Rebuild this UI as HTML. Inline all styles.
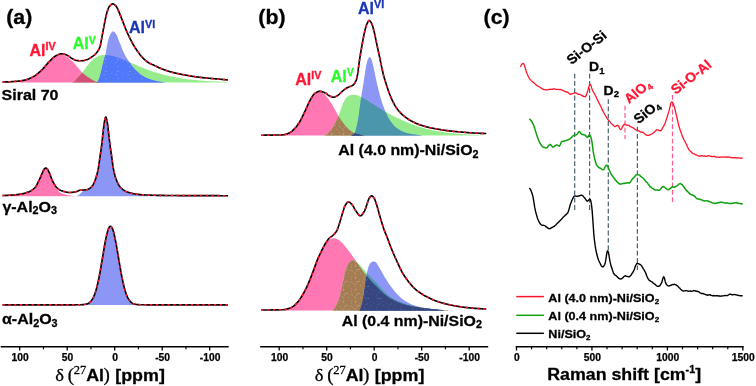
<!DOCTYPE html>
<html><head><meta charset="utf-8"><title>Figure</title>
<style>html,body{margin:0;padding:0;background:#fff}svg{display:block}</style></head>
<body>
<svg width="756" height="386" viewBox="0 0 756 386" font-family="Liberation Sans, Arial, sans-serif" font-weight="bold" stroke-linejoin="round">
<defs><pattern id="dW" width="12" height="12" patternUnits="userSpaceOnUse"><circle cx="3.1" cy="6.5" r="0.42" fill="#d9c3a5"/><circle cx="4.6" cy="7.1" r="0.42" fill="#d9c3a5"/><circle cx="7.4" cy="1.2" r="0.42" fill="#d9c3a5"/><circle cx="0.6" cy="9.7" r="0.42" fill="#d9c3a5"/><circle cx="3.4" cy="3.1" r="0.42" fill="#d9c3a5"/><circle cx="11.5" cy="5.7" r="0.42" fill="#d9c3a5"/><circle cx="9.7" cy="5.7" r="0.42" fill="#d9c3a5"/><circle cx="7.5" cy="2.2" r="0.42" fill="#d9c3a5"/><circle cx="7.5" cy="10.0" r="0.42" fill="#d9c3a5"/><circle cx="6.3" cy="8.7" r="0.42" fill="#d9c3a5"/><circle cx="7.9" cy="1.2" r="0.42" fill="#d9c3a5"/><circle cx="8.8" cy="7.0" r="0.42" fill="#d9c3a5"/><circle cx="3.8" cy="0.8" r="0.42" fill="#d9c3a5"/><circle cx="10.0" cy="5.7" r="0.42" fill="#d9c3a5"/></pattern><pattern id="dB" width="12" height="12" patternUnits="userSpaceOnUse"><circle cx="8.4" cy="10.2" r="0.42" fill="#5f86e6"/><circle cx="8.4" cy="10.6" r="0.42" fill="#5f86e6"/><circle cx="4.8" cy="9.3" r="0.42" fill="#5f86e6"/><circle cx="5.4" cy="10.8" r="0.42" fill="#5f86e6"/><circle cx="10.2" cy="1.6" r="0.42" fill="#5f86e6"/><circle cx="2.0" cy="2.9" r="0.42" fill="#5f86e6"/><circle cx="11.1" cy="5.3" r="0.42" fill="#5f86e6"/><circle cx="7.4" cy="3.8" r="0.42" fill="#5f86e6"/><circle cx="6.1" cy="4.7" r="0.42" fill="#5f86e6"/><circle cx="4.4" cy="6.9" r="0.42" fill="#5f86e6"/><circle cx="6.9" cy="10.4" r="0.42" fill="#5f86e6"/><circle cx="8.0" cy="10.7" r="0.42" fill="#5f86e6"/></pattern><pattern id="dP" width="12" height="12" patternUnits="userSpaceOnUse"><circle cx="9.9" cy="11.4" r="0.42" fill="#b79cf7"/><circle cx="7.9" cy="2.3" r="0.42" fill="#b79cf7"/><circle cx="10.0" cy="11.1" r="0.42" fill="#b79cf7"/><circle cx="10.5" cy="6.8" r="0.42" fill="#b79cf7"/><circle cx="8.4" cy="2.8" r="0.42" fill="#b79cf7"/><circle cx="9.6" cy="6.8" r="0.42" fill="#b79cf7"/><circle cx="3.6" cy="1.2" r="0.42" fill="#b79cf7"/><circle cx="9.9" cy="11.4" r="0.42" fill="#b79cf7"/></pattern><pattern id="dO" width="12" height="12" patternUnits="userSpaceOnUse"><circle cx="1.5" cy="9.3" r="0.42" fill="#ff9a8c"/><circle cx="5.0" cy="2.2" r="0.42" fill="#ff9a8c"/><circle cx="3.7" cy="9.0" r="0.42" fill="#ff9a8c"/><circle cx="10.1" cy="1.0" r="0.42" fill="#ff9a8c"/><circle cx="7.3" cy="1.0" r="0.42" fill="#ff9a8c"/><circle cx="8.4" cy="4.1" r="0.42" fill="#ff9a8c"/></pattern></defs>
<path d="M18.00,82.50 L18.00,82.50 L18.50,82.38 L19.00,82.26 L19.50,82.13 L20.00,82.00 L20.50,81.86 L21.00,81.73 L21.50,81.58 L22.00,81.44 L22.50,81.29 L23.00,81.14 L23.50,80.98 L24.00,80.83 L24.50,80.66 L25.00,80.50 L25.50,80.33 L26.00,80.17 L26.50,80.00 L27.00,79.83 L27.50,79.66 L28.00,79.48 L28.50,79.30 L29.00,79.11 L29.50,78.92 L30.00,78.72 L30.50,78.52 L31.00,78.30 L31.50,78.08 L32.00,77.85 L32.50,77.61 L33.00,77.36 L33.50,77.09 L34.00,76.81 L34.50,76.50 L35.00,76.17 L35.50,75.82 L36.00,75.46 L36.50,75.07 L37.00,74.68 L37.50,74.27 L38.00,73.85 L38.50,73.41 L39.00,72.97 L39.50,72.52 L40.00,72.07 L40.50,71.61 L41.00,71.15 L41.50,70.69 L42.00,70.22 L42.50,69.72 L43.00,69.19 L43.50,68.65 L44.00,68.08 L44.50,67.50 L45.00,66.91 L45.50,66.31 L46.00,65.71 L46.50,65.11 L47.00,64.52 L47.50,63.93 L48.00,63.36 L48.50,62.81 L49.00,62.28 L49.50,61.78 L50.00,61.30 L50.50,60.83 L51.00,60.35 L51.50,59.87 L52.00,59.39 L52.50,58.91 L53.00,58.44 L53.50,58.00 L54.00,57.58 L54.50,57.19 L55.00,56.84 L55.50,56.53 L56.00,56.27 L56.50,56.06 L57.00,55.91 L57.50,55.77 L58.00,55.63 L58.50,55.50 L59.00,55.38 L59.50,55.27 L60.00,55.18 L60.50,55.10 L61.00,55.05 L61.50,55.01 L62.00,55.00 L62.50,55.02 L63.00,55.09 L63.50,55.20 L64.00,55.35 L64.50,55.52 L65.00,55.72 L65.50,55.93 L66.00,56.16 L66.50,56.40 L67.00,56.67 L67.50,57.04 L68.00,57.49 L68.50,57.99 L69.00,58.51 L69.50,59.03 L70.00,59.50 L70.50,59.93 L71.00,60.36 L71.50,60.77 L72.00,61.18 L72.50,61.61 L73.00,62.05 L73.50,62.51 L74.00,63.00 L74.50,63.53 L75.00,64.09 L75.50,64.67 L76.00,65.28 L76.50,65.89 L77.00,66.51 L77.50,67.13 L78.00,67.75 L78.50,68.35 L79.00,68.93 L79.50,69.53 L80.00,70.14 L80.50,70.75 L81.00,71.33 L81.50,71.89 L82.00,72.41 L82.50,72.88 L83.00,73.33 L83.50,73.76 L84.00,74.17 L84.50,74.57 L85.00,74.96 L85.50,75.33 L86.00,75.70 L86.50,76.06 L87.00,76.41 L87.50,76.75 L88.00,77.09 L88.50,77.43 L89.00,77.77 L89.50,78.11 L90.00,78.44 L90.50,78.77 L91.00,79.09 L91.50,79.40 L92.00,79.70 L92.50,79.98 L93.00,80.25 L93.50,80.50 L94.00,80.74 L94.50,80.98 L95.00,81.21 L95.50,81.43 L96.00,81.63 L96.50,81.82 L97.00,81.97 L97.50,82.10 L98.00,82.21 L98.50,82.30 L99.00,82.39 L99.50,82.45 L99.50,82.50 Z" fill="#ff78b4"/>
<path d="M71.50,82.50 L71.50,82.47 L72.00,82.40 L72.50,82.30 L73.00,82.17 L73.50,81.94 L74.00,81.57 L74.50,81.10 L75.00,80.55 L75.50,79.97 L76.00,79.38 L76.50,78.82 L77.00,78.30 L77.50,77.79 L78.00,77.27 L78.50,76.75 L79.00,76.22 L79.50,75.68 L80.00,75.14 L80.50,74.58 L81.00,74.01 L81.50,73.43 L82.00,72.84 L82.50,72.23 L83.00,71.59 L83.50,70.92 L84.00,70.23 L84.50,69.54 L85.00,68.84 L85.50,68.15 L86.00,67.48 L86.50,66.83 L87.00,66.20 L87.50,65.56 L88.00,64.93 L88.50,64.30 L89.00,63.68 L89.50,63.08 L90.00,62.49 L90.50,61.93 L91.00,61.40 L91.50,60.90 L92.00,60.42 L92.50,59.95 L93.00,59.49 L93.50,59.04 L94.00,58.61 L94.50,58.20 L95.00,57.82 L95.50,57.47 L96.00,57.16 L96.50,56.90 L97.00,56.66 L97.50,56.43 L98.00,56.20 L98.50,55.99 L99.00,55.79 L99.50,55.62 L100.00,55.46 L100.50,55.34 L101.00,55.25 L101.50,55.19 L102.00,55.15 L102.50,55.11 L103.00,55.07 L103.50,55.04 L104.00,55.02 L104.50,55.00 L105.00,55.00 L105.50,55.01 L106.00,55.03 L106.50,55.06 L107.00,55.10 L107.50,55.15 L108.00,55.21 L108.50,55.28 L109.00,55.35 L109.50,55.43 L110.00,55.51 L110.50,55.60 L111.00,55.68 L111.50,55.77 L112.00,55.85 L112.50,55.95 L113.00,56.06 L113.50,56.18 L114.00,56.31 L114.50,56.45 L115.00,56.60 L115.50,56.75 L116.00,56.91 L116.50,57.08 L117.00,57.25 L117.50,57.42 L118.00,57.60 L118.50,57.77 L119.00,57.95 L119.50,58.13 L120.00,58.30 L120.50,58.48 L121.00,58.66 L121.50,58.85 L122.00,59.04 L122.50,59.24 L123.00,59.45 L123.50,59.65 L124.00,59.86 L124.50,60.07 L125.00,60.29 L125.50,60.50 L126.00,60.72 L126.50,60.93 L127.00,61.15 L127.50,61.36 L128.00,61.57 L128.50,61.78 L129.00,61.99 L129.50,62.21 L130.00,62.42 L130.50,62.64 L131.00,62.85 L131.50,63.07 L132.00,63.28 L132.50,63.50 L133.00,63.72 L133.50,63.93 L134.00,64.15 L134.50,64.36 L135.00,64.58 L135.50,64.79 L136.00,65.01 L136.50,65.22 L137.00,65.43 L137.50,65.64 L138.00,65.85 L138.50,66.06 L139.00,66.27 L139.50,66.47 L140.00,66.68 L140.50,66.89 L141.00,67.10 L141.50,67.30 L142.00,67.51 L142.50,67.71 L143.00,67.91 L143.50,68.11 L144.00,68.31 L144.50,68.51 L145.00,68.70 L145.50,68.89 L146.00,69.08 L146.50,69.27 L147.00,69.46 L147.50,69.65 L148.00,69.84 L148.50,70.02 L149.00,70.20 L149.50,70.39 L150.00,70.57 L150.50,70.75 L151.00,70.92 L151.50,71.09 L152.00,71.27 L152.50,71.44 L153.00,71.60 L153.50,71.77 L154.00,71.93 L154.50,72.09 L155.00,72.25 L155.50,72.40 L156.00,72.56 L156.50,72.71 L157.00,72.86 L157.50,73.01 L158.00,73.16 L158.50,73.31 L159.00,73.45 L159.50,73.60 L160.00,73.74 L160.50,73.87 L161.00,74.01 L161.50,74.15 L162.00,74.28 L162.50,74.41 L163.00,74.54 L163.50,74.67 L164.00,74.80 L164.50,74.92 L165.00,75.05 L165.50,75.17 L166.00,75.29 L166.50,75.41 L167.00,75.53 L167.50,75.64 L168.00,75.76 L168.50,75.87 L169.00,75.98 L169.50,76.09 L170.00,76.20 L170.50,76.31 L171.00,76.41 L171.50,76.51 L172.00,76.62 L172.50,76.72 L173.00,76.81 L173.50,76.91 L174.00,77.01 L174.50,77.10 L175.00,77.20 L175.50,77.29 L176.00,77.38 L176.50,77.47 L177.00,77.57 L177.50,77.66 L178.00,77.75 L178.50,77.84 L179.00,77.93 L179.50,78.02 L180.00,78.11 L180.50,78.20 L181.00,78.29 L181.50,78.38 L182.00,78.47 L182.50,78.56 L183.00,78.65 L183.50,78.73 L184.00,78.81 L184.50,78.89 L185.00,78.97 L185.50,79.04 L186.00,79.11 L186.50,79.18 L187.00,79.24 L187.50,79.29 L188.00,79.35 L188.50,79.40 L189.00,79.45 L189.50,79.50 L190.00,79.55 L190.50,79.59 L191.00,79.64 L191.50,79.68 L192.00,79.73 L192.50,79.77 L193.00,79.82 L193.50,79.86 L194.00,79.91 L194.50,79.95 L195.00,80.00 L195.50,80.05 L196.00,80.10 L196.50,80.15 L197.00,80.20 L197.50,80.25 L198.00,80.30 L198.50,80.36 L199.00,80.41 L199.50,80.46 L200.00,80.51 L200.50,80.56 L201.00,80.61 L201.50,80.65 L202.00,80.70 L202.50,80.74 L203.00,80.78 L203.50,80.81 L204.00,80.85 L204.50,80.89 L205.00,80.92 L205.50,80.95 L206.00,80.98 L206.50,81.01 L207.00,81.05 L207.50,81.07 L208.00,81.10 L208.50,81.13 L209.00,81.16 L209.50,81.19 L210.00,81.21 L210.50,81.24 L211.00,81.26 L211.50,81.29 L212.00,81.31 L212.50,81.34 L213.00,81.36 L213.50,81.39 L214.00,81.41 L214.50,81.43 L215.00,81.45 L215.50,81.47 L216.00,81.49 L216.50,81.51 L217.00,81.53 L217.50,81.56 L218.00,81.58 L218.50,81.60 L219.00,81.62 L219.50,81.64 L220.00,81.66 L220.50,81.68 L221.00,81.70 L221.50,81.72 L222.00,81.74 L222.50,81.76 L223.00,81.79 L223.50,81.81 L224.00,81.83 L224.50,81.85 L225.00,81.87 L225.50,81.89 L226.00,81.91 L226.50,81.94 L227.00,81.96 L227.50,81.98 L228.00,82.00 L228.00,82.50 Z" fill="#96eb8c"/>
<path d="M96.50,82.50 L96.50,82.50 L97.00,82.35 L97.50,82.00 L98.00,81.29 L98.50,80.10 L99.00,78.66 L99.50,77.22 L100.00,75.67 L100.50,73.96 L101.00,72.13 L101.50,70.21 L102.00,68.06 L102.50,65.76 L103.00,63.49 L103.50,61.41 L104.00,59.61 L104.50,57.91 L105.00,56.11 L105.50,53.99 L106.00,51.35 L106.50,48.47 L107.00,45.67 L107.50,43.30 L108.00,41.27 L108.50,39.34 L109.00,37.60 L109.50,36.12 L110.00,35.00 L110.50,34.09 L111.00,33.23 L111.50,32.47 L112.00,31.85 L112.50,31.45 L113.00,31.30 L113.50,31.40 L114.00,31.66 L114.50,32.08 L115.00,32.62 L115.50,33.25 L116.00,33.95 L116.50,34.70 L117.00,35.56 L117.50,36.83 L118.00,38.32 L118.50,39.74 L119.00,40.97 L119.50,42.14 L120.00,43.30 L120.50,44.50 L121.00,45.78 L121.50,47.13 L122.00,48.49 L122.50,49.81 L123.00,51.03 L123.50,52.12 L124.00,53.14 L124.50,54.11 L125.00,55.04 L125.50,55.93 L126.00,56.80 L126.50,57.63 L127.00,58.45 L127.50,59.24 L128.00,60.03 L128.50,60.81 L129.00,61.58 L129.50,62.34 L130.00,63.09 L130.50,63.82 L131.00,64.53 L131.50,65.22 L132.00,65.89 L132.50,66.53 L133.00,67.14 L133.50,67.73 L134.00,68.30 L134.50,68.85 L135.00,69.39 L135.50,69.91 L136.00,70.41 L136.50,70.89 L137.00,71.36 L137.50,71.81 L138.00,72.25 L138.50,72.67 L139.00,73.08 L139.50,73.48 L140.00,73.88 L140.50,74.27 L141.00,74.65 L141.50,75.03 L142.00,75.38 L142.50,75.73 L143.00,76.06 L143.50,76.37 L144.00,76.67 L144.50,76.94 L145.00,77.20 L145.50,77.44 L146.00,77.68 L146.50,77.90 L147.00,78.13 L147.50,78.34 L148.00,78.54 L148.50,78.74 L149.00,78.93 L149.50,79.12 L150.00,79.29 L150.50,79.47 L151.00,79.63 L151.50,79.79 L152.00,79.94 L152.50,80.08 L153.00,80.22 L153.50,80.35 L154.00,80.48 L154.50,80.60 L155.00,80.73 L155.50,80.84 L156.00,80.96 L156.50,81.07 L157.00,81.17 L157.50,81.28 L158.00,81.37 L158.50,81.47 L159.00,81.56 L159.50,81.65 L160.00,81.74 L160.50,81.82 L161.00,81.90 L161.50,81.97 L162.00,82.04 L162.50,82.11 L163.00,82.18 L163.50,82.24 L164.00,82.30 L164.50,82.35 L165.00,82.41 L165.50,82.45 L165.50,82.50 Z" fill="#8c96f5"/>
<path d="M18.00,82.50 L18.00,82.50 L18.50,82.38 L19.00,82.26 L19.50,82.13 L20.00,82.00 L20.50,81.86 L21.00,81.73 L21.50,81.58 L22.00,81.44 L22.50,81.29 L23.00,81.14 L23.50,80.98 L24.00,80.83 L24.50,80.66 L25.00,80.50 L25.50,80.33 L26.00,80.17 L26.50,80.00 L27.00,79.83 L27.50,79.66 L28.00,79.48 L28.50,79.30 L29.00,79.11 L29.50,78.92 L30.00,78.72 L30.50,78.52 L31.00,78.30 L31.50,78.08 L32.00,77.85 L32.50,77.61 L33.00,77.36 L33.50,77.09 L34.00,76.81 L34.50,76.50 L35.00,76.17 L35.50,75.82 L36.00,75.46 L36.50,75.07 L37.00,74.68 L37.50,74.27 L38.00,73.85 L38.50,73.41 L39.00,72.97 L39.50,72.52 L40.00,72.07 L40.50,71.61 L41.00,71.15 L41.50,70.69 L42.00,70.22 L42.50,69.72 L43.00,69.19 L43.50,68.65 L44.00,68.08 L44.50,67.50 L45.00,66.91 L45.50,66.31 L46.00,65.71 L46.50,65.11 L47.00,64.52 L47.50,63.93 L48.00,63.36 L48.50,62.81 L49.00,62.28 L49.50,61.78 L50.00,61.30 L50.50,60.83 L51.00,60.35 L51.50,59.87 L52.00,59.39 L52.50,58.91 L53.00,58.44 L53.50,58.00 L54.00,57.58 L54.50,57.19 L55.00,56.84 L55.50,56.53 L56.00,56.27 L56.50,56.06 L57.00,55.91 L57.50,55.77 L58.00,55.63 L58.50,55.50 L59.00,55.38 L59.50,55.27 L60.00,55.18 L60.50,55.10 L61.00,55.05 L61.50,55.01 L62.00,55.00 L62.50,55.02 L63.00,55.09 L63.50,55.20 L64.00,55.35 L64.50,55.52 L65.00,55.72 L65.50,55.93 L66.00,56.16 L66.50,56.40 L67.00,56.67 L67.50,57.04 L68.00,57.49 L68.50,57.99 L69.00,58.51 L69.50,59.03 L70.00,59.50 L70.50,59.93 L71.00,60.36 L71.50,60.77 L72.00,61.18 L72.50,61.61 L73.00,62.05 L73.50,62.51 L74.00,63.00 L74.50,63.53 L75.00,64.09 L75.50,64.67 L76.00,65.28 L76.50,65.89 L77.00,66.51 L77.50,67.13 L78.00,67.75 L78.50,68.35 L79.00,68.93 L79.50,69.53 L80.00,70.14 L80.50,70.75 L81.00,71.33 L81.50,71.89 L82.00,72.41 L82.50,72.88 L83.00,73.33 L83.50,73.76 L84.00,74.17 L84.50,74.57 L85.00,74.96 L85.50,75.33 L86.00,75.70 L86.50,76.06 L87.00,76.41 L87.50,76.75 L88.00,77.09 L88.50,77.43 L89.00,77.77 L89.50,78.11 L90.00,78.44 L90.50,78.77 L91.00,79.09 L91.50,79.40 L92.00,79.70 L92.50,79.98 L93.00,80.25 L93.50,80.50 L94.00,80.74 L94.50,80.98 L95.00,81.21 L95.50,81.43 L96.00,81.63 L96.50,81.82 L97.00,81.97 L97.50,82.10 L98.00,82.21 L98.50,82.30 L99.00,82.39 L99.50,82.45 L99.50,82.50 Z" fill="url(#dO)"/>
<path d="M71.50,82.50 L71.50,82.47 L72.00,82.40 L72.50,82.30 L73.00,82.17 L73.50,81.94 L74.00,81.57 L74.50,81.10 L75.00,80.55 L75.50,79.97 L76.00,79.38 L76.50,78.82 L77.00,78.30 L77.50,77.79 L78.00,77.27 L78.50,76.75 L79.00,76.22 L79.50,75.68 L80.00,75.14 L80.50,74.58 L81.00,74.01 L81.50,73.43 L82.00,72.84 L82.50,72.88 L83.00,73.33 L83.50,73.76 L84.00,74.17 L84.50,74.57 L85.00,74.96 L85.50,75.33 L86.00,75.70 L86.50,76.06 L87.00,76.41 L87.50,76.75 L88.00,77.09 L88.50,77.43 L89.00,77.77 L89.50,78.11 L90.00,78.44 L90.50,78.77 L91.00,79.09 L91.50,79.40 L92.00,79.70 L92.50,79.98 L93.00,80.25 L93.50,80.50 L94.00,80.74 L94.50,80.98 L95.00,81.21 L95.50,81.43 L96.00,81.63 L96.50,81.82 L97.00,81.97 L97.50,82.10 L98.00,82.21 L98.50,82.30 L99.00,82.39 L99.50,82.45 L99.50,82.50 Z" fill="#d25078"/>
<path d="M96.50,82.50 L96.50,82.50 L97.00,82.35 L97.50,82.00 L98.00,81.29 L98.50,80.10 L99.00,78.66 L99.50,77.22 L100.00,75.67 L100.50,73.96 L101.00,72.13 L101.50,70.21 L102.00,68.06 L102.50,65.76 L103.00,63.49 L103.50,61.41 L104.00,59.61 L104.50,57.91 L105.00,56.11 L105.50,55.01 L106.00,55.03 L106.50,55.06 L107.00,55.10 L107.50,55.15 L108.00,55.21 L108.50,55.28 L109.00,55.35 L109.50,55.43 L110.00,55.51 L110.50,55.60 L111.00,55.68 L111.50,55.77 L112.00,55.85 L112.50,55.95 L113.00,56.06 L113.50,56.18 L114.00,56.31 L114.50,56.45 L115.00,56.60 L115.50,56.75 L116.00,56.91 L116.50,57.08 L117.00,57.25 L117.50,57.42 L118.00,57.60 L118.50,57.77 L119.00,57.95 L119.50,58.13 L120.00,58.30 L120.50,58.48 L121.00,58.66 L121.50,58.85 L122.00,59.04 L122.50,59.24 L123.00,59.45 L123.50,59.65 L124.00,59.86 L124.50,60.07 L125.00,60.29 L125.50,60.50 L126.00,60.72 L126.50,60.93 L127.00,61.15 L127.50,61.36 L128.00,61.57 L128.50,61.78 L129.00,61.99 L129.50,62.34 L130.00,63.09 L130.50,63.82 L131.00,64.53 L131.50,65.22 L132.00,65.89 L132.50,66.53 L133.00,67.14 L133.50,67.73 L134.00,68.30 L134.50,68.85 L135.00,69.39 L135.50,69.91 L136.00,70.41 L136.50,70.89 L137.00,71.36 L137.50,71.81 L138.00,72.25 L138.50,72.67 L139.00,73.08 L139.50,73.48 L140.00,73.88 L140.50,74.27 L141.00,74.65 L141.50,75.03 L142.00,75.38 L142.50,75.73 L143.00,76.06 L143.50,76.37 L144.00,76.67 L144.50,76.94 L145.00,77.20 L145.50,77.44 L146.00,77.68 L146.50,77.90 L147.00,78.13 L147.50,78.34 L148.00,78.54 L148.50,78.74 L149.00,78.93 L149.50,79.12 L150.00,79.29 L150.50,79.47 L151.00,79.63 L151.50,79.79 L152.00,79.94 L152.50,80.08 L153.00,80.22 L153.50,80.35 L154.00,80.48 L154.50,80.60 L155.00,80.73 L155.50,80.84 L156.00,80.96 L156.50,81.07 L157.00,81.17 L157.50,81.28 L158.00,81.37 L158.50,81.47 L159.00,81.56 L159.50,81.65 L160.00,81.74 L160.50,81.82 L161.00,81.90 L161.50,81.97 L162.00,82.04 L162.50,82.11 L163.00,82.18 L163.50,82.24 L164.00,82.30 L164.50,82.35 L165.00,82.41 L165.50,82.45 L165.50,82.50 Z" fill="#5078fa"/>
<path d="M96.50,82.50 L96.50,82.50 L97.00,82.35 L97.50,82.00 L98.00,81.29 L98.50,80.10 L99.00,78.66 L99.50,77.22 L100.00,75.67 L100.50,73.96 L101.00,72.13 L101.50,70.21 L102.00,68.06 L102.50,65.76 L103.00,63.49 L103.50,61.41 L104.00,59.61 L104.50,57.91 L105.00,56.11 L105.50,55.01 L106.00,55.03 L106.50,55.06 L107.00,55.10 L107.50,55.15 L108.00,55.21 L108.50,55.28 L109.00,55.35 L109.50,55.43 L110.00,55.51 L110.50,55.60 L111.00,55.68 L111.50,55.77 L112.00,55.85 L112.50,55.95 L113.00,56.06 L113.50,56.18 L114.00,56.31 L114.50,56.45 L115.00,56.60 L115.50,56.75 L116.00,56.91 L116.50,57.08 L117.00,57.25 L117.50,57.42 L118.00,57.60 L118.50,57.77 L119.00,57.95 L119.50,58.13 L120.00,58.30 L120.50,58.48 L121.00,58.66 L121.50,58.85 L122.00,59.04 L122.50,59.24 L123.00,59.45 L123.50,59.65 L124.00,59.86 L124.50,60.07 L125.00,60.29 L125.50,60.50 L126.00,60.72 L126.50,60.93 L127.00,61.15 L127.50,61.36 L128.00,61.57 L128.50,61.78 L129.00,61.99 L129.50,62.34 L130.00,63.09 L130.50,63.82 L131.00,64.53 L131.50,65.22 L132.00,65.89 L132.50,66.53 L133.00,67.14 L133.50,67.73 L134.00,68.30 L134.50,68.85 L135.00,69.39 L135.50,69.91 L136.00,70.41 L136.50,70.89 L137.00,71.36 L137.50,71.81 L138.00,72.25 L138.50,72.67 L139.00,73.08 L139.50,73.48 L140.00,73.88 L140.50,74.27 L141.00,74.65 L141.50,75.03 L142.00,75.38 L142.50,75.73 L143.00,76.06 L143.50,76.37 L144.00,76.67 L144.50,76.94 L145.00,77.20 L145.50,77.44 L146.00,77.68 L146.50,77.90 L147.00,78.13 L147.50,78.34 L148.00,78.54 L148.50,78.74 L149.00,78.93 L149.50,79.12 L150.00,79.29 L150.50,79.47 L151.00,79.63 L151.50,79.79 L152.00,79.94 L152.50,80.08 L153.00,80.22 L153.50,80.35 L154.00,80.48 L154.50,80.60 L155.00,80.73 L155.50,80.84 L156.00,80.96 L156.50,81.07 L157.00,81.17 L157.50,81.28 L158.00,81.37 L158.50,81.47 L159.00,81.56 L159.50,81.65 L160.00,81.74 L160.50,81.82 L161.00,81.90 L161.50,81.97 L162.00,82.04 L162.50,82.11 L163.00,82.18 L163.50,82.24 L164.00,82.30 L164.50,82.35 L165.00,82.41 L165.50,82.45 L165.50,82.50 Z" fill="url(#dP)"/>
<path d="M96.50,82.50 L96.50,82.50 L97.00,82.35 L97.50,82.10 L98.00,82.21 L98.50,82.30 L99.00,82.39 L99.50,82.45 L99.50,82.50 Z" fill="#7a3c78"/>
<path d="M2.50,82.00 L3.00,82.00 L3.50,82.00 L4.00,81.99 L4.50,81.98 L5.00,81.97 L5.50,81.96 L6.00,81.94 L6.50,81.93 L7.00,81.91 L7.50,81.89 L8.00,81.87 L8.50,81.85 L9.00,81.82 L9.50,81.79 L10.00,81.77 L10.50,81.74 L11.00,81.71 L11.50,81.68 L12.00,81.64 L12.50,81.61 L13.00,81.58 L13.50,81.54 L14.00,81.51 L14.50,81.47 L15.00,81.43 L15.50,81.39 L16.00,81.35 L16.50,81.32 L17.00,81.28 L17.50,81.23 L18.00,81.18 L18.50,81.13 L19.00,81.06 L19.50,81.00 L20.00,80.93 L20.50,80.86 L21.00,80.78 L21.50,80.69 L22.00,80.61 L22.50,80.52 L23.00,80.42 L23.50,80.32 L24.00,80.22 L24.50,80.11 L25.00,80.00 L25.50,79.88 L26.00,79.75 L26.50,79.61 L27.00,79.45 L27.50,79.29 L28.00,79.11 L28.50,78.92 L29.00,78.73 L29.50,78.52 L30.00,78.31 L30.50,78.08 L31.00,77.85 L31.50,77.62 L32.00,77.37 L32.50,77.12 L33.00,76.86 L33.50,76.59 L34.00,76.31 L34.50,76.00 L35.00,75.67 L35.50,75.32 L36.00,74.96 L36.50,74.57 L37.00,74.18 L37.50,73.77 L38.00,73.35 L38.50,72.91 L39.00,72.47 L39.50,72.02 L40.00,71.57 L40.50,71.11 L41.00,70.65 L41.50,70.19 L42.00,69.72 L42.50,69.22 L43.00,68.70 L43.50,68.15 L44.00,67.59 L44.50,67.01 L45.00,66.42 L45.50,65.83 L46.00,65.23 L46.50,64.63 L47.00,64.04 L47.50,63.46 L48.00,62.89 L48.50,62.33 L49.00,61.80 L49.50,61.28 L50.00,60.80 L50.50,60.33 L51.00,59.84 L51.50,59.36 L52.00,58.88 L52.50,58.40 L53.00,57.94 L53.50,57.49 L54.00,57.06 L54.50,56.66 L55.00,56.29 L55.50,55.95 L56.00,55.65 L56.50,55.39 L57.00,55.17 L57.50,54.95 L58.00,54.74 L58.50,54.54 L59.00,54.35 L59.50,54.18 L60.00,54.04 L60.50,53.92 L61.00,53.84 L61.50,53.80 L62.00,53.81 L62.50,53.84 L63.00,53.91 L63.50,54.01 L64.00,54.13 L64.50,54.26 L65.00,54.42 L65.50,54.58 L66.00,54.75 L66.50,54.93 L67.00,55.12 L67.50,55.37 L68.00,55.67 L68.50,56.02 L69.00,56.39 L69.50,56.77 L70.00,57.16 L70.50,57.53 L71.00,57.88 L71.50,58.19 L72.00,58.46 L72.50,58.74 L73.00,59.02 L73.50,59.30 L74.00,59.56 L74.50,59.81 L75.00,60.03 L75.50,60.22 L76.00,60.37 L76.50,60.47 L77.00,60.53 L77.50,60.58 L78.00,60.63 L78.50,60.67 L79.00,60.70 L79.50,60.73 L80.00,60.76 L80.50,60.78 L81.00,60.79 L81.50,60.80 L82.00,60.79 L82.50,60.76 L83.00,60.69 L83.50,60.60 L84.00,60.49 L84.50,60.37 L85.00,60.23 L85.50,60.08 L86.00,59.92 L86.50,59.76 L87.00,59.60 L87.50,59.41 L88.00,59.19 L88.50,58.95 L89.00,58.69 L89.50,58.40 L90.00,58.10 L90.50,57.79 L91.00,57.47 L91.50,57.13 L92.00,56.80 L92.50,56.44 L93.00,56.07 L93.50,55.68 L94.00,55.26 L94.50,54.82 L95.00,54.35 L95.50,53.85 L96.00,53.31 L96.50,52.74 L97.00,52.13 L97.50,51.49 L98.00,50.78 L98.50,49.97 L99.00,49.04 L99.50,47.96 L100.00,46.70 L100.50,44.80 L101.00,42.17 L101.50,39.36 L102.00,36.74 L102.50,34.06 L103.00,31.34 L103.50,28.63 L104.00,26.01 L104.50,23.49 L105.00,20.92 L105.50,18.40 L106.00,16.06 L106.50,14.01 L107.00,12.29 L107.50,10.68 L108.00,9.20 L108.50,7.95 L109.00,6.98 L109.50,6.32 L110.00,5.73 L110.50,5.18 L111.00,4.70 L111.50,4.32 L112.00,4.05 L112.50,3.91 L113.00,3.93 L113.50,4.07 L114.00,4.33 L114.50,4.67 L115.00,5.08 L115.50,5.52 L116.00,6.01 L116.50,6.69 L117.00,7.57 L117.50,8.60 L118.00,9.73 L118.50,10.90 L119.00,12.05 L119.50,13.18 L120.00,14.37 L120.50,15.62 L121.00,16.91 L121.50,18.21 L122.00,19.52 L122.50,20.80 L123.00,22.08 L123.50,23.38 L124.00,24.68 L124.50,25.97 L125.00,27.24 L125.50,28.48 L126.00,29.67 L126.50,30.83 L127.00,31.96 L127.50,33.06 L128.00,34.15 L128.50,35.22 L129.00,36.28 L129.50,37.33 L130.00,38.38 L130.50,39.41 L131.00,40.43 L131.50,41.43 L132.00,42.38 L132.50,43.30 L133.00,44.18 L133.50,45.03 L134.00,45.86 L134.50,46.66 L135.00,47.45 L135.50,48.21 L136.00,48.97 L136.50,49.71 L137.00,50.44 L137.50,51.17 L138.00,51.89 L138.50,52.61 L139.00,53.32 L139.50,54.00 L140.00,54.67 L140.50,55.30 L141.00,55.91 L141.50,56.48 L142.00,57.02 L142.50,57.54 L143.00,58.06 L143.50,58.55 L144.00,59.04 L144.50,59.51 L145.00,59.96 L145.50,60.40 L146.00,60.82 L146.50,61.22 L147.00,61.61 L147.50,61.97 L148.00,62.31 L148.50,62.62 L149.00,62.92 L149.50,63.19 L150.00,63.45 L150.50,63.70 L151.00,63.94 L151.50,64.17 L152.00,64.40 L152.50,64.63 L153.00,64.86 L153.50,65.10 L154.00,65.33 L154.50,65.57 L155.00,65.81 L155.50,66.05 L156.00,66.29 L156.50,66.52 L157.00,66.76 L157.50,66.99 L158.00,67.22 L158.50,67.44 L159.00,67.67 L159.50,67.89 L160.00,68.10 L160.50,68.31 L161.00,68.52 L161.50,68.72 L162.00,68.92 L162.50,69.11 L163.00,69.31 L163.50,69.50 L164.00,69.69 L164.50,69.87 L165.00,70.06 L165.50,70.24 L166.00,70.42 L166.50,70.59 L167.00,70.76 L167.50,70.93 L168.00,71.09 L168.50,71.25 L169.00,71.40 L169.50,71.55 L170.00,71.70 L170.50,71.84 L171.00,71.98 L171.50,72.11 L172.00,72.24 L172.50,72.37 L173.00,72.50 L173.50,72.62 L174.00,72.74 L174.50,72.86 L175.00,72.97 L175.50,73.09 L176.00,73.20 L176.50,73.31 L177.00,73.42 L177.50,73.53 L178.00,73.64 L178.50,73.74 L179.00,73.85 L179.50,73.95 L180.00,74.05 L180.50,74.15 L181.00,74.25 L181.50,74.35 L182.00,74.44 L182.50,74.54 L183.00,74.63 L183.50,74.72 L184.00,74.81 L184.50,74.90 L185.00,74.99 L185.50,75.08 L186.00,75.17 L186.50,75.26 L187.00,75.35 L187.50,75.44 L188.00,75.53 L188.50,75.62 L189.00,75.71 L189.50,75.80 L190.00,75.89 L190.50,75.98 L191.00,76.07 L191.50,76.15 L192.00,76.24 L192.50,76.32 L193.00,76.40 L193.50,76.48 L194.00,76.55 L194.50,76.63 L195.00,76.70 L195.50,76.77 L196.00,76.84 L196.50,76.90 L197.00,76.97 L197.50,77.03 L198.00,77.10 L198.50,77.16 L199.00,77.22 L199.50,77.28 L200.00,77.34 L200.50,77.39 L201.00,77.45 L201.50,77.50 L202.00,77.56 L202.50,77.61 L203.00,77.67 L203.50,77.72 L204.00,77.77 L204.50,77.82 L205.00,77.88 L205.50,77.92 L206.00,77.97 L206.50,78.02 L207.00,78.07 L207.50,78.12 L208.00,78.16 L208.50,78.21 L209.00,78.26 L209.50,78.30 L210.00,78.35 L210.50,78.39 L211.00,78.44 L211.50,78.48 L212.00,78.53 L212.50,78.57 L213.00,78.62 L213.50,78.66 L214.00,78.70 L214.50,78.74 L215.00,78.78 L215.50,78.83 L216.00,78.87 L216.50,78.91 L217.00,78.95 L217.50,78.99 L218.00,79.04 L218.50,79.08 L219.00,79.12 L219.50,79.16 L220.00,79.21 L220.50,79.25 L221.00,79.30 L221.50,79.35 L222.00,79.39 L222.50,79.44 L223.00,79.49 L223.50,79.54 L224.00,79.59 L224.50,79.64 L225.00,79.69 L225.50,79.74 L226.00,79.79 L226.50,79.84 L227.00,79.89 L227.50,79.95 L228.00,80.00" fill="none" stroke="#000" stroke-width="1.65" stroke-linejoin="round"/>
<path d="M2.50,82.00 L3.00,82.00 L3.50,82.00 L4.00,81.99 L4.50,81.98 L5.00,81.97 L5.50,81.96 L6.00,81.94 L6.50,81.93 L7.00,81.91 L7.50,81.89 L8.00,81.87 L8.50,81.85 L9.00,81.82 L9.50,81.79 L10.00,81.77 L10.50,81.74 L11.00,81.71 L11.50,81.68 L12.00,81.64 L12.50,81.61 L13.00,81.58 L13.50,81.54 L14.00,81.51 L14.50,81.47 L15.00,81.43 L15.50,81.39 L16.00,81.35 L16.50,81.32 L17.00,81.28 L17.50,81.23 L18.00,81.18 L18.50,81.13 L19.00,81.06 L19.50,81.00 L20.00,80.93 L20.50,80.86 L21.00,80.78 L21.50,80.69 L22.00,80.61 L22.50,80.52 L23.00,80.42 L23.50,80.32 L24.00,80.22 L24.50,80.11 L25.00,80.00 L25.50,79.88 L26.00,79.75 L26.50,79.61 L27.00,79.45 L27.50,79.29 L28.00,79.11 L28.50,78.92 L29.00,78.73 L29.50,78.52 L30.00,78.31 L30.50,78.08 L31.00,77.85 L31.50,77.62 L32.00,77.37 L32.50,77.12 L33.00,76.86 L33.50,76.59 L34.00,76.31 L34.50,76.00 L35.00,75.67 L35.50,75.32 L36.00,74.96 L36.50,74.57 L37.00,74.18 L37.50,73.77 L38.00,73.35 L38.50,72.91 L39.00,72.47 L39.50,72.02 L40.00,71.57 L40.50,71.11 L41.00,70.65 L41.50,70.19 L42.00,69.72 L42.50,69.22 L43.00,68.70 L43.50,68.15 L44.00,67.59 L44.50,67.01 L45.00,66.42 L45.50,65.83 L46.00,65.23 L46.50,64.63 L47.00,64.04 L47.50,63.46 L48.00,62.89 L48.50,62.33 L49.00,61.80 L49.50,61.28 L50.00,60.80 L50.50,60.33 L51.00,59.84 L51.50,59.36 L52.00,58.88 L52.50,58.40 L53.00,57.94 L53.50,57.49 L54.00,57.06 L54.50,56.66 L55.00,56.29 L55.50,55.95 L56.00,55.65 L56.50,55.39 L57.00,55.17 L57.50,54.95 L58.00,54.74 L58.50,54.54 L59.00,54.35 L59.50,54.18 L60.00,54.04 L60.50,53.92 L61.00,53.84 L61.50,53.80 L62.00,53.81 L62.50,53.84 L63.00,53.91 L63.50,54.01 L64.00,54.13 L64.50,54.26 L65.00,54.42 L65.50,54.58 L66.00,54.75 L66.50,54.93 L67.00,55.12 L67.50,55.37 L68.00,55.67 L68.50,56.02 L69.00,56.39 L69.50,56.77 L70.00,57.16 L70.50,57.53 L71.00,57.88 L71.50,58.19 L72.00,58.46 L72.50,58.74 L73.00,59.02 L73.50,59.30 L74.00,59.56 L74.50,59.81 L75.00,60.03 L75.50,60.22 L76.00,60.37 L76.50,60.47 L77.00,60.53 L77.50,60.58 L78.00,60.63 L78.50,60.67 L79.00,60.70 L79.50,60.73 L80.00,60.76 L80.50,60.78 L81.00,60.79 L81.50,60.80 L82.00,60.79 L82.50,60.76 L83.00,60.69 L83.50,60.60 L84.00,60.49 L84.50,60.37 L85.00,60.23 L85.50,60.08 L86.00,59.92 L86.50,59.76 L87.00,59.60 L87.50,59.41 L88.00,59.19 L88.50,58.95 L89.00,58.69 L89.50,58.40 L90.00,58.10 L90.50,57.79 L91.00,57.47 L91.50,57.13 L92.00,56.80 L92.50,56.44 L93.00,56.07 L93.50,55.68 L94.00,55.26 L94.50,54.82 L95.00,54.35 L95.50,53.85 L96.00,53.31 L96.50,52.74 L97.00,52.13 L97.50,51.49 L98.00,50.78 L98.50,49.97 L99.00,49.04 L99.50,47.96 L100.00,46.70 L100.50,44.80 L101.00,42.17 L101.50,39.36 L102.00,36.74 L102.50,34.06 L103.00,31.34 L103.50,28.63 L104.00,26.01 L104.50,23.49 L105.00,20.92 L105.50,18.40 L106.00,16.06 L106.50,14.01 L107.00,12.29 L107.50,10.68 L108.00,9.20 L108.50,7.95 L109.00,6.98 L109.50,6.32 L110.00,5.73 L110.50,5.18 L111.00,4.70 L111.50,4.32 L112.00,4.05 L112.50,3.91 L113.00,3.93 L113.50,4.07 L114.00,4.33 L114.50,4.67 L115.00,5.08 L115.50,5.52 L116.00,6.01 L116.50,6.69 L117.00,7.57 L117.50,8.60 L118.00,9.73 L118.50,10.90 L119.00,12.05 L119.50,13.18 L120.00,14.37 L120.50,15.62 L121.00,16.91 L121.50,18.21 L122.00,19.52 L122.50,20.80 L123.00,22.08 L123.50,23.38 L124.00,24.68 L124.50,25.97 L125.00,27.24 L125.50,28.48 L126.00,29.67 L126.50,30.83 L127.00,31.96 L127.50,33.06 L128.00,34.15 L128.50,35.22 L129.00,36.28 L129.50,37.33 L130.00,38.38 L130.50,39.41 L131.00,40.43 L131.50,41.43 L132.00,42.38 L132.50,43.30 L133.00,44.18 L133.50,45.03 L134.00,45.86 L134.50,46.66 L135.00,47.45 L135.50,48.21 L136.00,48.97 L136.50,49.71 L137.00,50.44 L137.50,51.17 L138.00,51.89 L138.50,52.61 L139.00,53.32 L139.50,54.00 L140.00,54.67 L140.50,55.30 L141.00,55.91 L141.50,56.48 L142.00,57.02 L142.50,57.54 L143.00,58.06 L143.50,58.55 L144.00,59.04 L144.50,59.51 L145.00,59.96 L145.50,60.40 L146.00,60.82 L146.50,61.22 L147.00,61.61 L147.50,61.97 L148.00,62.31 L148.50,62.62 L149.00,62.92 L149.50,63.19 L150.00,63.45 L150.50,63.70 L151.00,63.94 L151.50,64.17 L152.00,64.40 L152.50,64.63 L153.00,64.86 L153.50,65.10 L154.00,65.33 L154.50,65.57 L155.00,65.81 L155.50,66.05 L156.00,66.29 L156.50,66.52 L157.00,66.76 L157.50,66.99 L158.00,67.22 L158.50,67.44 L159.00,67.67 L159.50,67.89 L160.00,68.10 L160.50,68.31 L161.00,68.52 L161.50,68.72 L162.00,68.92 L162.50,69.11 L163.00,69.31 L163.50,69.50 L164.00,69.69 L164.50,69.87 L165.00,70.06 L165.50,70.24 L166.00,70.42 L166.50,70.59 L167.00,70.76 L167.50,70.93 L168.00,71.09 L168.50,71.25 L169.00,71.40 L169.50,71.55 L170.00,71.70 L170.50,71.84 L171.00,71.98 L171.50,72.11 L172.00,72.24 L172.50,72.37 L173.00,72.50 L173.50,72.62 L174.00,72.74 L174.50,72.86 L175.00,72.97 L175.50,73.09 L176.00,73.20 L176.50,73.31 L177.00,73.42 L177.50,73.53 L178.00,73.64 L178.50,73.74 L179.00,73.85 L179.50,73.95 L180.00,74.05 L180.50,74.15 L181.00,74.25 L181.50,74.35 L182.00,74.44 L182.50,74.54 L183.00,74.63 L183.50,74.72 L184.00,74.81 L184.50,74.90 L185.00,74.99 L185.50,75.08 L186.00,75.17 L186.50,75.26 L187.00,75.35 L187.50,75.44 L188.00,75.53 L188.50,75.62 L189.00,75.71 L189.50,75.80 L190.00,75.89 L190.50,75.98 L191.00,76.07 L191.50,76.15 L192.00,76.24 L192.50,76.32 L193.00,76.40 L193.50,76.48 L194.00,76.55 L194.50,76.63 L195.00,76.70 L195.50,76.77 L196.00,76.84 L196.50,76.90 L197.00,76.97 L197.50,77.03 L198.00,77.10 L198.50,77.16 L199.00,77.22 L199.50,77.28 L200.00,77.34 L200.50,77.39 L201.00,77.45 L201.50,77.50 L202.00,77.56 L202.50,77.61 L203.00,77.67 L203.50,77.72 L204.00,77.77 L204.50,77.82 L205.00,77.88 L205.50,77.92 L206.00,77.97 L206.50,78.02 L207.00,78.07 L207.50,78.12 L208.00,78.16 L208.50,78.21 L209.00,78.26 L209.50,78.30 L210.00,78.35 L210.50,78.39 L211.00,78.44 L211.50,78.48 L212.00,78.53 L212.50,78.57 L213.00,78.62 L213.50,78.66 L214.00,78.70 L214.50,78.74 L215.00,78.78 L215.50,78.83 L216.00,78.87 L216.50,78.91 L217.00,78.95 L217.50,78.99 L218.00,79.04 L218.50,79.08 L219.00,79.12 L219.50,79.16 L220.00,79.21 L220.50,79.25 L221.00,79.30 L221.50,79.35 L222.00,79.39 L222.50,79.44 L223.00,79.49 L223.50,79.54 L224.00,79.59 L224.50,79.64 L225.00,79.69 L225.50,79.74 L226.00,79.79 L226.50,79.84 L227.00,79.89 L227.50,79.95 L228.00,80.00" fill="none" stroke="#ff1428" stroke-width="1.65" stroke-dasharray="2.3 3.5" stroke-linejoin="round"/>
<path d="M2.50,196.20 L2.50,196.00 L3.00,195.98 L3.50,195.96 L4.00,195.94 L4.50,195.92 L5.00,195.90 L5.50,195.87 L6.00,195.85 L6.50,195.82 L7.00,195.79 L7.50,195.76 L8.00,195.73 L8.50,195.70 L9.00,195.67 L9.50,195.63 L10.00,195.60 L10.50,195.57 L11.00,195.53 L11.50,195.49 L12.00,195.46 L12.50,195.42 L13.00,195.38 L13.50,195.33 L14.00,195.29 L14.50,195.25 L15.00,195.20 L15.50,195.15 L16.00,195.10 L16.50,195.04 L17.00,194.99 L17.50,194.93 L18.00,194.87 L18.50,194.81 L19.00,194.74 L19.50,194.67 L20.00,194.60 L20.50,194.52 L21.00,194.44 L21.50,194.35 L22.00,194.25 L22.50,194.14 L23.00,194.03 L23.50,193.91 L24.00,193.79 L24.50,193.65 L25.00,193.51 L25.50,193.36 L26.00,193.21 L26.50,193.05 L27.00,192.88 L27.50,192.70 L28.00,192.51 L28.50,192.32 L29.00,192.11 L29.50,191.88 L30.00,191.64 L30.50,191.37 L31.00,191.08 L31.50,190.77 L32.00,190.44 L32.50,190.08 L33.00,189.70 L33.50,189.29 L34.00,188.85 L34.50,188.39 L35.00,187.90 L35.50,187.32 L36.00,186.60 L36.50,185.78 L37.00,184.87 L37.50,183.89 L38.00,182.87 L38.50,181.83 L39.00,180.80 L39.50,179.78 L40.00,178.67 L40.50,177.51 L41.00,176.32 L41.50,175.13 L42.00,173.98 L42.50,172.90 L43.00,171.80 L43.50,170.69 L44.00,169.78 L44.50,169.20 L45.00,168.76 L45.50,168.46 L46.00,168.43 L46.50,168.68 L47.00,169.11 L47.50,169.62 L48.00,170.40 L48.50,171.39 L49.00,172.47 L49.50,173.57 L50.00,174.83 L50.50,176.20 L51.00,177.62 L51.50,179.02 L52.00,180.34 L52.50,181.50 L53.00,182.56 L53.50,183.60 L54.00,184.61 L54.50,185.57 L55.00,186.48 L55.50,187.32 L56.00,188.08 L56.50,188.76 L57.00,189.35 L57.50,189.91 L58.00,190.45 L58.50,190.96 L59.00,191.44 L59.50,191.88 L60.00,192.28 L60.50,192.64 L61.00,192.95 L61.50,193.21 L62.00,193.42 L62.50,193.62 L63.00,193.81 L63.50,193.99 L64.00,194.15 L64.50,194.31 L65.00,194.46 L65.50,194.60 L66.00,194.72 L66.50,194.85 L67.00,194.96 L67.50,195.06 L68.00,195.16 L68.50,195.26 L69.00,195.34 L69.50,195.42 L70.00,195.50 L70.50,195.57 L71.00,195.64 L71.50,195.71 L72.00,195.78 L72.50,195.85 L73.00,195.91 L73.50,195.96 L74.00,196.01 L74.50,196.06 L75.00,196.10 L75.50,196.14 L76.00,196.17 L76.00,196.20 Z" fill="#ff78b4"/>
<path d="M77.00,196.20 L77.00,196.20 L77.50,195.86 L78.00,195.51 L78.50,195.15 L79.00,194.77 L79.50,194.39 L80.00,194.00 L80.50,193.56 L81.00,193.05 L81.50,192.51 L82.00,191.97 L82.50,191.47 L83.00,191.03 L83.50,190.70 L84.00,190.50 L84.50,190.40 L85.00,190.33 L85.50,190.28 L86.00,190.22 L86.50,190.14 L87.00,190.03 L87.50,189.87 L88.00,189.67 L88.50,189.44 L89.00,189.17 L89.50,188.86 L90.00,188.52 L90.50,188.14 L91.00,187.73 L91.50,187.29 L92.00,186.78 L92.50,186.11 L93.00,185.29 L93.50,184.33 L94.00,183.25 L94.50,182.07 L95.00,180.82 L95.50,179.51 L96.00,178.12 L96.50,176.50 L97.00,174.63 L97.50,172.53 L98.00,170.20 L98.50,167.60 L99.00,164.34 L99.50,160.70 L100.00,157.10 L100.50,153.78 L101.00,150.48 L101.50,146.94 L102.00,142.83 L102.50,138.05 L103.00,133.40 L103.50,128.91 L104.00,124.76 L104.50,121.87 L105.00,119.41 L105.50,117.73 L106.00,117.55 L106.50,118.99 L107.00,121.35 L107.50,124.08 L108.00,128.07 L108.50,132.55 L109.00,136.85 L109.50,141.27 L110.00,145.40 L110.50,149.02 L111.00,152.37 L111.50,155.71 L112.00,159.33 L112.50,163.26 L113.00,166.91 L113.50,169.73 L114.00,172.14 L114.50,174.29 L115.00,176.19 L115.50,177.83 L116.00,179.24 L116.50,180.55 L117.00,181.77 L117.50,182.91 L118.00,183.95 L118.50,184.90 L119.00,185.74 L119.50,186.48 L120.00,187.10 L120.50,187.65 L121.00,188.17 L121.50,188.66 L122.00,189.12 L122.50,189.55 L123.00,189.95 L123.50,190.33 L124.00,190.68 L124.50,191.00 L125.00,191.29 L125.50,191.56 L126.00,191.80 L126.50,192.02 L127.00,192.21 L127.50,192.40 L128.00,192.58 L128.50,192.75 L129.00,192.91 L129.50,193.07 L130.00,193.22 L130.50,193.36 L131.00,193.50 L131.50,193.63 L132.00,193.75 L132.50,193.86 L133.00,193.97 L133.50,194.08 L134.00,194.17 L134.50,194.27 L135.00,194.35 L135.50,194.43 L136.00,194.51 L136.50,194.57 L137.00,194.64 L137.50,194.70 L138.00,194.76 L138.50,194.82 L139.00,194.87 L139.50,194.93 L140.00,194.98 L140.50,195.03 L141.00,195.07 L141.50,195.12 L142.00,195.16 L142.50,195.20 L143.00,195.24 L143.50,195.27 L144.00,195.30 L144.50,195.33 L145.00,195.36 L145.50,195.38 L146.00,195.40 L146.50,195.42 L147.00,195.44 L147.50,195.45 L148.00,195.47 L148.50,195.49 L149.00,195.50 L149.50,195.52 L150.00,195.54 L150.50,195.55 L151.00,195.57 L151.50,195.58 L152.00,195.60 L152.50,195.61 L153.00,195.62 L153.50,195.64 L154.00,195.65 L154.50,195.66 L155.00,195.67 L155.50,195.69 L156.00,195.70 L156.50,195.71 L157.00,195.72 L157.50,195.73 L158.00,195.74 L158.50,195.75 L159.00,195.76 L159.50,195.77 L160.00,195.78 L160.50,195.79 L161.00,195.80 L161.50,195.80 L162.00,195.81 L162.50,195.82 L163.00,195.83 L163.50,195.83 L164.00,195.84 L164.50,195.85 L165.00,195.85 L165.50,195.86 L166.00,195.87 L166.50,195.87 L167.00,195.88 L167.50,195.88 L168.00,195.88 L168.50,195.89 L169.00,195.89 L169.50,195.90 L170.00,195.90 L170.50,195.90 L171.00,195.91 L171.50,195.91 L172.00,195.91 L172.50,195.92 L173.00,195.92 L173.50,195.92 L174.00,195.93 L174.50,195.93 L175.00,195.93 L175.50,195.93 L176.00,195.94 L176.50,195.94 L177.00,195.94 L177.50,195.95 L178.00,195.95 L178.50,195.95 L179.00,195.96 L179.50,195.96 L180.00,195.96 L180.50,195.96 L181.00,195.97 L181.50,195.97 L182.00,195.97 L182.50,195.97 L183.00,195.98 L183.50,195.98 L184.00,195.98 L184.50,195.98 L185.00,195.99 L185.50,195.99 L186.00,195.99 L186.50,195.99 L187.00,196.00 L187.50,196.00 L188.00,196.00 L188.50,196.00 L189.00,196.01 L189.50,196.01 L190.00,196.01 L190.50,196.01 L191.00,196.02 L191.50,196.02 L192.00,196.02 L192.50,196.02 L193.00,196.02 L193.50,196.03 L194.00,196.03 L194.50,196.03 L195.00,196.03 L195.50,196.03 L196.00,196.04 L196.50,196.04 L197.00,196.04 L197.50,196.04 L198.00,196.04 L198.50,196.05 L199.00,196.05 L199.50,196.05 L200.00,196.05 L200.50,196.05 L201.00,196.05 L201.50,196.06 L202.00,196.06 L202.50,196.06 L203.00,196.06 L203.50,196.06 L204.00,196.06 L204.50,196.07 L205.00,196.07 L205.50,196.07 L206.00,196.07 L206.50,196.07 L207.00,196.07 L207.50,196.07 L208.00,196.07 L208.50,196.08 L209.00,196.08 L209.50,196.08 L210.00,196.08 L210.50,196.08 L211.00,196.08 L211.50,196.08 L212.00,196.08 L212.50,196.08 L213.00,196.09 L213.50,196.09 L214.00,196.09 L214.50,196.09 L215.00,196.09 L215.50,196.09 L216.00,196.09 L216.50,196.09 L217.00,196.09 L217.50,196.09 L218.00,196.09 L218.50,196.09 L219.00,196.09 L219.50,196.10 L220.00,196.10 L220.50,196.10 L221.00,196.10 L221.50,196.10 L222.00,196.10 L222.50,196.10 L223.00,196.10 L223.50,196.10 L224.00,196.10 L224.50,196.10 L225.00,196.10 L225.50,196.10 L226.00,196.10 L226.50,196.10 L227.00,196.10 L227.50,196.10 L228.00,196.10 L228.00,196.20 Z" fill="#8c96f5"/>
<path d="M2.50,195.50 L3.00,195.49 L3.50,195.48 L4.00,195.47 L4.50,195.45 L5.00,195.44 L5.50,195.42 L6.00,195.40 L6.50,195.38 L7.00,195.36 L7.50,195.33 L8.00,195.31 L8.50,195.28 L9.00,195.25 L9.50,195.23 L10.00,195.20 L10.50,195.17 L11.00,195.14 L11.50,195.11 L12.00,195.07 L12.50,195.03 L13.00,194.99 L13.50,194.95 L14.00,194.91 L14.50,194.86 L15.00,194.81 L15.50,194.76 L16.00,194.71 L16.50,194.65 L17.00,194.60 L17.50,194.54 L18.00,194.47 L18.50,194.41 L19.00,194.34 L19.50,194.27 L20.00,194.20 L20.50,194.12 L21.00,194.04 L21.50,193.95 L22.00,193.85 L22.50,193.74 L23.00,193.63 L23.50,193.51 L24.00,193.39 L24.50,193.25 L25.00,193.11 L25.50,192.96 L26.00,192.81 L26.50,192.65 L27.00,192.48 L27.50,192.30 L28.00,192.11 L28.50,191.92 L29.00,191.71 L29.50,191.48 L30.00,191.24 L30.50,190.97 L31.00,190.68 L31.50,190.37 L32.00,190.04 L32.50,189.68 L33.00,189.30 L33.50,188.89 L34.00,188.45 L34.50,187.99 L35.00,187.50 L35.50,186.92 L36.00,186.20 L36.50,185.38 L37.00,184.47 L37.50,183.49 L38.00,182.47 L38.50,181.43 L39.00,180.40 L39.50,179.38 L40.00,178.27 L40.50,177.11 L41.00,175.92 L41.50,174.73 L42.00,173.58 L42.50,172.50 L43.00,171.40 L43.50,170.29 L44.00,169.38 L44.50,168.80 L45.00,168.36 L45.50,168.06 L46.00,168.03 L46.50,168.28 L47.00,168.71 L47.50,169.22 L48.00,170.00 L48.50,171.00 L49.00,172.07 L49.50,173.16 L50.00,174.40 L50.50,175.74 L51.00,177.12 L51.50,178.46 L52.00,179.71 L52.50,180.80 L53.00,181.78 L53.50,182.73 L54.00,183.65 L54.50,184.52 L55.00,185.33 L55.50,186.08 L56.00,186.74 L56.50,187.30 L57.00,187.78 L57.50,188.22 L58.00,188.64 L58.50,189.04 L59.00,189.40 L59.50,189.73 L60.00,190.03 L60.50,190.30 L61.00,190.53 L61.50,190.73 L62.00,190.90 L62.50,191.06 L63.00,191.21 L63.50,191.37 L64.00,191.51 L64.50,191.65 L65.00,191.78 L65.50,191.91 L66.00,192.02 L66.50,192.13 L67.00,192.22 L67.50,192.30 L68.00,192.37 L68.50,192.43 L69.00,192.47 L69.50,192.49 L70.00,192.50 L70.50,192.49 L71.00,192.47 L71.50,192.43 L72.00,192.38 L72.50,192.32 L73.00,192.24 L73.50,192.16 L74.00,192.07 L74.50,191.97 L75.00,191.87 L75.50,191.76 L76.00,191.66 L76.50,191.54 L77.00,191.42 L77.50,191.24 L78.00,191.02 L78.50,190.79 L79.00,190.57 L79.50,190.40 L80.00,190.30 L80.50,190.25 L81.00,190.22 L81.50,190.19 L82.00,190.16 L82.50,190.14 L83.00,190.10 L83.50,190.06 L84.00,190.02 L84.50,189.98 L85.00,189.93 L85.50,189.87 L86.00,189.81 L86.50,189.73 L87.00,189.64 L87.50,189.50 L88.00,189.31 L88.50,189.07 L89.00,188.80 L89.50,188.49 L90.00,188.14 L90.50,187.75 L91.00,187.33 L91.50,186.89 L92.00,186.38 L92.50,185.73 L93.00,184.91 L93.50,183.96 L94.00,182.89 L94.50,181.72 L95.00,180.46 L95.50,179.13 L96.00,177.72 L96.50,176.10 L97.00,174.23 L97.50,172.13 L98.00,169.80 L98.50,167.20 L99.00,163.94 L99.50,160.30 L100.00,156.70 L100.50,153.38 L101.00,150.08 L101.50,146.54 L102.00,142.43 L102.50,137.65 L103.00,133.00 L103.50,128.51 L104.00,124.36 L104.50,121.47 L105.00,119.01 L105.50,117.33 L106.00,117.15 L106.50,118.59 L107.00,120.95 L107.50,123.68 L108.00,127.67 L108.50,132.15 L109.00,136.45 L109.50,140.87 L110.00,145.00 L110.50,148.62 L111.00,151.97 L111.50,155.31 L112.00,158.93 L112.50,162.86 L113.00,166.51 L113.50,169.33 L114.00,171.74 L114.50,173.89 L115.00,175.79 L115.50,177.43 L116.00,178.84 L116.50,180.15 L117.00,181.37 L117.50,182.51 L118.00,183.55 L118.50,184.50 L119.00,185.34 L119.50,186.08 L120.00,186.70 L120.50,187.25 L121.00,187.77 L121.50,188.26 L122.00,188.72 L122.50,189.15 L123.00,189.55 L123.50,189.93 L124.00,190.28 L124.50,190.60 L125.00,190.89 L125.50,191.16 L126.00,191.40 L126.50,191.62 L127.00,191.81 L127.50,192.00 L128.00,192.18 L128.50,192.35 L129.00,192.51 L129.50,192.67 L130.00,192.82 L130.50,192.96 L131.00,193.10 L131.50,193.23 L132.00,193.35 L132.50,193.46 L133.00,193.57 L133.50,193.68 L134.00,193.77 L134.50,193.87 L135.00,193.95 L135.50,194.03 L136.00,194.11 L136.50,194.17 L137.00,194.24 L137.50,194.30 L138.00,194.36 L138.50,194.42 L139.00,194.47 L139.50,194.53 L140.00,194.58 L140.50,194.63 L141.00,194.67 L141.50,194.72 L142.00,194.76 L142.50,194.80 L143.00,194.84 L143.50,194.87 L144.00,194.90 L144.50,194.93 L145.00,194.96 L145.50,194.98 L146.00,195.00 L146.50,195.02 L147.00,195.04 L147.50,195.05 L148.00,195.07 L148.50,195.09 L149.00,195.10 L149.50,195.12 L150.00,195.14 L150.50,195.15 L151.00,195.17 L151.50,195.18 L152.00,195.20 L152.50,195.21 L153.00,195.22 L153.50,195.24 L154.00,195.25 L154.50,195.26 L155.00,195.27 L155.50,195.29 L156.00,195.30 L156.50,195.31 L157.00,195.32 L157.50,195.33 L158.00,195.34 L158.50,195.35 L159.00,195.36 L159.50,195.37 L160.00,195.38 L160.50,195.39 L161.00,195.40 L161.50,195.40 L162.00,195.41 L162.50,195.42 L163.00,195.43 L163.50,195.43 L164.00,195.44 L164.50,195.45 L165.00,195.45 L165.50,195.46 L166.00,195.47 L166.50,195.47 L167.00,195.48 L167.50,195.48 L168.00,195.48 L168.50,195.49 L169.00,195.49 L169.50,195.50 L170.00,195.50 L170.50,195.50 L171.00,195.51 L171.50,195.51 L172.00,195.51 L172.50,195.52 L173.00,195.52 L173.50,195.52 L174.00,195.53 L174.50,195.53 L175.00,195.53 L175.50,195.53 L176.00,195.54 L176.50,195.54 L177.00,195.54 L177.50,195.55 L178.00,195.55 L178.50,195.55 L179.00,195.56 L179.50,195.56 L180.00,195.56 L180.50,195.56 L181.00,195.57 L181.50,195.57 L182.00,195.57 L182.50,195.57 L183.00,195.58 L183.50,195.58 L184.00,195.58 L184.50,195.58 L185.00,195.59 L185.50,195.59 L186.00,195.59 L186.50,195.59 L187.00,195.60 L187.50,195.60 L188.00,195.60 L188.50,195.60 L189.00,195.61 L189.50,195.61 L190.00,195.61 L190.50,195.61 L191.00,195.62 L191.50,195.62 L192.00,195.62 L192.50,195.62 L193.00,195.62 L193.50,195.63 L194.00,195.63 L194.50,195.63 L195.00,195.63 L195.50,195.63 L196.00,195.64 L196.50,195.64 L197.00,195.64 L197.50,195.64 L198.00,195.64 L198.50,195.65 L199.00,195.65 L199.50,195.65 L200.00,195.65 L200.50,195.65 L201.00,195.65 L201.50,195.66 L202.00,195.66 L202.50,195.66 L203.00,195.66 L203.50,195.66 L204.00,195.66 L204.50,195.67 L205.00,195.67 L205.50,195.67 L206.00,195.67 L206.50,195.67 L207.00,195.67 L207.50,195.67 L208.00,195.67 L208.50,195.68 L209.00,195.68 L209.50,195.68 L210.00,195.68 L210.50,195.68 L211.00,195.68 L211.50,195.68 L212.00,195.68 L212.50,195.68 L213.00,195.69 L213.50,195.69 L214.00,195.69 L214.50,195.69 L215.00,195.69 L215.50,195.69 L216.00,195.69 L216.50,195.69 L217.00,195.69 L217.50,195.69 L218.00,195.69 L218.50,195.69 L219.00,195.69 L219.50,195.70 L220.00,195.70 L220.50,195.70 L221.00,195.70 L221.50,195.70 L222.00,195.70 L222.50,195.70 L223.00,195.70 L223.50,195.70 L224.00,195.70 L224.50,195.70 L225.00,195.70 L225.50,195.70 L226.00,195.70 L226.50,195.70 L227.00,195.70 L227.50,195.70 L228.00,195.70" fill="none" stroke="#000" stroke-width="1.65" stroke-linejoin="round"/>
<path d="M2.50,195.50 L3.00,195.49 L3.50,195.48 L4.00,195.47 L4.50,195.45 L5.00,195.44 L5.50,195.42 L6.00,195.40 L6.50,195.38 L7.00,195.36 L7.50,195.33 L8.00,195.31 L8.50,195.28 L9.00,195.25 L9.50,195.23 L10.00,195.20 L10.50,195.17 L11.00,195.14 L11.50,195.11 L12.00,195.07 L12.50,195.03 L13.00,194.99 L13.50,194.95 L14.00,194.91 L14.50,194.86 L15.00,194.81 L15.50,194.76 L16.00,194.71 L16.50,194.65 L17.00,194.60 L17.50,194.54 L18.00,194.47 L18.50,194.41 L19.00,194.34 L19.50,194.27 L20.00,194.20 L20.50,194.12 L21.00,194.04 L21.50,193.95 L22.00,193.85 L22.50,193.74 L23.00,193.63 L23.50,193.51 L24.00,193.39 L24.50,193.25 L25.00,193.11 L25.50,192.96 L26.00,192.81 L26.50,192.65 L27.00,192.48 L27.50,192.30 L28.00,192.11 L28.50,191.92 L29.00,191.71 L29.50,191.48 L30.00,191.24 L30.50,190.97 L31.00,190.68 L31.50,190.37 L32.00,190.04 L32.50,189.68 L33.00,189.30 L33.50,188.89 L34.00,188.45 L34.50,187.99 L35.00,187.50 L35.50,186.92 L36.00,186.20 L36.50,185.38 L37.00,184.47 L37.50,183.49 L38.00,182.47 L38.50,181.43 L39.00,180.40 L39.50,179.38 L40.00,178.27 L40.50,177.11 L41.00,175.92 L41.50,174.73 L42.00,173.58 L42.50,172.50 L43.00,171.40 L43.50,170.29 L44.00,169.38 L44.50,168.80 L45.00,168.36 L45.50,168.06 L46.00,168.03 L46.50,168.28 L47.00,168.71 L47.50,169.22 L48.00,170.00 L48.50,171.00 L49.00,172.07 L49.50,173.16 L50.00,174.40 L50.50,175.74 L51.00,177.12 L51.50,178.46 L52.00,179.71 L52.50,180.80 L53.00,181.78 L53.50,182.73 L54.00,183.65 L54.50,184.52 L55.00,185.33 L55.50,186.08 L56.00,186.74 L56.50,187.30 L57.00,187.78 L57.50,188.22 L58.00,188.64 L58.50,189.04 L59.00,189.40 L59.50,189.73 L60.00,190.03 L60.50,190.30 L61.00,190.53 L61.50,190.73 L62.00,190.90 L62.50,191.06 L63.00,191.21 L63.50,191.37 L64.00,191.51 L64.50,191.65 L65.00,191.78 L65.50,191.91 L66.00,192.02 L66.50,192.13 L67.00,192.22 L67.50,192.30 L68.00,192.37 L68.50,192.43 L69.00,192.47 L69.50,192.49 L70.00,192.50 L70.50,192.49 L71.00,192.47 L71.50,192.43 L72.00,192.38 L72.50,192.32 L73.00,192.24 L73.50,192.16 L74.00,192.07 L74.50,191.97 L75.00,191.87 L75.50,191.76 L76.00,191.66 L76.50,191.54 L77.00,191.42 L77.50,191.24 L78.00,191.02 L78.50,190.79 L79.00,190.57 L79.50,190.40 L80.00,190.30 L80.50,190.25 L81.00,190.22 L81.50,190.19 L82.00,190.16 L82.50,190.14 L83.00,190.10 L83.50,190.06 L84.00,190.02 L84.50,189.98 L85.00,189.93 L85.50,189.87 L86.00,189.81 L86.50,189.73 L87.00,189.64 L87.50,189.50 L88.00,189.31 L88.50,189.07 L89.00,188.80 L89.50,188.49 L90.00,188.14 L90.50,187.75 L91.00,187.33 L91.50,186.89 L92.00,186.38 L92.50,185.73 L93.00,184.91 L93.50,183.96 L94.00,182.89 L94.50,181.72 L95.00,180.46 L95.50,179.13 L96.00,177.72 L96.50,176.10 L97.00,174.23 L97.50,172.13 L98.00,169.80 L98.50,167.20 L99.00,163.94 L99.50,160.30 L100.00,156.70 L100.50,153.38 L101.00,150.08 L101.50,146.54 L102.00,142.43 L102.50,137.65 L103.00,133.00 L103.50,128.51 L104.00,124.36 L104.50,121.47 L105.00,119.01 L105.50,117.33 L106.00,117.15 L106.50,118.59 L107.00,120.95 L107.50,123.68 L108.00,127.67 L108.50,132.15 L109.00,136.45 L109.50,140.87 L110.00,145.00 L110.50,148.62 L111.00,151.97 L111.50,155.31 L112.00,158.93 L112.50,162.86 L113.00,166.51 L113.50,169.33 L114.00,171.74 L114.50,173.89 L115.00,175.79 L115.50,177.43 L116.00,178.84 L116.50,180.15 L117.00,181.37 L117.50,182.51 L118.00,183.55 L118.50,184.50 L119.00,185.34 L119.50,186.08 L120.00,186.70 L120.50,187.25 L121.00,187.77 L121.50,188.26 L122.00,188.72 L122.50,189.15 L123.00,189.55 L123.50,189.93 L124.00,190.28 L124.50,190.60 L125.00,190.89 L125.50,191.16 L126.00,191.40 L126.50,191.62 L127.00,191.81 L127.50,192.00 L128.00,192.18 L128.50,192.35 L129.00,192.51 L129.50,192.67 L130.00,192.82 L130.50,192.96 L131.00,193.10 L131.50,193.23 L132.00,193.35 L132.50,193.46 L133.00,193.57 L133.50,193.68 L134.00,193.77 L134.50,193.87 L135.00,193.95 L135.50,194.03 L136.00,194.11 L136.50,194.17 L137.00,194.24 L137.50,194.30 L138.00,194.36 L138.50,194.42 L139.00,194.47 L139.50,194.53 L140.00,194.58 L140.50,194.63 L141.00,194.67 L141.50,194.72 L142.00,194.76 L142.50,194.80 L143.00,194.84 L143.50,194.87 L144.00,194.90 L144.50,194.93 L145.00,194.96 L145.50,194.98 L146.00,195.00 L146.50,195.02 L147.00,195.04 L147.50,195.05 L148.00,195.07 L148.50,195.09 L149.00,195.10 L149.50,195.12 L150.00,195.14 L150.50,195.15 L151.00,195.17 L151.50,195.18 L152.00,195.20 L152.50,195.21 L153.00,195.22 L153.50,195.24 L154.00,195.25 L154.50,195.26 L155.00,195.27 L155.50,195.29 L156.00,195.30 L156.50,195.31 L157.00,195.32 L157.50,195.33 L158.00,195.34 L158.50,195.35 L159.00,195.36 L159.50,195.37 L160.00,195.38 L160.50,195.39 L161.00,195.40 L161.50,195.40 L162.00,195.41 L162.50,195.42 L163.00,195.43 L163.50,195.43 L164.00,195.44 L164.50,195.45 L165.00,195.45 L165.50,195.46 L166.00,195.47 L166.50,195.47 L167.00,195.48 L167.50,195.48 L168.00,195.48 L168.50,195.49 L169.00,195.49 L169.50,195.50 L170.00,195.50 L170.50,195.50 L171.00,195.51 L171.50,195.51 L172.00,195.51 L172.50,195.52 L173.00,195.52 L173.50,195.52 L174.00,195.53 L174.50,195.53 L175.00,195.53 L175.50,195.53 L176.00,195.54 L176.50,195.54 L177.00,195.54 L177.50,195.55 L178.00,195.55 L178.50,195.55 L179.00,195.56 L179.50,195.56 L180.00,195.56 L180.50,195.56 L181.00,195.57 L181.50,195.57 L182.00,195.57 L182.50,195.57 L183.00,195.58 L183.50,195.58 L184.00,195.58 L184.50,195.58 L185.00,195.59 L185.50,195.59 L186.00,195.59 L186.50,195.59 L187.00,195.60 L187.50,195.60 L188.00,195.60 L188.50,195.60 L189.00,195.61 L189.50,195.61 L190.00,195.61 L190.50,195.61 L191.00,195.62 L191.50,195.62 L192.00,195.62 L192.50,195.62 L193.00,195.62 L193.50,195.63 L194.00,195.63 L194.50,195.63 L195.00,195.63 L195.50,195.63 L196.00,195.64 L196.50,195.64 L197.00,195.64 L197.50,195.64 L198.00,195.64 L198.50,195.65 L199.00,195.65 L199.50,195.65 L200.00,195.65 L200.50,195.65 L201.00,195.65 L201.50,195.66 L202.00,195.66 L202.50,195.66 L203.00,195.66 L203.50,195.66 L204.00,195.66 L204.50,195.67 L205.00,195.67 L205.50,195.67 L206.00,195.67 L206.50,195.67 L207.00,195.67 L207.50,195.67 L208.00,195.67 L208.50,195.68 L209.00,195.68 L209.50,195.68 L210.00,195.68 L210.50,195.68 L211.00,195.68 L211.50,195.68 L212.00,195.68 L212.50,195.68 L213.00,195.69 L213.50,195.69 L214.00,195.69 L214.50,195.69 L215.00,195.69 L215.50,195.69 L216.00,195.69 L216.50,195.69 L217.00,195.69 L217.50,195.69 L218.00,195.69 L218.50,195.69 L219.00,195.69 L219.50,195.70 L220.00,195.70 L220.50,195.70 L221.00,195.70 L221.50,195.70 L222.00,195.70 L222.50,195.70 L223.00,195.70 L223.50,195.70 L224.00,195.70 L224.50,195.70 L225.00,195.70 L225.50,195.70 L226.00,195.70 L226.50,195.70 L227.00,195.70 L227.50,195.70 L228.00,195.70" fill="none" stroke="#ff1428" stroke-width="1.65" stroke-dasharray="2.3 3.5" stroke-linejoin="round"/>
<path d="M80.00,305.00 L80.00,304.96 L80.50,304.94 L81.00,304.93 L81.50,304.91 L82.00,304.88 L82.50,304.86 L83.00,304.82 L83.50,304.78 L84.00,304.72 L84.50,304.66 L85.00,304.58 L85.50,304.48 L86.00,304.37 L86.50,304.23 L87.00,304.07 L87.50,303.88 L88.00,303.66 L88.50,303.40 L89.00,303.09 L89.50,302.74 L90.00,302.33 L90.50,301.86 L91.00,301.32 L91.50,300.71 L92.00,300.02 L92.50,299.23 L93.00,298.35 L93.50,297.37 L94.00,296.27 L94.50,295.06 L95.00,293.72 L95.50,292.25 L96.00,290.65 L96.50,288.92 L97.00,287.04 L97.50,285.03 L98.00,282.89 L98.50,280.61 L99.00,278.20 L99.50,275.67 L100.00,273.03 L100.50,270.30 L101.00,267.48 L101.50,264.59 L102.00,261.66 L102.50,258.70 L103.00,255.73 L103.50,252.78 L104.00,249.88 L104.50,247.05 L105.00,244.32 L105.50,241.71 L106.00,239.26 L106.50,236.98 L107.00,234.91 L107.50,233.06 L108.00,231.45 L108.50,230.12 L109.00,229.06 L109.50,228.29 L110.00,227.83 L110.50,227.68 L111.00,227.83 L111.50,228.29 L112.00,229.06 L112.50,230.12 L113.00,231.45 L113.50,233.06 L114.00,234.91 L114.50,236.98 L115.00,239.26 L115.50,241.71 L116.00,244.32 L116.50,247.05 L117.00,249.88 L117.50,252.78 L118.00,255.73 L118.50,258.70 L119.00,261.66 L119.50,264.59 L120.00,267.48 L120.50,270.30 L121.00,273.03 L121.50,275.67 L122.00,278.20 L122.50,280.61 L123.00,282.89 L123.50,285.03 L124.00,287.04 L124.50,288.92 L125.00,290.65 L125.50,292.25 L126.00,293.72 L126.50,295.06 L127.00,296.27 L127.50,297.37 L128.00,298.35 L128.50,299.23 L129.00,300.02 L129.50,300.71 L130.00,301.32 L130.50,301.86 L131.00,302.33 L131.50,302.74 L132.00,303.09 L132.50,303.40 L133.00,303.66 L133.50,303.88 L134.00,304.07 L134.50,304.23 L135.00,304.37 L135.50,304.48 L136.00,304.58 L136.50,304.66 L137.00,304.72 L137.50,304.78 L138.00,304.82 L138.50,304.86 L139.00,304.88 L139.50,304.91 L140.00,304.93 L140.50,304.94 L141.00,304.96 L141.00,305.00 Z" fill="#8c96f5"/>
<path d="M2.50,304.80 L3.00,304.80 L3.50,304.80 L4.00,304.80 L4.50,304.80 L5.00,304.80 L5.50,304.80 L6.00,304.80 L6.50,304.80 L7.00,304.80 L7.50,304.80 L8.00,304.80 L8.50,304.80 L9.00,304.80 L9.50,304.80 L10.00,304.80 L10.50,304.80 L11.00,304.80 L11.50,304.80 L12.00,304.80 L12.50,304.80 L13.00,304.80 L13.50,304.80 L14.00,304.80 L14.50,304.80 L15.00,304.80 L15.50,304.80 L16.00,304.80 L16.50,304.80 L17.00,304.80 L17.50,304.80 L18.00,304.80 L18.50,304.80 L19.00,304.80 L19.50,304.80 L20.00,304.80 L20.50,304.80 L21.00,304.80 L21.50,304.80 L22.00,304.80 L22.50,304.80 L23.00,304.80 L23.50,304.80 L24.00,304.80 L24.50,304.80 L25.00,304.80 L25.50,304.80 L26.00,304.80 L26.50,304.80 L27.00,304.80 L27.50,304.80 L28.00,304.80 L28.50,304.80 L29.00,304.80 L29.50,304.80 L30.00,304.80 L30.50,304.80 L31.00,304.80 L31.50,304.80 L32.00,304.80 L32.50,304.80 L33.00,304.80 L33.50,304.80 L34.00,304.80 L34.50,304.80 L35.00,304.80 L35.50,304.80 L36.00,304.80 L36.50,304.80 L37.00,304.80 L37.50,304.80 L38.00,304.80 L38.50,304.80 L39.00,304.80 L39.50,304.80 L40.00,304.80 L40.50,304.80 L41.00,304.80 L41.50,304.80 L42.00,304.80 L42.50,304.80 L43.00,304.80 L43.50,304.80 L44.00,304.80 L44.50,304.80 L45.00,304.80 L45.50,304.80 L46.00,304.80 L46.50,304.80 L47.00,304.80 L47.50,304.80 L48.00,304.80 L48.50,304.80 L49.00,304.80 L49.50,304.80 L50.00,304.80 L50.50,304.80 L51.00,304.80 L51.50,304.80 L52.00,304.80 L52.50,304.80 L53.00,304.80 L53.50,304.80 L54.00,304.80 L54.50,304.80 L55.00,304.80 L55.50,304.80 L56.00,304.80 L56.50,304.80 L57.00,304.80 L57.50,304.80 L58.00,304.80 L58.50,304.80 L59.00,304.80 L59.50,304.80 L60.00,304.80 L60.50,304.80 L61.00,304.80 L61.50,304.80 L62.00,304.80 L62.50,304.80 L63.00,304.80 L63.50,304.80 L64.00,304.80 L64.50,304.80 L65.00,304.80 L65.50,304.80 L66.00,304.80 L66.50,304.80 L67.00,304.80 L67.50,304.80 L68.00,304.80 L68.50,304.80 L69.00,304.80 L69.50,304.80 L70.00,304.80 L70.50,304.80 L71.00,304.80 L71.50,304.80 L72.00,304.80 L72.50,304.80 L73.00,304.80 L73.50,304.80 L74.00,304.80 L74.50,304.80 L75.00,304.80 L75.50,304.80 L76.00,304.79 L76.50,304.79 L77.00,304.79 L77.50,304.79 L78.00,304.78 L78.50,304.78 L79.00,304.77 L79.50,304.76 L80.00,304.75 L80.50,304.74 L81.00,304.73 L81.50,304.71 L82.00,304.68 L82.50,304.65 L83.00,304.62 L83.50,304.57 L84.00,304.52 L84.50,304.45 L85.00,304.37 L85.50,304.27 L86.00,304.16 L86.50,304.02 L87.00,303.86 L87.50,303.67 L88.00,303.44 L88.50,303.17 L89.00,302.87 L89.50,302.51 L90.00,302.09 L90.50,301.61 L91.00,301.07 L91.50,300.45 L92.00,299.74 L92.50,298.94 L93.00,298.05 L93.50,297.05 L94.00,295.94 L94.50,294.70 L95.00,293.35 L95.50,291.86 L96.00,290.23 L96.50,288.47 L97.00,286.57 L97.50,284.53 L98.00,282.35 L98.50,280.03 L99.00,277.59 L99.50,275.02 L100.00,272.35 L100.50,269.57 L101.00,266.71 L101.50,263.78 L102.00,260.80 L102.50,257.79 L103.00,254.78 L103.50,251.79 L104.00,248.84 L104.50,245.97 L105.00,243.19 L105.50,240.55 L106.00,238.06 L106.50,235.74 L107.00,233.64 L107.50,231.76 L108.00,230.13 L108.50,228.78 L109.00,227.70 L109.50,226.93 L110.00,226.46 L110.50,226.30 L111.00,226.46 L111.50,226.93 L112.00,227.70 L112.50,228.78 L113.00,230.13 L113.50,231.76 L114.00,233.64 L114.50,235.74 L115.00,238.06 L115.50,240.55 L116.00,243.19 L116.50,245.97 L117.00,248.84 L117.50,251.79 L118.00,254.78 L118.50,257.79 L119.00,260.80 L119.50,263.78 L120.00,266.71 L120.50,269.57 L121.00,272.35 L121.50,275.02 L122.00,277.59 L122.50,280.03 L123.00,282.35 L123.50,284.53 L124.00,286.57 L124.50,288.47 L125.00,290.23 L125.50,291.86 L126.00,293.35 L126.50,294.70 L127.00,295.94 L127.50,297.05 L128.00,298.05 L128.50,298.94 L129.00,299.74 L129.50,300.45 L130.00,301.07 L130.50,301.61 L131.00,302.09 L131.50,302.51 L132.00,302.87 L132.50,303.17 L133.00,303.44 L133.50,303.67 L134.00,303.86 L134.50,304.02 L135.00,304.16 L135.50,304.27 L136.00,304.37 L136.50,304.45 L137.00,304.52 L137.50,304.57 L138.00,304.62 L138.50,304.65 L139.00,304.68 L139.50,304.71 L140.00,304.73 L140.50,304.74 L141.00,304.75 L141.50,304.76 L142.00,304.77 L142.50,304.78 L143.00,304.78 L143.50,304.79 L144.00,304.79 L144.50,304.79 L145.00,304.79 L145.50,304.80 L146.00,304.80 L146.50,304.80 L147.00,304.80 L147.50,304.80 L148.00,304.80 L148.50,304.80 L149.00,304.80 L149.50,304.80 L150.00,304.80 L150.50,304.80 L151.00,304.80 L151.50,304.80 L152.00,304.80 L152.50,304.80 L153.00,304.80 L153.50,304.80 L154.00,304.80 L154.50,304.80 L155.00,304.80 L155.50,304.80 L156.00,304.80 L156.50,304.80 L157.00,304.80 L157.50,304.80 L158.00,304.80 L158.50,304.80 L159.00,304.80 L159.50,304.80 L160.00,304.80 L160.50,304.80 L161.00,304.80 L161.50,304.80 L162.00,304.80 L162.50,304.80 L163.00,304.80 L163.50,304.80 L164.00,304.80 L164.50,304.80 L165.00,304.80 L165.50,304.80 L166.00,304.80 L166.50,304.80 L167.00,304.80 L167.50,304.80 L168.00,304.80 L168.50,304.80 L169.00,304.80 L169.50,304.80 L170.00,304.80 L170.50,304.80 L171.00,304.80 L171.50,304.80 L172.00,304.80 L172.50,304.80 L173.00,304.80 L173.50,304.80 L174.00,304.80 L174.50,304.80 L175.00,304.80 L175.50,304.80 L176.00,304.80 L176.50,304.80 L177.00,304.80 L177.50,304.80 L178.00,304.80 L178.50,304.80 L179.00,304.80 L179.50,304.80 L180.00,304.80 L180.50,304.80 L181.00,304.80 L181.50,304.80 L182.00,304.80 L182.50,304.80 L183.00,304.80 L183.50,304.80 L184.00,304.80 L184.50,304.80 L185.00,304.80 L185.50,304.80 L186.00,304.80 L186.50,304.80 L187.00,304.80 L187.50,304.80 L188.00,304.80 L188.50,304.80 L189.00,304.80 L189.50,304.80 L190.00,304.80 L190.50,304.80 L191.00,304.80 L191.50,304.80 L192.00,304.80 L192.50,304.80 L193.00,304.80 L193.50,304.80 L194.00,304.80 L194.50,304.80 L195.00,304.80 L195.50,304.80 L196.00,304.80 L196.50,304.80 L197.00,304.80 L197.50,304.80 L198.00,304.80 L198.50,304.80 L199.00,304.80 L199.50,304.80 L200.00,304.80 L200.50,304.80 L201.00,304.80 L201.50,304.80 L202.00,304.80 L202.50,304.80 L203.00,304.80 L203.50,304.80 L204.00,304.80 L204.50,304.80 L205.00,304.80 L205.50,304.80 L206.00,304.80 L206.50,304.80 L207.00,304.80 L207.50,304.80 L208.00,304.80 L208.50,304.80 L209.00,304.80 L209.50,304.80 L210.00,304.80 L210.50,304.80 L211.00,304.80 L211.50,304.80 L212.00,304.80 L212.50,304.80 L213.00,304.80 L213.50,304.80 L214.00,304.80 L214.50,304.80 L215.00,304.80 L215.50,304.80 L216.00,304.80 L216.50,304.80 L217.00,304.80 L217.50,304.80 L218.00,304.80 L218.50,304.80 L219.00,304.80 L219.50,304.80 L220.00,304.80 L220.50,304.80 L221.00,304.80 L221.50,304.80 L222.00,304.80 L222.50,304.80 L223.00,304.80 L223.50,304.80 L224.00,304.80 L224.50,304.80 L225.00,304.80 L225.50,304.80 L226.00,304.80 L226.50,304.80 L227.00,304.80 L227.50,304.80 L228.00,304.80" fill="none" stroke="#000" stroke-width="1.65" stroke-linejoin="round"/>
<path d="M2.50,304.80 L3.00,304.80 L3.50,304.80 L4.00,304.80 L4.50,304.80 L5.00,304.80 L5.50,304.80 L6.00,304.80 L6.50,304.80 L7.00,304.80 L7.50,304.80 L8.00,304.80 L8.50,304.80 L9.00,304.80 L9.50,304.80 L10.00,304.80 L10.50,304.80 L11.00,304.80 L11.50,304.80 L12.00,304.80 L12.50,304.80 L13.00,304.80 L13.50,304.80 L14.00,304.80 L14.50,304.80 L15.00,304.80 L15.50,304.80 L16.00,304.80 L16.50,304.80 L17.00,304.80 L17.50,304.80 L18.00,304.80 L18.50,304.80 L19.00,304.80 L19.50,304.80 L20.00,304.80 L20.50,304.80 L21.00,304.80 L21.50,304.80 L22.00,304.80 L22.50,304.80 L23.00,304.80 L23.50,304.80 L24.00,304.80 L24.50,304.80 L25.00,304.80 L25.50,304.80 L26.00,304.80 L26.50,304.80 L27.00,304.80 L27.50,304.80 L28.00,304.80 L28.50,304.80 L29.00,304.80 L29.50,304.80 L30.00,304.80 L30.50,304.80 L31.00,304.80 L31.50,304.80 L32.00,304.80 L32.50,304.80 L33.00,304.80 L33.50,304.80 L34.00,304.80 L34.50,304.80 L35.00,304.80 L35.50,304.80 L36.00,304.80 L36.50,304.80 L37.00,304.80 L37.50,304.80 L38.00,304.80 L38.50,304.80 L39.00,304.80 L39.50,304.80 L40.00,304.80 L40.50,304.80 L41.00,304.80 L41.50,304.80 L42.00,304.80 L42.50,304.80 L43.00,304.80 L43.50,304.80 L44.00,304.80 L44.50,304.80 L45.00,304.80 L45.50,304.80 L46.00,304.80 L46.50,304.80 L47.00,304.80 L47.50,304.80 L48.00,304.80 L48.50,304.80 L49.00,304.80 L49.50,304.80 L50.00,304.80 L50.50,304.80 L51.00,304.80 L51.50,304.80 L52.00,304.80 L52.50,304.80 L53.00,304.80 L53.50,304.80 L54.00,304.80 L54.50,304.80 L55.00,304.80 L55.50,304.80 L56.00,304.80 L56.50,304.80 L57.00,304.80 L57.50,304.80 L58.00,304.80 L58.50,304.80 L59.00,304.80 L59.50,304.80 L60.00,304.80 L60.50,304.80 L61.00,304.80 L61.50,304.80 L62.00,304.80 L62.50,304.80 L63.00,304.80 L63.50,304.80 L64.00,304.80 L64.50,304.80 L65.00,304.80 L65.50,304.80 L66.00,304.80 L66.50,304.80 L67.00,304.80 L67.50,304.80 L68.00,304.80 L68.50,304.80 L69.00,304.80 L69.50,304.80 L70.00,304.80 L70.50,304.80 L71.00,304.80 L71.50,304.80 L72.00,304.80 L72.50,304.80 L73.00,304.80 L73.50,304.80 L74.00,304.80 L74.50,304.80 L75.00,304.80 L75.50,304.80 L76.00,304.79 L76.50,304.79 L77.00,304.79 L77.50,304.79 L78.00,304.78 L78.50,304.78 L79.00,304.77 L79.50,304.76 L80.00,304.75 L80.50,304.74 L81.00,304.73 L81.50,304.71 L82.00,304.68 L82.50,304.65 L83.00,304.62 L83.50,304.57 L84.00,304.52 L84.50,304.45 L85.00,304.37 L85.50,304.27 L86.00,304.16 L86.50,304.02 L87.00,303.86 L87.50,303.67 L88.00,303.44 L88.50,303.17 L89.00,302.87 L89.50,302.51 L90.00,302.09 L90.50,301.61 L91.00,301.07 L91.50,300.45 L92.00,299.74 L92.50,298.94 L93.00,298.05 L93.50,297.05 L94.00,295.94 L94.50,294.70 L95.00,293.35 L95.50,291.86 L96.00,290.23 L96.50,288.47 L97.00,286.57 L97.50,284.53 L98.00,282.35 L98.50,280.03 L99.00,277.59 L99.50,275.02 L100.00,272.35 L100.50,269.57 L101.00,266.71 L101.50,263.78 L102.00,260.80 L102.50,257.79 L103.00,254.78 L103.50,251.79 L104.00,248.84 L104.50,245.97 L105.00,243.19 L105.50,240.55 L106.00,238.06 L106.50,235.74 L107.00,233.64 L107.50,231.76 L108.00,230.13 L108.50,228.78 L109.00,227.70 L109.50,226.93 L110.00,226.46 L110.50,226.30 L111.00,226.46 L111.50,226.93 L112.00,227.70 L112.50,228.78 L113.00,230.13 L113.50,231.76 L114.00,233.64 L114.50,235.74 L115.00,238.06 L115.50,240.55 L116.00,243.19 L116.50,245.97 L117.00,248.84 L117.50,251.79 L118.00,254.78 L118.50,257.79 L119.00,260.80 L119.50,263.78 L120.00,266.71 L120.50,269.57 L121.00,272.35 L121.50,275.02 L122.00,277.59 L122.50,280.03 L123.00,282.35 L123.50,284.53 L124.00,286.57 L124.50,288.47 L125.00,290.23 L125.50,291.86 L126.00,293.35 L126.50,294.70 L127.00,295.94 L127.50,297.05 L128.00,298.05 L128.50,298.94 L129.00,299.74 L129.50,300.45 L130.00,301.07 L130.50,301.61 L131.00,302.09 L131.50,302.51 L132.00,302.87 L132.50,303.17 L133.00,303.44 L133.50,303.67 L134.00,303.86 L134.50,304.02 L135.00,304.16 L135.50,304.27 L136.00,304.37 L136.50,304.45 L137.00,304.52 L137.50,304.57 L138.00,304.62 L138.50,304.65 L139.00,304.68 L139.50,304.71 L140.00,304.73 L140.50,304.74 L141.00,304.75 L141.50,304.76 L142.00,304.77 L142.50,304.78 L143.00,304.78 L143.50,304.79 L144.00,304.79 L144.50,304.79 L145.00,304.79 L145.50,304.80 L146.00,304.80 L146.50,304.80 L147.00,304.80 L147.50,304.80 L148.00,304.80 L148.50,304.80 L149.00,304.80 L149.50,304.80 L150.00,304.80 L150.50,304.80 L151.00,304.80 L151.50,304.80 L152.00,304.80 L152.50,304.80 L153.00,304.80 L153.50,304.80 L154.00,304.80 L154.50,304.80 L155.00,304.80 L155.50,304.80 L156.00,304.80 L156.50,304.80 L157.00,304.80 L157.50,304.80 L158.00,304.80 L158.50,304.80 L159.00,304.80 L159.50,304.80 L160.00,304.80 L160.50,304.80 L161.00,304.80 L161.50,304.80 L162.00,304.80 L162.50,304.80 L163.00,304.80 L163.50,304.80 L164.00,304.80 L164.50,304.80 L165.00,304.80 L165.50,304.80 L166.00,304.80 L166.50,304.80 L167.00,304.80 L167.50,304.80 L168.00,304.80 L168.50,304.80 L169.00,304.80 L169.50,304.80 L170.00,304.80 L170.50,304.80 L171.00,304.80 L171.50,304.80 L172.00,304.80 L172.50,304.80 L173.00,304.80 L173.50,304.80 L174.00,304.80 L174.50,304.80 L175.00,304.80 L175.50,304.80 L176.00,304.80 L176.50,304.80 L177.00,304.80 L177.50,304.80 L178.00,304.80 L178.50,304.80 L179.00,304.80 L179.50,304.80 L180.00,304.80 L180.50,304.80 L181.00,304.80 L181.50,304.80 L182.00,304.80 L182.50,304.80 L183.00,304.80 L183.50,304.80 L184.00,304.80 L184.50,304.80 L185.00,304.80 L185.50,304.80 L186.00,304.80 L186.50,304.80 L187.00,304.80 L187.50,304.80 L188.00,304.80 L188.50,304.80 L189.00,304.80 L189.50,304.80 L190.00,304.80 L190.50,304.80 L191.00,304.80 L191.50,304.80 L192.00,304.80 L192.50,304.80 L193.00,304.80 L193.50,304.80 L194.00,304.80 L194.50,304.80 L195.00,304.80 L195.50,304.80 L196.00,304.80 L196.50,304.80 L197.00,304.80 L197.50,304.80 L198.00,304.80 L198.50,304.80 L199.00,304.80 L199.50,304.80 L200.00,304.80 L200.50,304.80 L201.00,304.80 L201.50,304.80 L202.00,304.80 L202.50,304.80 L203.00,304.80 L203.50,304.80 L204.00,304.80 L204.50,304.80 L205.00,304.80 L205.50,304.80 L206.00,304.80 L206.50,304.80 L207.00,304.80 L207.50,304.80 L208.00,304.80 L208.50,304.80 L209.00,304.80 L209.50,304.80 L210.00,304.80 L210.50,304.80 L211.00,304.80 L211.50,304.80 L212.00,304.80 L212.50,304.80 L213.00,304.80 L213.50,304.80 L214.00,304.80 L214.50,304.80 L215.00,304.80 L215.50,304.80 L216.00,304.80 L216.50,304.80 L217.00,304.80 L217.50,304.80 L218.00,304.80 L218.50,304.80 L219.00,304.80 L219.50,304.80 L220.00,304.80 L220.50,304.80 L221.00,304.80 L221.50,304.80 L222.00,304.80 L222.50,304.80 L223.00,304.80 L223.50,304.80 L224.00,304.80 L224.50,304.80 L225.00,304.80 L225.50,304.80 L226.00,304.80 L226.50,304.80 L227.00,304.80 L227.50,304.80 L228.00,304.80" fill="none" stroke="#ff1428" stroke-width="1.65" stroke-dasharray="2.3 3.5" stroke-linejoin="round"/>
<path d="M281.80,135.40 L281.80,135.37 L282.30,135.33 L282.80,135.26 L283.30,135.18 L283.80,135.08 L284.30,134.96 L284.80,134.83 L285.30,134.69 L285.80,134.53 L286.30,134.36 L286.80,134.18 L287.30,133.99 L287.80,133.80 L288.30,133.60 L288.80,133.39 L289.30,133.17 L289.80,132.96 L290.30,132.70 L290.80,132.38 L291.30,132.02 L291.80,131.62 L292.30,131.18 L292.80,130.72 L293.30,130.23 L293.80,129.73 L294.30,129.21 L294.80,128.70 L295.30,128.16 L295.80,127.58 L296.30,126.98 L296.80,126.34 L297.30,125.67 L297.80,124.98 L298.30,124.25 L298.80,123.51 L299.30,122.73 L299.80,121.94 L300.30,121.09 L300.80,120.18 L301.30,119.21 L301.80,118.21 L302.30,117.17 L302.80,116.12 L303.30,115.05 L303.80,113.99 L304.30,112.93 L304.80,111.89 L305.30,110.83 L305.80,109.74 L306.30,108.62 L306.80,107.49 L307.30,106.37 L307.80,105.27 L308.30,104.20 L308.80,103.18 L309.30,102.22 L309.80,101.33 L310.30,100.44 L310.80,99.55 L311.30,98.65 L311.80,97.79 L312.30,96.96 L312.80,96.20 L313.30,95.52 L313.80,94.94 L314.30,94.47 L314.80,94.14 L315.30,93.87 L315.80,93.60 L316.30,93.35 L316.80,93.12 L317.30,92.91 L317.80,92.72 L318.30,92.55 L318.80,92.42 L319.30,92.31 L319.80,92.24 L320.30,92.20 L320.80,92.22 L321.30,92.32 L321.80,92.50 L322.30,92.74 L322.80,93.03 L323.30,93.34 L323.80,93.67 L324.30,94.02 L324.80,94.45 L325.30,94.98 L325.80,95.57 L326.30,96.21 L326.80,96.88 L327.30,97.56 L327.80,98.24 L328.30,98.90 L328.80,99.58 L329.30,100.28 L329.80,101.00 L330.30,101.74 L330.80,102.49 L331.30,103.27 L331.80,104.05 L332.30,104.86 L332.80,105.67 L333.30,106.51 L333.80,107.39 L334.30,108.31 L334.80,109.25 L335.30,110.21 L335.80,111.18 L336.30,112.14 L336.80,113.08 L337.30,113.99 L337.80,114.87 L338.30,115.69 L338.80,116.51 L339.30,117.31 L339.80,118.09 L340.30,118.86 L340.80,119.62 L341.30,120.35 L341.80,121.07 L342.30,121.76 L342.80,122.44 L343.30,123.09 L343.80,123.74 L344.30,124.37 L344.80,125.00 L345.30,125.61 L345.80,126.20 L346.30,126.76 L346.80,127.31 L347.30,127.83 L347.80,128.31 L348.30,128.77 L348.80,129.23 L349.30,129.67 L349.80,130.09 L350.30,130.51 L350.80,130.90 L351.30,131.26 L351.80,131.61 L352.30,131.92 L352.80,132.20 L353.30,132.45 L353.80,132.68 L354.30,132.91 L354.80,133.13 L355.30,133.33 L355.80,133.53 L356.30,133.71 L356.80,133.89 L357.30,134.05 L357.80,134.21 L358.30,134.35 L358.80,134.49 L359.30,134.61 L359.80,134.72 L360.30,134.83 L360.80,134.93 L361.30,135.02 L361.80,135.11 L362.30,135.19 L362.80,135.27 L363.30,135.33 L363.80,135.38 L363.80,135.40 Z" fill="#ff78b4"/>
<path d="M324.30,135.40 L324.30,135.40 L324.80,135.33 L325.30,135.18 L325.80,134.96 L326.30,134.68 L326.80,134.32 L327.30,133.90 L327.80,133.44 L328.30,132.92 L328.80,132.37 L329.30,131.79 L329.80,131.18 L330.30,130.56 L330.80,129.93 L331.30,129.30 L331.80,128.65 L332.30,127.95 L332.80,127.21 L333.30,126.43 L333.80,125.62 L334.30,124.76 L334.80,123.87 L335.30,122.94 L335.80,121.99 L336.30,121.00 L336.80,119.95 L337.30,118.81 L337.80,117.60 L338.30,116.35 L338.80,115.05 L339.30,113.75 L339.80,112.44 L340.30,111.04 L340.80,109.57 L341.30,108.06 L341.80,106.59 L342.30,105.20 L342.80,103.95 L343.30,102.85 L343.80,101.79 L344.30,100.76 L344.80,99.81 L345.30,98.96 L345.80,98.25 L346.30,97.70 L346.80,97.26 L347.30,96.85 L347.80,96.47 L348.30,96.12 L348.80,95.82 L349.30,95.57 L349.80,95.38 L350.30,95.24 L350.80,95.15 L351.30,95.08 L351.80,95.01 L352.30,94.95 L352.80,94.89 L353.30,94.85 L353.80,94.82 L354.30,94.80 L354.80,94.80 L355.30,94.83 L355.80,94.91 L356.30,95.02 L356.80,95.17 L357.30,95.34 L357.80,95.54 L358.30,95.76 L358.80,95.99 L359.30,96.24 L359.80,96.48 L360.30,96.73 L360.80,96.98 L361.30,97.21 L361.80,97.44 L362.30,97.67 L362.80,97.92 L363.30,98.17 L363.80,98.44 L364.30,98.71 L364.80,99.00 L365.30,99.29 L365.80,99.58 L366.30,99.88 L366.80,100.19 L367.30,100.50 L367.80,100.82 L368.30,101.13 L368.80,101.45 L369.30,101.77 L369.80,102.10 L370.30,102.42 L370.80,102.74 L371.30,103.06 L371.80,103.37 L372.30,103.69 L372.80,104.00 L373.30,104.30 L373.80,104.60 L374.30,104.91 L374.80,105.22 L375.30,105.53 L375.80,105.84 L376.30,106.16 L376.80,106.47 L377.30,106.79 L377.80,107.10 L378.30,107.42 L378.80,107.74 L379.30,108.05 L379.80,108.37 L380.30,108.68 L380.80,108.99 L381.30,109.30 L381.80,109.61 L382.30,109.91 L382.80,110.22 L383.30,110.51 L383.80,110.81 L384.30,111.10 L384.80,111.39 L385.30,111.67 L385.80,111.95 L386.30,112.23 L386.80,112.50 L387.30,112.78 L387.80,113.05 L388.30,113.32 L388.80,113.59 L389.30,113.86 L389.80,114.12 L390.30,114.38 L390.80,114.64 L391.30,114.90 L391.80,115.16 L392.30,115.42 L392.80,115.67 L393.30,115.92 L393.80,116.18 L394.30,116.43 L394.80,116.67 L395.30,116.92 L395.80,117.16 L396.30,117.41 L396.80,117.65 L397.30,117.89 L397.80,118.13 L398.30,118.37 L398.80,118.60 L399.30,118.84 L399.80,119.08 L400.30,119.31 L400.80,119.54 L401.30,119.77 L401.80,120.00 L402.30,120.23 L402.80,120.46 L403.30,120.68 L403.80,120.90 L404.30,121.12 L404.80,121.34 L405.30,121.56 L405.80,121.77 L406.30,121.98 L406.80,122.19 L407.30,122.40 L407.80,122.60 L408.30,122.80 L408.80,123.00 L409.30,123.20 L409.80,123.39 L410.30,123.59 L410.80,123.78 L411.30,123.98 L411.80,124.17 L412.30,124.36 L412.80,124.55 L413.30,124.73 L413.80,124.92 L414.30,125.10 L414.80,125.28 L415.30,125.46 L415.80,125.63 L416.30,125.80 L416.80,125.98 L417.30,126.14 L417.80,126.31 L418.30,126.47 L418.80,126.63 L419.30,126.79 L419.80,126.94 L420.30,127.09 L420.80,127.24 L421.30,127.39 L421.80,127.53 L422.30,127.67 L422.80,127.82 L423.30,127.96 L423.80,128.09 L424.30,128.23 L424.80,128.36 L425.30,128.50 L425.80,128.63 L426.30,128.76 L426.80,128.88 L427.30,129.01 L427.80,129.13 L428.30,129.25 L428.80,129.37 L429.30,129.49 L429.80,129.60 L430.30,129.72 L430.80,129.83 L431.30,129.94 L431.80,130.04 L432.30,130.15 L432.80,130.25 L433.30,130.35 L433.80,130.45 L434.30,130.55 L434.80,130.65 L435.30,130.75 L435.80,130.84 L436.30,130.94 L436.80,131.03 L437.30,131.12 L437.80,131.21 L438.30,131.30 L438.80,131.39 L439.30,131.47 L439.80,131.56 L440.30,131.64 L440.80,131.72 L441.30,131.80 L441.80,131.88 L442.30,131.95 L442.80,132.03 L443.30,132.10 L443.80,132.17 L444.30,132.24 L444.80,132.31 L445.30,132.38 L445.80,132.45 L446.30,132.51 L446.80,132.58 L447.30,132.64 L447.80,132.71 L448.30,132.77 L448.80,132.83 L449.30,132.89 L449.80,132.95 L450.30,133.01 L450.80,133.06 L451.30,133.12 L451.80,133.18 L452.30,133.23 L452.80,133.28 L453.30,133.33 L453.80,133.38 L454.30,133.43 L454.80,133.48 L455.30,133.53 L455.80,133.57 L456.30,133.62 L456.80,133.66 L457.30,133.71 L457.80,133.75 L458.30,133.79 L458.80,133.83 L459.30,133.87 L459.80,133.91 L460.30,133.95 L460.80,133.99 L461.30,134.03 L461.80,134.06 L462.30,134.10 L462.80,134.14 L463.30,134.17 L463.80,134.21 L464.30,134.24 L464.80,134.28 L465.30,134.31 L465.80,134.35 L466.30,134.38 L466.80,134.41 L467.30,134.45 L467.80,134.48 L468.30,134.51 L468.80,134.55 L469.30,134.58 L469.80,134.61 L470.30,134.64 L470.80,134.67 L471.30,134.70 L471.80,134.73 L472.30,134.76 L472.80,134.79 L473.30,134.82 L473.80,134.85 L474.30,134.88 L474.80,134.91 L475.30,134.94 L475.80,134.97 L476.30,135.00 L476.80,135.02 L477.30,135.05 L477.80,135.08 L478.30,135.11 L478.80,135.14 L479.30,135.16 L479.80,135.19 L480.30,135.22 L480.80,135.24 L481.30,135.27 L481.80,135.29 L482.30,135.32 L482.80,135.34 L483.30,135.37 L483.30,135.40 Z" fill="#96eb8c"/>
<path d="M351.30,135.40 L351.30,135.36 L351.80,135.23 L352.30,135.06 L352.80,134.85 L353.30,134.57 L353.80,134.20 L354.30,133.72 L354.80,133.00 L355.30,131.65 L355.80,129.89 L356.30,128.00 L356.80,126.00 L357.30,123.73 L357.80,121.20 L358.30,118.42 L358.80,115.13 L359.30,111.47 L359.80,107.76 L360.30,103.84 L360.80,99.94 L361.30,96.48 L361.80,93.33 L362.30,90.25 L362.80,87.09 L363.30,83.90 L363.80,80.71 L364.30,77.53 L364.80,74.36 L365.30,70.99 L365.80,67.71 L366.30,65.00 L366.80,62.80 L367.30,60.86 L367.80,59.40 L368.30,58.50 L368.80,57.75 L369.30,57.21 L369.80,57.00 L370.30,57.30 L370.80,58.07 L371.30,59.08 L371.80,60.27 L372.30,62.04 L372.80,64.15 L373.30,66.30 L373.80,68.46 L374.30,70.78 L374.80,73.20 L375.30,75.65 L375.80,78.09 L376.30,80.46 L376.80,82.70 L377.30,84.85 L377.80,86.98 L378.30,89.07 L378.80,91.10 L379.30,93.06 L379.80,94.93 L380.30,96.70 L380.80,98.39 L381.30,100.04 L381.80,101.65 L382.30,103.20 L382.80,104.71 L383.30,106.15 L383.80,107.54 L384.30,108.86 L384.80,110.12 L385.30,111.31 L385.80,112.47 L386.30,113.59 L386.80,114.68 L387.30,115.72 L387.80,116.72 L388.30,117.66 L388.80,118.55 L389.30,119.38 L389.80,120.15 L390.30,120.88 L390.80,121.60 L391.30,122.29 L391.80,122.97 L392.30,123.62 L392.80,124.25 L393.30,124.85 L393.80,125.42 L394.30,125.96 L394.80,126.47 L395.30,126.95 L395.80,127.39 L396.30,127.80 L396.80,128.17 L397.30,128.52 L397.80,128.86 L398.30,129.19 L398.80,129.51 L399.30,129.82 L399.80,130.11 L400.30,130.40 L400.80,130.67 L401.30,130.93 L401.80,131.18 L402.30,131.42 L402.80,131.65 L403.30,131.86 L403.80,132.06 L404.30,132.25 L404.80,132.43 L405.30,132.59 L405.80,132.74 L406.30,132.88 L406.80,133.02 L407.30,133.14 L407.80,133.26 L408.30,133.38 L408.80,133.49 L409.30,133.59 L409.80,133.69 L410.30,133.79 L410.80,133.88 L411.30,133.97 L411.80,134.06 L412.30,134.14 L412.80,134.22 L413.30,134.30 L413.80,134.38 L414.30,134.45 L414.80,134.53 L415.30,134.60 L415.80,134.67 L416.30,134.74 L416.80,134.81 L417.30,134.88 L417.80,134.94 L418.30,135.01 L418.80,135.07 L419.30,135.12 L419.80,135.18 L420.30,135.23 L420.80,135.29 L421.30,135.34 L421.80,135.38 L421.80,135.40 Z" fill="#8c96f5"/>
<path d="M324.30,135.40 L324.30,135.40 L324.80,135.33 L325.30,135.18 L325.80,134.96 L326.30,134.68 L326.80,134.32 L327.30,133.90 L327.80,133.44 L328.30,132.92 L328.80,132.37 L329.30,131.79 L329.80,131.18 L330.30,130.56 L330.80,129.93 L331.30,129.30 L331.80,128.65 L332.30,127.95 L332.80,127.21 L333.30,126.43 L333.80,125.62 L334.30,124.76 L334.80,123.87 L335.30,122.94 L335.80,121.99 L336.30,121.00 L336.80,119.95 L337.30,118.81 L337.80,117.60 L338.30,116.35 L338.80,116.51 L339.30,117.31 L339.80,118.09 L340.30,118.86 L340.80,119.62 L341.30,120.35 L341.80,121.07 L342.30,121.76 L342.80,122.44 L343.30,123.09 L343.80,123.74 L344.30,124.37 L344.80,125.00 L345.30,125.61 L345.80,126.20 L346.30,126.76 L346.80,127.31 L347.30,127.83 L347.80,128.31 L348.30,128.77 L348.80,129.23 L349.30,129.67 L349.80,130.09 L350.30,130.51 L350.80,130.90 L351.30,131.26 L351.80,131.61 L352.30,131.92 L352.80,132.20 L353.30,132.45 L353.80,132.68 L354.30,132.91 L354.80,133.13 L355.30,133.33 L355.80,133.53 L356.30,133.71 L356.80,133.89 L357.30,134.05 L357.80,134.21 L358.30,134.35 L358.80,134.49 L359.30,134.61 L359.80,134.72 L360.30,134.83 L360.80,134.93 L361.30,135.02 L361.80,135.11 L362.30,135.19 L362.80,135.27 L363.30,135.33 L363.80,135.38 L363.80,135.40 Z" fill="#a57d55"/>
<path d="M324.30,135.40 L324.30,135.40 L324.80,135.33 L325.30,135.18 L325.80,134.96 L326.30,134.68 L326.80,134.32 L327.30,133.90 L327.80,133.44 L328.30,132.92 L328.80,132.37 L329.30,131.79 L329.80,131.18 L330.30,130.56 L330.80,129.93 L331.30,129.30 L331.80,128.65 L332.30,127.95 L332.80,127.21 L333.30,126.43 L333.80,125.62 L334.30,124.76 L334.80,123.87 L335.30,122.94 L335.80,121.99 L336.30,121.00 L336.80,119.95 L337.30,118.81 L337.80,117.60 L338.30,116.35 L338.80,116.51 L339.30,117.31 L339.80,118.09 L340.30,118.86 L340.80,119.62 L341.30,120.35 L341.80,121.07 L342.30,121.76 L342.80,122.44 L343.30,123.09 L343.80,123.74 L344.30,124.37 L344.80,125.00 L345.30,125.61 L345.80,126.20 L346.30,126.76 L346.80,127.31 L347.30,127.83 L347.80,128.31 L348.30,128.77 L348.80,129.23 L349.30,129.67 L349.80,130.09 L350.30,130.51 L350.80,130.90 L351.30,131.26 L351.80,131.61 L352.30,131.92 L352.80,132.20 L353.30,132.45 L353.80,132.68 L354.30,132.91 L354.80,133.13 L355.30,133.33 L355.80,133.53 L356.30,133.71 L356.80,133.89 L357.30,134.05 L357.80,134.21 L358.30,134.35 L358.80,134.49 L359.30,134.61 L359.80,134.72 L360.30,134.83 L360.80,134.93 L361.30,135.02 L361.80,135.11 L362.30,135.19 L362.80,135.27 L363.30,135.33 L363.80,135.38 L363.80,135.40 Z" fill="url(#dW)"/>
<path d="M351.30,135.40 L351.30,135.36 L351.80,135.23 L352.30,135.06 L352.80,134.85 L353.30,134.57 L353.80,134.20 L354.30,133.72 L354.80,133.00 L355.30,131.65 L355.80,129.89 L356.30,128.00 L356.80,126.00 L357.30,123.73 L357.80,121.20 L358.30,118.42 L358.80,115.13 L359.30,111.47 L359.80,107.76 L360.30,103.84 L360.80,99.94 L361.30,97.21 L361.80,97.44 L362.30,97.67 L362.80,97.92 L363.30,98.17 L363.80,98.44 L364.30,98.71 L364.80,99.00 L365.30,99.29 L365.80,99.58 L366.30,99.88 L366.80,100.19 L367.30,100.50 L367.80,100.82 L368.30,101.13 L368.80,101.45 L369.30,101.77 L369.80,102.10 L370.30,102.42 L370.80,102.74 L371.30,103.06 L371.80,103.37 L372.30,103.69 L372.80,104.00 L373.30,104.30 L373.80,104.60 L374.30,104.91 L374.80,105.22 L375.30,105.53 L375.80,105.84 L376.30,106.16 L376.80,106.47 L377.30,106.79 L377.80,107.10 L378.30,107.42 L378.80,107.74 L379.30,108.05 L379.80,108.37 L380.30,108.68 L380.80,108.99 L381.30,109.30 L381.80,109.61 L382.30,109.91 L382.80,110.22 L383.30,110.51 L383.80,110.81 L384.30,111.10 L384.80,111.39 L385.30,111.67 L385.80,112.47 L386.30,113.59 L386.80,114.68 L387.30,115.72 L387.80,116.72 L388.30,117.66 L388.80,118.55 L389.30,119.38 L389.80,120.15 L390.30,120.88 L390.80,121.60 L391.30,122.29 L391.80,122.97 L392.30,123.62 L392.80,124.25 L393.30,124.85 L393.80,125.42 L394.30,125.96 L394.80,126.47 L395.30,126.95 L395.80,127.39 L396.30,127.80 L396.80,128.17 L397.30,128.52 L397.80,128.86 L398.30,129.19 L398.80,129.51 L399.30,129.82 L399.80,130.11 L400.30,130.40 L400.80,130.67 L401.30,130.93 L401.80,131.18 L402.30,131.42 L402.80,131.65 L403.30,131.86 L403.80,132.06 L404.30,132.25 L404.80,132.43 L405.30,132.59 L405.80,132.74 L406.30,132.88 L406.80,133.02 L407.30,133.14 L407.80,133.26 L408.30,133.38 L408.80,133.49 L409.30,133.59 L409.80,133.69 L410.30,133.79 L410.80,133.88 L411.30,133.97 L411.80,134.06 L412.30,134.14 L412.80,134.22 L413.30,134.30 L413.80,134.38 L414.30,134.45 L414.80,134.53 L415.30,134.60 L415.80,134.67 L416.30,134.74 L416.80,134.81 L417.30,134.88 L417.80,134.94 L418.30,135.01 L418.80,135.07 L419.30,135.12 L419.80,135.18 L420.30,135.23 L420.80,135.29 L421.30,135.34 L421.80,135.38 L421.80,135.40 Z" fill="#4b96aa"/>
<path d="M351.30,135.40 L351.30,135.36 L351.80,135.23 L352.30,135.06 L352.80,134.85 L353.30,134.57 L353.80,134.20 L354.30,133.72 L354.80,133.13 L355.30,133.33 L355.80,133.53 L356.30,133.71 L356.80,133.89 L357.30,134.05 L357.80,134.21 L358.30,134.35 L358.80,134.49 L359.30,134.61 L359.80,134.72 L360.30,134.83 L360.80,134.93 L361.30,135.02 L361.80,135.11 L362.30,135.19 L362.80,135.27 L363.30,135.33 L363.80,135.38 L363.80,135.40 Z" fill="#37467f"/>
<path d="M351.30,135.40 L351.30,135.36 L351.80,135.23 L352.30,135.06 L352.80,134.85 L353.30,134.57 L353.80,134.20 L354.30,133.72 L354.80,133.13 L355.30,133.33 L355.80,133.53 L356.30,133.71 L356.80,133.89 L357.30,134.05 L357.80,134.21 L358.30,134.35 L358.80,134.49 L359.30,134.61 L359.80,134.72 L360.30,134.83 L360.80,134.93 L361.30,135.02 L361.80,135.11 L362.30,135.19 L362.80,135.27 L363.30,135.33 L363.80,135.38 L363.80,135.40 Z" fill="#37467f"/>
<path d="M351.30,135.40 L351.30,135.36 L351.80,135.23 L352.30,135.06 L352.80,134.85 L353.30,134.57 L353.80,134.20 L354.30,133.72 L354.80,133.13 L355.30,133.33 L355.80,133.53 L356.30,133.71 L356.80,133.89 L357.30,134.05 L357.80,134.21 L358.30,134.35 L358.80,134.49 L359.30,134.61 L359.80,134.72 L360.30,134.83 L360.80,134.93 L361.30,135.02 L361.80,135.11 L362.30,135.19 L362.80,135.27 L363.30,135.33 L363.80,135.38 L363.80,135.40 Z" fill="url(#dB)"/>
<path d="M261.30,135.20 L261.80,135.20 L262.30,135.20 L262.80,135.20 L263.30,135.20 L263.80,135.20 L264.30,135.19 L264.80,135.19 L265.30,135.19 L265.80,135.19 L266.30,135.18 L266.80,135.18 L267.30,135.17 L267.80,135.17 L268.30,135.17 L268.80,135.16 L269.30,135.15 L269.80,135.15 L270.30,135.14 L270.80,135.13 L271.30,135.13 L271.80,135.12 L272.30,135.11 L272.80,135.10 L273.30,135.09 L273.80,135.08 L274.30,135.07 L274.80,135.06 L275.30,135.05 L275.80,135.04 L276.30,135.02 L276.80,135.01 L277.30,135.00 L277.80,134.98 L278.30,134.97 L278.80,134.95 L279.30,134.94 L279.80,134.92 L280.30,134.90 L280.80,134.88 L281.30,134.87 L281.80,134.85 L282.30,134.83 L282.80,134.81 L283.30,134.78 L283.80,134.73 L284.30,134.65 L284.80,134.55 L285.30,134.43 L285.80,134.29 L286.30,134.12 L286.80,133.95 L287.30,133.75 L287.80,133.55 L288.30,133.34 L288.80,133.11 L289.30,132.89 L289.80,132.65 L290.30,132.38 L290.80,132.06 L291.30,131.70 L291.80,131.30 L292.30,130.86 L292.80,130.40 L293.30,129.92 L293.80,129.42 L294.30,128.91 L294.80,128.40 L295.30,127.86 L295.80,127.28 L296.30,126.68 L296.80,126.04 L297.30,125.37 L297.80,124.68 L298.30,123.95 L298.80,123.21 L299.30,122.43 L299.80,121.64 L300.30,120.79 L300.80,119.88 L301.30,118.92 L301.80,117.92 L302.30,116.89 L302.80,115.83 L303.30,114.77 L303.80,113.70 L304.30,112.64 L304.80,111.59 L305.30,110.52 L305.80,109.41 L306.30,108.27 L306.80,107.12 L307.30,105.98 L307.80,104.86 L308.30,103.76 L308.80,102.72 L309.30,101.73 L309.80,100.82 L310.30,99.92 L310.80,99.01 L311.30,98.11 L311.80,97.24 L312.30,96.41 L312.80,95.63 L313.30,94.93 L313.80,94.32 L314.30,93.81 L314.80,93.43 L315.30,93.10 L315.80,92.77 L316.30,92.46 L316.80,92.18 L317.30,91.93 L317.80,91.71 L318.30,91.53 L318.80,91.40 L319.30,91.32 L319.80,91.30 L320.30,91.33 L320.80,91.40 L321.30,91.50 L321.80,91.63 L322.30,91.79 L322.80,91.96 L323.30,92.15 L323.80,92.34 L324.30,92.54 L324.80,92.74 L325.30,92.99 L325.80,93.30 L326.30,93.65 L326.80,94.03 L327.30,94.42 L327.80,94.82 L328.30,95.19 L328.80,95.53 L329.30,95.82 L329.80,96.04 L330.30,96.24 L330.80,96.45 L331.30,96.64 L331.80,96.82 L332.30,96.98 L332.80,97.09 L333.30,97.17 L333.80,97.20 L334.30,97.15 L334.80,97.03 L335.30,96.83 L335.80,96.58 L336.30,96.29 L336.80,95.97 L337.30,95.65 L337.80,95.33 L338.30,95.00 L338.80,94.63 L339.30,94.20 L339.80,93.74 L340.30,93.25 L340.80,92.75 L341.30,92.25 L341.80,91.76 L342.30,91.29 L342.80,90.86 L343.30,90.47 L343.80,90.09 L344.30,89.71 L344.80,89.34 L345.30,88.98 L345.80,88.63 L346.30,88.30 L346.80,87.98 L347.30,87.68 L347.80,87.41 L348.30,87.15 L348.80,86.94 L349.30,86.75 L349.80,86.58 L350.30,86.42 L350.80,86.26 L351.30,86.08 L351.80,85.87 L352.30,85.63 L352.80,85.33 L353.30,84.97 L353.80,84.48 L354.30,83.85 L354.80,83.09 L355.30,82.19 L355.80,81.16 L356.30,80.00 L356.80,78.35 L357.30,76.04 L357.80,73.14 L358.30,69.23 L358.80,65.02 L359.30,61.33 L359.80,58.09 L360.30,55.03 L360.80,52.11 L361.30,49.26 L361.80,46.43 L362.30,43.59 L362.80,40.78 L363.30,38.06 L363.80,35.54 L364.30,33.26 L364.80,31.10 L365.30,29.03 L365.80,27.14 L366.30,25.53 L366.80,24.28 L367.30,23.15 L367.80,22.09 L368.30,21.22 L368.80,20.65 L369.30,20.51 L369.80,20.76 L370.30,21.31 L370.80,22.07 L371.30,22.96 L371.80,23.89 L372.30,25.12 L372.80,26.69 L373.30,28.50 L373.80,30.43 L374.30,32.39 L374.80,34.53 L375.30,36.88 L375.80,39.33 L376.30,41.79 L376.80,44.17 L377.30,46.48 L377.80,48.80 L378.30,51.11 L378.80,53.43 L379.30,55.77 L379.80,58.15 L380.30,60.55 L380.80,62.95 L381.30,65.31 L381.80,67.62 L382.30,69.95 L382.80,72.25 L383.30,74.42 L383.80,76.37 L384.30,78.08 L384.80,79.67 L385.30,81.25 L385.80,82.85 L386.30,84.44 L386.80,86.03 L387.30,87.58 L387.80,89.10 L388.30,90.57 L388.80,91.97 L389.30,93.30 L389.80,94.54 L390.30,95.74 L390.80,96.93 L391.30,98.09 L391.80,99.22 L392.30,100.33 L392.80,101.40 L393.30,102.44 L393.80,103.44 L394.30,104.40 L394.80,105.31 L395.30,106.17 L395.80,106.98 L396.30,107.74 L396.80,108.43 L397.30,109.10 L397.80,109.73 L398.30,110.35 L398.80,110.94 L399.30,111.52 L399.80,112.07 L400.30,112.61 L400.80,113.12 L401.30,113.62 L401.80,114.10 L402.30,114.57 L402.80,115.02 L403.30,115.46 L403.80,115.88 L404.30,116.29 L404.80,116.69 L405.30,117.08 L405.80,117.45 L406.30,117.82 L406.80,118.18 L407.30,118.53 L407.80,118.87 L408.30,119.20 L408.80,119.52 L409.30,119.84 L409.80,120.15 L410.30,120.44 L410.80,120.74 L411.30,121.02 L411.80,121.29 L412.30,121.56 L412.80,121.82 L413.30,122.07 L413.80,122.31 L414.30,122.55 L414.80,122.78 L415.30,123.00 L415.80,123.22 L416.30,123.43 L416.80,123.63 L417.30,123.84 L417.80,124.04 L418.30,124.23 L418.80,124.42 L419.30,124.61 L419.80,124.79 L420.30,124.97 L420.80,125.15 L421.30,125.32 L421.80,125.49 L422.30,125.65 L422.80,125.81 L423.30,125.97 L423.80,126.12 L424.30,126.27 L424.80,126.41 L425.30,126.55 L425.80,126.69 L426.30,126.82 L426.80,126.95 L427.30,127.07 L427.80,127.20 L428.30,127.32 L428.80,127.43 L429.30,127.54 L429.80,127.66 L430.30,127.76 L430.80,127.87 L431.30,127.97 L431.80,128.07 L432.30,128.17 L432.80,128.27 L433.30,128.37 L433.80,128.46 L434.30,128.55 L434.80,128.64 L435.30,128.73 L435.80,128.82 L436.30,128.91 L436.80,128.99 L437.30,129.08 L437.80,129.17 L438.30,129.25 L438.80,129.33 L439.30,129.42 L439.80,129.50 L440.30,129.58 L440.80,129.66 L441.30,129.74 L441.80,129.82 L442.30,129.90 L442.80,129.98 L443.30,130.06 L443.80,130.13 L444.30,130.21 L444.80,130.28 L445.30,130.35 L445.80,130.42 L446.30,130.49 L446.80,130.56 L447.30,130.63 L447.80,130.69 L448.30,130.76 L448.80,130.82 L449.30,130.88 L449.80,130.94 L450.30,131.00 L450.80,131.06 L451.30,131.11 L451.80,131.17 L452.30,131.22 L452.80,131.27 L453.30,131.32 L453.80,131.37 L454.30,131.42 L454.80,131.47 L455.30,131.51 L455.80,131.56 L456.30,131.61 L456.80,131.65 L457.30,131.70 L457.80,131.74 L458.30,131.78 L458.80,131.83 L459.30,131.87 L459.80,131.91 L460.30,131.96 L460.80,132.00 L461.30,132.04 L461.80,132.08 L462.30,132.13 L462.80,132.17 L463.30,132.21 L463.80,132.26 L464.30,132.30 L464.80,132.34 L465.30,132.39 L465.80,132.43 L466.30,132.47 L466.80,132.51 L467.30,132.56 L467.80,132.60 L468.30,132.64 L468.80,132.68 L469.30,132.72 L469.80,132.76 L470.30,132.79 L470.80,132.83 L471.30,132.86 L471.80,132.89 L472.30,132.93 L472.80,132.96 L473.30,132.98 L473.80,133.01 L474.30,133.04 L474.80,133.06 L475.30,133.09 L475.80,133.11 L476.30,133.14 L476.80,133.16 L477.30,133.18 L477.80,133.21 L478.30,133.23 L478.80,133.25 L479.30,133.27 L479.80,133.29 L480.30,133.31 L480.80,133.33 L481.30,133.35 L481.80,133.37 L482.30,133.39 L482.80,133.41 L483.30,133.42 L483.80,133.44 L484.30,133.45 L484.80,133.46 L485.30,133.48 L485.80,133.49 L486.30,133.50" fill="none" stroke="#000" stroke-width="1.65" stroke-linejoin="round"/>
<path d="M261.30,135.20 L261.80,135.20 L262.30,135.20 L262.80,135.20 L263.30,135.20 L263.80,135.20 L264.30,135.19 L264.80,135.19 L265.30,135.19 L265.80,135.19 L266.30,135.18 L266.80,135.18 L267.30,135.17 L267.80,135.17 L268.30,135.17 L268.80,135.16 L269.30,135.15 L269.80,135.15 L270.30,135.14 L270.80,135.13 L271.30,135.13 L271.80,135.12 L272.30,135.11 L272.80,135.10 L273.30,135.09 L273.80,135.08 L274.30,135.07 L274.80,135.06 L275.30,135.05 L275.80,135.04 L276.30,135.02 L276.80,135.01 L277.30,135.00 L277.80,134.98 L278.30,134.97 L278.80,134.95 L279.30,134.94 L279.80,134.92 L280.30,134.90 L280.80,134.88 L281.30,134.87 L281.80,134.85 L282.30,134.83 L282.80,134.81 L283.30,134.78 L283.80,134.73 L284.30,134.65 L284.80,134.55 L285.30,134.43 L285.80,134.29 L286.30,134.12 L286.80,133.95 L287.30,133.75 L287.80,133.55 L288.30,133.34 L288.80,133.11 L289.30,132.89 L289.80,132.65 L290.30,132.38 L290.80,132.06 L291.30,131.70 L291.80,131.30 L292.30,130.86 L292.80,130.40 L293.30,129.92 L293.80,129.42 L294.30,128.91 L294.80,128.40 L295.30,127.86 L295.80,127.28 L296.30,126.68 L296.80,126.04 L297.30,125.37 L297.80,124.68 L298.30,123.95 L298.80,123.21 L299.30,122.43 L299.80,121.64 L300.30,120.79 L300.80,119.88 L301.30,118.92 L301.80,117.92 L302.30,116.89 L302.80,115.83 L303.30,114.77 L303.80,113.70 L304.30,112.64 L304.80,111.59 L305.30,110.52 L305.80,109.41 L306.30,108.27 L306.80,107.12 L307.30,105.98 L307.80,104.86 L308.30,103.76 L308.80,102.72 L309.30,101.73 L309.80,100.82 L310.30,99.92 L310.80,99.01 L311.30,98.11 L311.80,97.24 L312.30,96.41 L312.80,95.63 L313.30,94.93 L313.80,94.32 L314.30,93.81 L314.80,93.43 L315.30,93.10 L315.80,92.77 L316.30,92.46 L316.80,92.18 L317.30,91.93 L317.80,91.71 L318.30,91.53 L318.80,91.40 L319.30,91.32 L319.80,91.30 L320.30,91.33 L320.80,91.40 L321.30,91.50 L321.80,91.63 L322.30,91.79 L322.80,91.96 L323.30,92.15 L323.80,92.34 L324.30,92.54 L324.80,92.74 L325.30,92.99 L325.80,93.30 L326.30,93.65 L326.80,94.03 L327.30,94.42 L327.80,94.82 L328.30,95.19 L328.80,95.53 L329.30,95.82 L329.80,96.04 L330.30,96.24 L330.80,96.45 L331.30,96.64 L331.80,96.82 L332.30,96.98 L332.80,97.09 L333.30,97.17 L333.80,97.20 L334.30,97.15 L334.80,97.03 L335.30,96.83 L335.80,96.58 L336.30,96.29 L336.80,95.97 L337.30,95.65 L337.80,95.33 L338.30,95.00 L338.80,94.63 L339.30,94.20 L339.80,93.74 L340.30,93.25 L340.80,92.75 L341.30,92.25 L341.80,91.76 L342.30,91.29 L342.80,90.86 L343.30,90.47 L343.80,90.09 L344.30,89.71 L344.80,89.34 L345.30,88.98 L345.80,88.63 L346.30,88.30 L346.80,87.98 L347.30,87.68 L347.80,87.41 L348.30,87.15 L348.80,86.94 L349.30,86.75 L349.80,86.58 L350.30,86.42 L350.80,86.26 L351.30,86.08 L351.80,85.87 L352.30,85.63 L352.80,85.33 L353.30,84.97 L353.80,84.48 L354.30,83.85 L354.80,83.09 L355.30,82.19 L355.80,81.16 L356.30,80.00 L356.80,78.35 L357.30,76.04 L357.80,73.14 L358.30,69.23 L358.80,65.02 L359.30,61.33 L359.80,58.09 L360.30,55.03 L360.80,52.11 L361.30,49.26 L361.80,46.43 L362.30,43.59 L362.80,40.78 L363.30,38.06 L363.80,35.54 L364.30,33.26 L364.80,31.10 L365.30,29.03 L365.80,27.14 L366.30,25.53 L366.80,24.28 L367.30,23.15 L367.80,22.09 L368.30,21.22 L368.80,20.65 L369.30,20.51 L369.80,20.76 L370.30,21.31 L370.80,22.07 L371.30,22.96 L371.80,23.89 L372.30,25.12 L372.80,26.69 L373.30,28.50 L373.80,30.43 L374.30,32.39 L374.80,34.53 L375.30,36.88 L375.80,39.33 L376.30,41.79 L376.80,44.17 L377.30,46.48 L377.80,48.80 L378.30,51.11 L378.80,53.43 L379.30,55.77 L379.80,58.15 L380.30,60.55 L380.80,62.95 L381.30,65.31 L381.80,67.62 L382.30,69.95 L382.80,72.25 L383.30,74.42 L383.80,76.37 L384.30,78.08 L384.80,79.67 L385.30,81.25 L385.80,82.85 L386.30,84.44 L386.80,86.03 L387.30,87.58 L387.80,89.10 L388.30,90.57 L388.80,91.97 L389.30,93.30 L389.80,94.54 L390.30,95.74 L390.80,96.93 L391.30,98.09 L391.80,99.22 L392.30,100.33 L392.80,101.40 L393.30,102.44 L393.80,103.44 L394.30,104.40 L394.80,105.31 L395.30,106.17 L395.80,106.98 L396.30,107.74 L396.80,108.43 L397.30,109.10 L397.80,109.73 L398.30,110.35 L398.80,110.94 L399.30,111.52 L399.80,112.07 L400.30,112.61 L400.80,113.12 L401.30,113.62 L401.80,114.10 L402.30,114.57 L402.80,115.02 L403.30,115.46 L403.80,115.88 L404.30,116.29 L404.80,116.69 L405.30,117.08 L405.80,117.45 L406.30,117.82 L406.80,118.18 L407.30,118.53 L407.80,118.87 L408.30,119.20 L408.80,119.52 L409.30,119.84 L409.80,120.15 L410.30,120.44 L410.80,120.74 L411.30,121.02 L411.80,121.29 L412.30,121.56 L412.80,121.82 L413.30,122.07 L413.80,122.31 L414.30,122.55 L414.80,122.78 L415.30,123.00 L415.80,123.22 L416.30,123.43 L416.80,123.63 L417.30,123.84 L417.80,124.04 L418.30,124.23 L418.80,124.42 L419.30,124.61 L419.80,124.79 L420.30,124.97 L420.80,125.15 L421.30,125.32 L421.80,125.49 L422.30,125.65 L422.80,125.81 L423.30,125.97 L423.80,126.12 L424.30,126.27 L424.80,126.41 L425.30,126.55 L425.80,126.69 L426.30,126.82 L426.80,126.95 L427.30,127.07 L427.80,127.20 L428.30,127.32 L428.80,127.43 L429.30,127.54 L429.80,127.66 L430.30,127.76 L430.80,127.87 L431.30,127.97 L431.80,128.07 L432.30,128.17 L432.80,128.27 L433.30,128.37 L433.80,128.46 L434.30,128.55 L434.80,128.64 L435.30,128.73 L435.80,128.82 L436.30,128.91 L436.80,128.99 L437.30,129.08 L437.80,129.17 L438.30,129.25 L438.80,129.33 L439.30,129.42 L439.80,129.50 L440.30,129.58 L440.80,129.66 L441.30,129.74 L441.80,129.82 L442.30,129.90 L442.80,129.98 L443.30,130.06 L443.80,130.13 L444.30,130.21 L444.80,130.28 L445.30,130.35 L445.80,130.42 L446.30,130.49 L446.80,130.56 L447.30,130.63 L447.80,130.69 L448.30,130.76 L448.80,130.82 L449.30,130.88 L449.80,130.94 L450.30,131.00 L450.80,131.06 L451.30,131.11 L451.80,131.17 L452.30,131.22 L452.80,131.27 L453.30,131.32 L453.80,131.37 L454.30,131.42 L454.80,131.47 L455.30,131.51 L455.80,131.56 L456.30,131.61 L456.80,131.65 L457.30,131.70 L457.80,131.74 L458.30,131.78 L458.80,131.83 L459.30,131.87 L459.80,131.91 L460.30,131.96 L460.80,132.00 L461.30,132.04 L461.80,132.08 L462.30,132.13 L462.80,132.17 L463.30,132.21 L463.80,132.26 L464.30,132.30 L464.80,132.34 L465.30,132.39 L465.80,132.43 L466.30,132.47 L466.80,132.51 L467.30,132.56 L467.80,132.60 L468.30,132.64 L468.80,132.68 L469.30,132.72 L469.80,132.76 L470.30,132.79 L470.80,132.83 L471.30,132.86 L471.80,132.89 L472.30,132.93 L472.80,132.96 L473.30,132.98 L473.80,133.01 L474.30,133.04 L474.80,133.06 L475.30,133.09 L475.80,133.11 L476.30,133.14 L476.80,133.16 L477.30,133.18 L477.80,133.21 L478.30,133.23 L478.80,133.25 L479.30,133.27 L479.80,133.29 L480.30,133.31 L480.80,133.33 L481.30,133.35 L481.80,133.37 L482.30,133.39 L482.80,133.41 L483.30,133.42 L483.80,133.44 L484.30,133.45 L484.80,133.46 L485.30,133.48 L485.80,133.49 L486.30,133.50" fill="none" stroke="#ff1428" stroke-width="1.65" stroke-dasharray="2.3 3.5" stroke-linejoin="round"/>
<path d="M281.80,310.60 L281.80,310.58 L282.30,310.54 L282.80,310.48 L283.30,310.41 L283.80,310.33 L284.30,310.23 L284.80,310.12 L285.30,309.99 L285.80,309.86 L286.30,309.71 L286.80,309.55 L287.30,309.38 L287.80,309.21 L288.30,309.02 L288.80,308.83 L289.30,308.63 L289.80,308.43 L290.30,308.22 L290.80,308.01 L291.30,307.80 L291.80,307.56 L292.30,307.28 L292.80,306.96 L293.30,306.60 L293.80,306.21 L294.30,305.78 L294.80,305.33 L295.30,304.86 L295.80,304.36 L296.30,303.85 L296.80,303.32 L297.30,302.77 L297.80,302.22 L298.30,301.66 L298.80,301.04 L299.30,300.38 L299.80,299.67 L300.30,298.93 L300.80,298.16 L301.30,297.36 L301.80,296.53 L302.30,295.69 L302.80,294.84 L303.30,293.98 L303.80,293.09 L304.30,292.16 L304.80,291.20 L305.30,290.22 L305.80,289.21 L306.30,288.17 L306.80,287.12 L307.30,286.04 L307.80,284.94 L308.30,283.83 L308.80,282.67 L309.30,281.47 L309.80,280.24 L310.30,278.99 L310.80,277.71 L311.30,276.42 L311.80,275.12 L312.30,273.82 L312.80,272.52 L313.30,271.21 L313.80,269.86 L314.30,268.48 L314.80,267.07 L315.30,265.66 L315.80,264.26 L316.30,262.88 L316.80,261.55 L317.30,260.27 L317.80,259.06 L318.30,257.94 L318.80,256.89 L319.30,255.89 L319.80,254.92 L320.30,253.97 L320.80,253.00 L321.30,252.01 L321.80,250.99 L322.30,249.97 L322.80,248.96 L323.30,247.97 L323.80,247.03 L324.30,246.13 L324.80,245.31 L325.30,244.55 L325.80,243.78 L326.30,243.02 L326.80,242.29 L327.30,241.60 L327.80,240.99 L328.30,240.46 L328.80,240.04 L329.30,239.75 L329.80,239.51 L330.30,239.29 L330.80,239.07 L331.30,238.88 L331.80,238.71 L332.30,238.57 L332.80,238.45 L333.30,238.36 L333.80,238.31 L334.30,238.30 L334.80,238.34 L335.30,238.44 L335.80,238.58 L336.30,238.76 L336.80,238.96 L337.30,239.18 L337.80,239.41 L338.30,239.65 L338.80,239.96 L339.30,240.32 L339.80,240.73 L340.30,241.17 L340.80,241.64 L341.30,242.12 L341.80,242.60 L342.30,243.09 L342.80,243.62 L343.30,244.18 L343.80,244.76 L344.30,245.35 L344.80,245.96 L345.30,246.57 L345.80,247.19 L346.30,247.81 L346.80,248.42 L347.30,249.04 L347.80,249.66 L348.30,250.29 L348.80,250.92 L349.30,251.57 L349.80,252.23 L350.30,252.90 L350.80,253.59 L351.30,254.29 L351.80,255.00 L352.30,255.71 L352.80,256.44 L353.30,257.16 L353.80,257.89 L354.30,258.62 L354.80,259.35 L355.30,260.08 L355.80,260.82 L356.30,261.56 L356.80,262.31 L357.30,263.06 L357.80,263.81 L358.30,264.55 L358.80,265.29 L359.30,266.01 L359.80,266.72 L360.30,267.42 L360.80,268.11 L361.30,268.80 L361.80,269.49 L362.30,270.18 L362.80,270.87 L363.30,271.55 L363.80,272.22 L364.30,272.89 L364.80,273.56 L365.30,274.22 L365.80,274.87 L366.30,275.52 L366.80,276.15 L367.30,276.78 L367.80,277.40 L368.30,278.01 L368.80,278.61 L369.30,279.20 L369.80,279.77 L370.30,280.34 L370.80,280.88 L371.30,281.42 L371.80,281.94 L372.30,282.45 L372.80,282.95 L373.30,283.45 L373.80,283.94 L374.30,284.43 L374.80,284.92 L375.30,285.41 L375.80,285.90 L376.30,286.40 L376.80,286.90 L377.30,287.42 L377.80,287.94 L378.30,288.47 L378.80,289.00 L379.30,289.53 L379.80,290.05 L380.30,290.57 L380.80,291.07 L381.30,291.56 L381.80,292.04 L382.30,292.50 L382.80,292.93 L383.30,293.35 L383.80,293.75 L384.30,294.15 L384.80,294.54 L385.30,294.93 L385.80,295.30 L386.30,295.67 L386.80,296.03 L387.30,296.39 L387.80,296.73 L388.30,297.07 L388.80,297.40 L389.30,297.72 L389.80,298.04 L390.30,298.34 L390.80,298.64 L391.30,298.92 L391.80,299.20 L392.30,299.47 L392.80,299.74 L393.30,300.00 L393.80,300.26 L394.30,300.52 L394.80,300.77 L395.30,301.02 L395.80,301.26 L396.30,301.50 L396.80,301.73 L397.30,301.96 L397.80,302.18 L398.30,302.40 L398.80,302.61 L399.30,302.82 L399.80,303.02 L400.30,303.21 L400.80,303.39 L401.30,303.57 L401.80,303.74 L402.30,303.91 L402.80,304.06 L403.30,304.21 L403.80,304.36 L404.30,304.50 L404.80,304.64 L405.30,304.78 L405.80,304.91 L406.30,305.04 L406.80,305.17 L407.30,305.29 L407.80,305.41 L408.30,305.52 L408.80,305.64 L409.30,305.75 L409.80,305.86 L410.30,305.96 L410.80,306.07 L411.30,306.17 L411.80,306.27 L412.30,306.37 L412.80,306.47 L413.30,306.56 L413.80,306.66 L414.30,306.75 L414.80,306.84 L415.30,306.93 L415.80,307.02 L416.30,307.11 L416.80,307.19 L417.30,307.28 L417.80,307.36 L418.30,307.44 L418.80,307.52 L419.30,307.60 L419.80,307.67 L420.30,307.75 L420.80,307.82 L421.30,307.89 L421.80,307.96 L422.30,308.03 L422.80,308.10 L423.30,308.16 L423.80,308.23 L424.30,308.29 L424.80,308.35 L425.30,308.41 L425.80,308.47 L426.30,308.52 L426.80,308.58 L427.30,308.63 L427.80,308.69 L428.30,308.74 L428.80,308.79 L429.30,308.85 L429.80,308.90 L430.30,308.95 L430.80,309.00 L431.30,309.05 L431.80,309.09 L432.30,309.14 L432.80,309.19 L433.30,309.24 L433.80,309.28 L434.30,309.33 L434.80,309.37 L435.30,309.41 L435.80,309.46 L436.30,309.50 L436.80,309.54 L437.30,309.58 L437.80,309.62 L438.30,309.66 L438.80,309.71 L439.30,309.74 L439.80,309.78 L440.30,309.82 L440.80,309.86 L441.30,309.90 L441.80,309.94 L442.30,309.98 L442.80,310.01 L443.30,310.05 L443.80,310.08 L444.30,310.12 L444.80,310.15 L445.30,310.19 L445.80,310.22 L446.30,310.26 L446.80,310.29 L447.30,310.32 L447.80,310.35 L448.30,310.39 L448.80,310.42 L449.30,310.45 L449.80,310.48 L450.30,310.51 L450.80,310.53 L451.30,310.56 L451.30,310.60 Z" fill="#ff78b4"/>
<path d="M331.80,310.60 L331.80,310.60 L332.30,310.53 L332.80,310.31 L333.30,309.99 L333.80,309.49 L334.30,308.83 L334.80,308.06 L335.30,307.22 L335.80,306.35 L336.30,305.47 L336.80,304.49 L337.30,303.41 L337.80,302.21 L338.30,300.88 L338.80,299.36 L339.30,297.69 L339.80,295.89 L340.30,293.99 L340.80,292.02 L341.30,290.00 L341.80,287.83 L342.30,285.46 L342.80,283.00 L343.30,280.57 L343.80,278.30 L344.30,276.09 L344.80,273.85 L345.30,271.71 L345.80,269.82 L346.30,268.30 L346.80,267.04 L347.30,265.87 L347.80,264.79 L348.30,263.84 L348.80,263.03 L349.30,262.38 L349.80,261.92 L350.30,261.53 L350.80,261.17 L351.30,260.85 L351.80,260.59 L352.30,260.40 L352.80,260.31 L353.30,260.32 L353.80,260.42 L354.30,260.61 L354.80,260.87 L355.30,261.19 L355.80,261.54 L356.30,261.93 L356.80,262.34 L357.30,262.75 L357.80,263.15 L358.30,263.54 L358.80,263.97 L359.30,264.43 L359.80,264.94 L360.30,265.46 L360.80,266.01 L361.30,266.57 L361.80,267.14 L362.30,267.71 L362.80,268.28 L363.30,268.84 L363.80,269.42 L364.30,270.03 L364.80,270.64 L365.30,271.27 L365.80,271.89 L366.30,272.51 L366.80,273.12 L367.30,273.71 L367.80,274.28 L368.30,274.82 L368.80,275.34 L369.30,275.85 L369.80,276.35 L370.30,276.84 L370.80,277.32 L371.30,277.81 L371.80,278.30 L372.30,278.80 L372.80,279.29 L373.30,279.78 L373.80,280.27 L374.30,280.76 L374.80,281.26 L375.30,281.76 L375.80,282.27 L376.30,282.79 L376.80,283.32 L377.30,283.88 L377.80,284.46 L378.30,285.06 L378.80,285.66 L379.30,286.27 L379.80,286.88 L380.30,287.49 L380.80,288.09 L381.30,288.67 L381.80,289.24 L382.30,289.78 L382.80,290.30 L383.30,290.79 L383.80,291.28 L384.30,291.76 L384.80,292.24 L385.30,292.71 L385.80,293.18 L386.30,293.64 L386.80,294.09 L387.30,294.53 L387.80,294.96 L388.30,295.38 L388.80,295.78 L389.30,296.17 L389.80,296.55 L390.30,296.91 L390.80,297.26 L391.30,297.59 L391.80,297.90 L392.30,298.20 L392.80,298.49 L393.30,298.77 L393.80,299.04 L394.30,299.31 L394.80,299.57 L395.30,299.82 L395.80,300.06 L396.30,300.30 L396.80,300.54 L397.30,300.76 L397.80,300.99 L398.30,301.20 L398.80,301.42 L399.30,301.62 L399.80,301.83 L400.30,302.03 L400.80,302.22 L401.30,302.41 L401.80,302.60 L402.30,302.79 L402.80,302.97 L403.30,303.15 L403.80,303.33 L404.30,303.51 L404.80,303.69 L405.30,303.86 L405.80,304.03 L406.30,304.20 L406.80,304.36 L407.30,304.52 L407.80,304.68 L408.30,304.83 L408.80,304.99 L409.30,305.13 L409.80,305.28 L410.30,305.42 L410.80,305.55 L411.30,305.68 L411.80,305.81 L412.30,305.93 L412.80,306.05 L413.30,306.16 L413.80,306.26 L414.30,306.37 L414.80,306.47 L415.30,306.57 L415.80,306.66 L416.30,306.76 L416.80,306.85 L417.30,306.94 L417.80,307.02 L418.30,307.11 L418.80,307.19 L419.30,307.27 L419.80,307.35 L420.30,307.43 L420.80,307.50 L421.30,307.58 L421.80,307.65 L422.30,307.72 L422.80,307.79 L423.30,307.86 L423.80,307.92 L424.30,307.99 L424.80,308.05 L425.30,308.11 L425.80,308.17 L426.30,308.23 L426.80,308.29 L427.30,308.35 L427.80,308.41 L428.30,308.46 L428.80,308.52 L429.30,308.57 L429.80,308.63 L430.30,308.68 L430.80,308.73 L431.30,308.78 L431.80,308.83 L432.30,308.88 L432.80,308.93 L433.30,308.98 L433.80,309.03 L434.30,309.07 L434.80,309.12 L435.30,309.17 L435.80,309.22 L436.30,309.26 L436.80,309.31 L437.30,309.35 L437.80,309.40 L438.30,309.44 L438.80,309.49 L439.30,309.54 L439.80,309.58 L440.30,309.63 L440.80,309.67 L441.30,309.72 L441.80,309.76 L442.30,309.81 L442.80,309.85 L443.30,309.89 L443.80,309.94 L444.30,309.98 L444.80,310.02 L445.30,310.07 L445.80,310.11 L446.30,310.15 L446.80,310.19 L447.30,310.23 L447.80,310.27 L448.30,310.31 L448.80,310.35 L449.30,310.39 L449.80,310.43 L450.30,310.47 L450.80,310.51 L451.30,310.55 L451.80,310.58 L451.80,310.60 Z" fill="#96eb8c"/>
<path d="M358.80,310.60 L358.80,310.59 L359.30,310.43 L359.80,310.12 L360.30,309.34 L360.80,308.08 L361.30,306.60 L361.80,305.04 L362.30,303.15 L362.80,300.95 L363.30,298.41 L363.80,295.33 L364.30,292.00 L364.80,288.45 L365.30,284.74 L365.80,281.10 L366.30,277.28 L366.80,273.82 L367.30,271.28 L367.80,269.30 L368.30,267.56 L368.80,266.09 L369.30,264.92 L369.80,264.05 L370.30,263.35 L370.80,262.76 L371.30,262.31 L371.80,262.00 L372.30,261.78 L372.80,261.60 L373.30,261.46 L373.80,261.40 L374.30,261.46 L374.80,261.67 L375.30,261.98 L375.80,262.35 L376.30,262.77 L376.80,263.38 L377.30,264.14 L377.80,264.98 L378.30,265.84 L378.80,266.66 L379.30,267.48 L379.80,268.33 L380.30,269.20 L380.80,270.09 L381.30,271.00 L381.80,271.91 L382.30,272.82 L382.80,273.74 L383.30,274.64 L383.80,275.53 L384.30,276.40 L384.80,277.25 L385.30,278.06 L385.80,278.86 L386.30,279.65 L386.80,280.44 L387.30,281.22 L387.80,281.99 L388.30,282.75 L388.80,283.50 L389.30,284.23 L389.80,284.95 L390.30,285.66 L390.80,286.36 L391.30,287.04 L391.80,287.70 L392.30,288.35 L392.80,288.99 L393.30,289.63 L393.80,290.26 L394.30,290.87 L394.80,291.48 L395.30,292.07 L395.80,292.65 L396.30,293.21 L396.80,293.76 L397.30,294.29 L397.80,294.80 L398.30,295.30 L398.80,295.78 L399.30,296.26 L399.80,296.72 L400.30,297.18 L400.80,297.63 L401.30,298.06 L401.80,298.48 L402.30,298.89 L402.80,299.28 L403.30,299.66 L403.80,300.03 L404.30,300.37 L404.80,300.70 L405.30,301.02 L405.80,301.32 L406.30,301.63 L406.80,301.92 L407.30,302.21 L407.80,302.49 L408.30,302.77 L408.80,303.04 L409.30,303.29 L409.80,303.54 L410.30,303.78 L410.80,304.02 L411.30,304.24 L411.80,304.45 L412.30,304.66 L412.80,304.85 L413.30,305.03 L413.80,305.20 L414.30,305.37 L414.80,305.53 L415.30,305.69 L415.80,305.85 L416.30,306.00 L416.80,306.14 L417.30,306.29 L417.80,306.42 L418.30,306.56 L418.80,306.69 L419.30,306.81 L419.80,306.94 L420.30,307.06 L420.80,307.17 L421.30,307.28 L421.80,307.39 L422.30,307.50 L422.80,307.60 L423.30,307.70 L423.80,307.79 L424.30,307.88 L424.80,307.97 L425.30,308.06 L425.80,308.14 L426.30,308.22 L426.80,308.30 L427.30,308.37 L427.80,308.45 L428.30,308.52 L428.80,308.59 L429.30,308.65 L429.80,308.72 L430.30,308.78 L430.80,308.85 L431.30,308.91 L431.80,308.97 L432.30,309.03 L432.80,309.10 L433.30,309.16 L433.80,309.22 L434.30,309.28 L434.80,309.34 L435.30,309.40 L435.80,309.46 L436.30,309.52 L436.80,309.58 L437.30,309.64 L437.80,309.70 L438.30,309.76 L438.80,309.82 L439.30,309.88 L439.80,309.94 L440.30,309.99 L440.80,310.05 L441.30,310.10 L441.80,310.16 L442.30,310.21 L442.80,310.27 L443.30,310.32 L443.80,310.37 L444.30,310.43 L444.80,310.48 L445.30,310.53 L445.80,310.58 L445.80,310.60 Z" fill="#8c96f5"/>
<path d="M331.80,310.60 L331.80,310.60 L332.30,310.53 L332.80,310.31 L333.30,309.99 L333.80,309.49 L334.30,308.83 L334.80,308.06 L335.30,307.22 L335.80,306.35 L336.30,305.47 L336.80,304.49 L337.30,303.41 L337.80,302.21 L338.30,300.88 L338.80,299.36 L339.30,297.69 L339.80,295.89 L340.30,293.99 L340.80,292.02 L341.30,290.00 L341.80,287.83 L342.30,285.46 L342.80,283.00 L343.30,280.57 L343.80,278.30 L344.30,276.09 L344.80,273.85 L345.30,271.71 L345.80,269.82 L346.30,268.30 L346.80,267.04 L347.30,265.87 L347.80,264.79 L348.30,263.84 L348.80,263.03 L349.30,262.38 L349.80,261.92 L350.30,261.53 L350.80,261.17 L351.30,260.85 L351.80,260.59 L352.30,260.40 L352.80,260.31 L353.30,260.32 L353.80,260.42 L354.30,260.61 L354.80,260.87 L355.30,261.19 L355.80,261.54 L356.30,261.93 L356.80,262.34 L357.30,263.06 L357.80,263.81 L358.30,264.55 L358.80,265.29 L359.30,266.01 L359.80,266.72 L360.30,267.42 L360.80,268.11 L361.30,268.80 L361.80,269.49 L362.30,270.18 L362.80,270.87 L363.30,271.55 L363.80,272.22 L364.30,272.89 L364.80,273.56 L365.30,274.22 L365.80,274.87 L366.30,275.52 L366.80,276.15 L367.30,276.78 L367.80,277.40 L368.30,278.01 L368.80,278.61 L369.30,279.20 L369.80,279.77 L370.30,280.34 L370.80,280.88 L371.30,281.42 L371.80,281.94 L372.30,282.45 L372.80,282.95 L373.30,283.45 L373.80,283.94 L374.30,284.43 L374.80,284.92 L375.30,285.41 L375.80,285.90 L376.30,286.40 L376.80,286.90 L377.30,287.42 L377.80,287.94 L378.30,288.47 L378.80,289.00 L379.30,289.53 L379.80,290.05 L380.30,290.57 L380.80,291.07 L381.30,291.56 L381.80,292.04 L382.30,292.50 L382.80,292.93 L383.30,293.35 L383.80,293.75 L384.30,294.15 L384.80,294.54 L385.30,294.93 L385.80,295.30 L386.30,295.67 L386.80,296.03 L387.30,296.39 L387.80,296.73 L388.30,297.07 L388.80,297.40 L389.30,297.72 L389.80,298.04 L390.30,298.34 L390.80,298.64 L391.30,298.92 L391.80,299.20 L392.30,299.47 L392.80,299.74 L393.30,300.00 L393.80,300.26 L394.30,300.52 L394.80,300.77 L395.30,301.02 L395.80,301.26 L396.30,301.50 L396.80,301.73 L397.30,301.96 L397.80,302.18 L398.30,302.40 L398.80,302.61 L399.30,302.82 L399.80,303.02 L400.30,303.21 L400.80,303.39 L401.30,303.57 L401.80,303.74 L402.30,303.91 L402.80,304.06 L403.30,304.21 L403.80,304.36 L404.30,304.50 L404.80,304.64 L405.30,304.78 L405.80,304.91 L406.30,305.04 L406.80,305.17 L407.30,305.29 L407.80,305.41 L408.30,305.52 L408.80,305.64 L409.30,305.75 L409.80,305.86 L410.30,305.96 L410.80,306.07 L411.30,306.17 L411.80,306.27 L412.30,306.37 L412.80,306.47 L413.30,306.56 L413.80,306.66 L414.30,306.75 L414.80,306.84 L415.30,306.93 L415.80,307.02 L416.30,307.11 L416.80,307.19 L417.30,307.28 L417.80,307.36 L418.30,307.44 L418.80,307.52 L419.30,307.60 L419.80,307.67 L420.30,307.75 L420.80,307.82 L421.30,307.89 L421.80,307.96 L422.30,308.03 L422.80,308.10 L423.30,308.16 L423.80,308.23 L424.30,308.29 L424.80,308.35 L425.30,308.41 L425.80,308.47 L426.30,308.52 L426.80,308.58 L427.30,308.63 L427.80,308.69 L428.30,308.74 L428.80,308.79 L429.30,308.85 L429.80,308.90 L430.30,308.95 L430.80,309.00 L431.30,309.05 L431.80,309.09 L432.30,309.14 L432.80,309.19 L433.30,309.24 L433.80,309.28 L434.30,309.33 L434.80,309.37 L435.30,309.41 L435.80,309.46 L436.30,309.50 L436.80,309.54 L437.30,309.58 L437.80,309.62 L438.30,309.66 L438.80,309.71 L439.30,309.74 L439.80,309.78 L440.30,309.82 L440.80,309.86 L441.30,309.90 L441.80,309.94 L442.30,309.98 L442.80,310.01 L443.30,310.05 L443.80,310.08 L444.30,310.12 L444.80,310.15 L445.30,310.19 L445.80,310.22 L446.30,310.26 L446.80,310.29 L447.30,310.32 L447.80,310.35 L448.30,310.39 L448.80,310.42 L449.30,310.45 L449.80,310.48 L450.30,310.51 L450.80,310.53 L451.30,310.56 L451.30,310.60 Z" fill="#a57d55"/>
<path d="M331.80,310.60 L331.80,310.60 L332.30,310.53 L332.80,310.31 L333.30,309.99 L333.80,309.49 L334.30,308.83 L334.80,308.06 L335.30,307.22 L335.80,306.35 L336.30,305.47 L336.80,304.49 L337.30,303.41 L337.80,302.21 L338.30,300.88 L338.80,299.36 L339.30,297.69 L339.80,295.89 L340.30,293.99 L340.80,292.02 L341.30,290.00 L341.80,287.83 L342.30,285.46 L342.80,283.00 L343.30,280.57 L343.80,278.30 L344.30,276.09 L344.80,273.85 L345.30,271.71 L345.80,269.82 L346.30,268.30 L346.80,267.04 L347.30,265.87 L347.80,264.79 L348.30,263.84 L348.80,263.03 L349.30,262.38 L349.80,261.92 L350.30,261.53 L350.80,261.17 L351.30,260.85 L351.80,260.59 L352.30,260.40 L352.80,260.31 L353.30,260.32 L353.80,260.42 L354.30,260.61 L354.80,260.87 L355.30,261.19 L355.80,261.54 L356.30,261.93 L356.80,262.34 L357.30,263.06 L357.80,263.81 L358.30,264.55 L358.80,265.29 L359.30,266.01 L359.80,266.72 L360.30,267.42 L360.80,268.11 L361.30,268.80 L361.80,269.49 L362.30,270.18 L362.80,270.87 L363.30,271.55 L363.80,272.22 L364.30,272.89 L364.80,273.56 L365.30,274.22 L365.80,274.87 L366.30,275.52 L366.80,276.15 L367.30,276.78 L367.80,277.40 L368.30,278.01 L368.80,278.61 L369.30,279.20 L369.80,279.77 L370.30,280.34 L370.80,280.88 L371.30,281.42 L371.80,281.94 L372.30,282.45 L372.80,282.95 L373.30,283.45 L373.80,283.94 L374.30,284.43 L374.80,284.92 L375.30,285.41 L375.80,285.90 L376.30,286.40 L376.80,286.90 L377.30,287.42 L377.80,287.94 L378.30,288.47 L378.80,289.00 L379.30,289.53 L379.80,290.05 L380.30,290.57 L380.80,291.07 L381.30,291.56 L381.80,292.04 L382.30,292.50 L382.80,292.93 L383.30,293.35 L383.80,293.75 L384.30,294.15 L384.80,294.54 L385.30,294.93 L385.80,295.30 L386.30,295.67 L386.80,296.03 L387.30,296.39 L387.80,296.73 L388.30,297.07 L388.80,297.40 L389.30,297.72 L389.80,298.04 L390.30,298.34 L390.80,298.64 L391.30,298.92 L391.80,299.20 L392.30,299.47 L392.80,299.74 L393.30,300.00 L393.80,300.26 L394.30,300.52 L394.80,300.77 L395.30,301.02 L395.80,301.26 L396.30,301.50 L396.80,301.73 L397.30,301.96 L397.80,302.18 L398.30,302.40 L398.80,302.61 L399.30,302.82 L399.80,303.02 L400.30,303.21 L400.80,303.39 L401.30,303.57 L401.80,303.74 L402.30,303.91 L402.80,304.06 L403.30,304.21 L403.80,304.36 L404.30,304.50 L404.80,304.64 L405.30,304.78 L405.80,304.91 L406.30,305.04 L406.80,305.17 L407.30,305.29 L407.80,305.41 L408.30,305.52 L408.80,305.64 L409.30,305.75 L409.80,305.86 L410.30,305.96 L410.80,306.07 L411.30,306.17 L411.80,306.27 L412.30,306.37 L412.80,306.47 L413.30,306.56 L413.80,306.66 L414.30,306.75 L414.80,306.84 L415.30,306.93 L415.80,307.02 L416.30,307.11 L416.80,307.19 L417.30,307.28 L417.80,307.36 L418.30,307.44 L418.80,307.52 L419.30,307.60 L419.80,307.67 L420.30,307.75 L420.80,307.82 L421.30,307.89 L421.80,307.96 L422.30,308.03 L422.80,308.10 L423.30,308.16 L423.80,308.23 L424.30,308.29 L424.80,308.35 L425.30,308.41 L425.80,308.47 L426.30,308.52 L426.80,308.58 L427.30,308.63 L427.80,308.69 L428.30,308.74 L428.80,308.79 L429.30,308.85 L429.80,308.90 L430.30,308.95 L430.80,309.00 L431.30,309.05 L431.80,309.09 L432.30,309.14 L432.80,309.19 L433.30,309.24 L433.80,309.28 L434.30,309.33 L434.80,309.37 L435.30,309.41 L435.80,309.46 L436.30,309.50 L436.80,309.54 L437.30,309.58 L437.80,309.62 L438.30,309.66 L438.80,309.71 L439.30,309.74 L439.80,309.78 L440.30,309.82 L440.80,309.86 L441.30,309.90 L441.80,309.94 L442.30,309.98 L442.80,310.01 L443.30,310.05 L443.80,310.08 L444.30,310.12 L444.80,310.15 L445.30,310.19 L445.80,310.22 L446.30,310.26 L446.80,310.29 L447.30,310.32 L447.80,310.35 L448.30,310.39 L448.80,310.42 L449.30,310.45 L449.80,310.48 L450.30,310.51 L450.80,310.53 L451.30,310.56 L451.30,310.60 Z" fill="url(#dW)"/>
<path d="M358.80,310.60 L358.80,310.59 L359.30,310.43 L359.80,310.12 L360.30,309.34 L360.80,308.08 L361.30,306.60 L361.80,305.04 L362.30,303.15 L362.80,300.95 L363.30,298.41 L363.80,295.33 L364.30,292.00 L364.80,288.45 L365.30,284.74 L365.80,281.10 L366.30,277.28 L366.80,273.82 L367.30,273.71 L367.80,274.28 L368.30,274.82 L368.80,275.34 L369.30,275.85 L369.80,276.35 L370.30,276.84 L370.80,277.32 L371.30,277.81 L371.80,278.30 L372.30,278.80 L372.80,279.29 L373.30,279.78 L373.80,280.27 L374.30,280.76 L374.80,281.26 L375.30,281.76 L375.80,282.27 L376.30,282.79 L376.80,283.32 L377.30,283.88 L377.80,284.46 L378.30,285.06 L378.80,285.66 L379.30,286.27 L379.80,286.88 L380.30,287.49 L380.80,288.09 L381.30,288.67 L381.80,289.24 L382.30,289.78 L382.80,290.30 L383.30,290.79 L383.80,291.28 L384.30,291.76 L384.80,292.24 L385.30,292.71 L385.80,293.18 L386.30,293.64 L386.80,294.09 L387.30,294.53 L387.80,294.96 L388.30,295.38 L388.80,295.78 L389.30,296.17 L389.80,296.55 L390.30,296.91 L390.80,297.26 L391.30,297.59 L391.80,297.90 L392.30,298.20 L392.80,298.49 L393.30,298.77 L393.80,299.04 L394.30,299.31 L394.80,299.57 L395.30,299.82 L395.80,300.06 L396.30,300.30 L396.80,300.54 L397.30,300.76 L397.80,300.99 L398.30,301.20 L398.80,301.42 L399.30,301.62 L399.80,301.83 L400.30,302.03 L400.80,302.22 L401.30,302.41 L401.80,302.60 L402.30,302.79 L402.80,302.97 L403.30,303.15 L403.80,303.33 L404.30,303.51 L404.80,303.69 L405.30,303.86 L405.80,304.03 L406.30,304.20 L406.80,304.36 L407.30,304.52 L407.80,304.68 L408.30,304.83 L408.80,304.99 L409.30,305.13 L409.80,305.28 L410.30,305.42 L410.80,305.55 L411.30,305.68 L411.80,305.81 L412.30,305.93 L412.80,306.05 L413.30,306.16 L413.80,306.26 L414.30,306.37 L414.80,306.47 L415.30,306.57 L415.80,306.66 L416.30,306.76 L416.80,306.85 L417.30,306.94 L417.80,307.02 L418.30,307.11 L418.80,307.19 L419.30,307.27 L419.80,307.35 L420.30,307.43 L420.80,307.50 L421.30,307.58 L421.80,307.65 L422.30,307.72 L422.80,307.79 L423.30,307.86 L423.80,307.92 L424.30,307.99 L424.80,308.05 L425.30,308.11 L425.80,308.17 L426.30,308.23 L426.80,308.30 L427.30,308.37 L427.80,308.45 L428.30,308.52 L428.80,308.59 L429.30,308.65 L429.80,308.72 L430.30,308.78 L430.80,308.85 L431.30,308.91 L431.80,308.97 L432.30,309.03 L432.80,309.10 L433.30,309.16 L433.80,309.22 L434.30,309.28 L434.80,309.34 L435.30,309.40 L435.80,309.46 L436.30,309.52 L436.80,309.58 L437.30,309.64 L437.80,309.70 L438.30,309.76 L438.80,309.82 L439.30,309.88 L439.80,309.94 L440.30,309.99 L440.80,310.05 L441.30,310.10 L441.80,310.16 L442.30,310.21 L442.80,310.27 L443.30,310.32 L443.80,310.37 L444.30,310.43 L444.80,310.48 L445.30,310.53 L445.80,310.58 L445.80,310.60 Z" fill="#4b96aa"/>
<path d="M358.80,310.60 L358.80,310.59 L359.30,310.43 L359.80,310.12 L360.30,309.34 L360.80,308.08 L361.30,306.60 L361.80,305.04 L362.30,303.15 L362.80,300.95 L363.30,298.41 L363.80,295.33 L364.30,292.00 L364.80,288.45 L365.30,284.74 L365.80,281.10 L366.30,277.28 L366.80,276.15 L367.30,276.78 L367.80,277.40 L368.30,278.01 L368.80,278.61 L369.30,279.20 L369.80,279.77 L370.30,280.34 L370.80,280.88 L371.30,281.42 L371.80,281.94 L372.30,282.45 L372.80,282.95 L373.30,283.45 L373.80,283.94 L374.30,284.43 L374.80,284.92 L375.30,285.41 L375.80,285.90 L376.30,286.40 L376.80,286.90 L377.30,287.42 L377.80,287.94 L378.30,288.47 L378.80,289.00 L379.30,289.53 L379.80,290.05 L380.30,290.57 L380.80,291.07 L381.30,291.56 L381.80,292.04 L382.30,292.50 L382.80,292.93 L383.30,293.35 L383.80,293.75 L384.30,294.15 L384.80,294.54 L385.30,294.93 L385.80,295.30 L386.30,295.67 L386.80,296.03 L387.30,296.39 L387.80,296.73 L388.30,297.07 L388.80,297.40 L389.30,297.72 L389.80,298.04 L390.30,298.34 L390.80,298.64 L391.30,298.92 L391.80,299.20 L392.30,299.47 L392.80,299.74 L393.30,300.00 L393.80,300.26 L394.30,300.52 L394.80,300.77 L395.30,301.02 L395.80,301.26 L396.30,301.50 L396.80,301.73 L397.30,301.96 L397.80,302.18 L398.30,302.40 L398.80,302.61 L399.30,302.82 L399.80,303.02 L400.30,303.21 L400.80,303.39 L401.30,303.57 L401.80,303.74 L402.30,303.91 L402.80,304.06 L403.30,304.21 L403.80,304.36 L404.30,304.50 L404.80,304.64 L405.30,304.78 L405.80,304.91 L406.30,305.04 L406.80,305.17 L407.30,305.29 L407.80,305.41 L408.30,305.52 L408.80,305.64 L409.30,305.75 L409.80,305.86 L410.30,305.96 L410.80,306.07 L411.30,306.17 L411.80,306.27 L412.30,306.37 L412.80,306.47 L413.30,306.56 L413.80,306.66 L414.30,306.75 L414.80,306.84 L415.30,306.93 L415.80,307.02 L416.30,307.11 L416.80,307.19 L417.30,307.28 L417.80,307.36 L418.30,307.44 L418.80,307.52 L419.30,307.60 L419.80,307.67 L420.30,307.75 L420.80,307.82 L421.30,307.89 L421.80,307.96 L422.30,308.03 L422.80,308.10 L423.30,308.16 L423.80,308.23 L424.30,308.29 L424.80,308.35 L425.30,308.41 L425.80,308.47 L426.30,308.52 L426.80,308.58 L427.30,308.63 L427.80,308.69 L428.30,308.74 L428.80,308.79 L429.30,308.85 L429.80,308.90 L430.30,308.95 L430.80,309.00 L431.30,309.05 L431.80,309.09 L432.30,309.14 L432.80,309.19 L433.30,309.24 L433.80,309.28 L434.30,309.33 L434.80,309.37 L435.30,309.41 L435.80,309.46 L436.30,309.52 L436.80,309.58 L437.30,309.64 L437.80,309.70 L438.30,309.76 L438.80,309.82 L439.30,309.88 L439.80,309.94 L440.30,309.99 L440.80,310.05 L441.30,310.10 L441.80,310.16 L442.30,310.21 L442.80,310.27 L443.30,310.32 L443.80,310.37 L444.30,310.43 L444.80,310.48 L445.30,310.53 L445.80,310.58 L445.80,310.60 Z" fill="#37467f"/>
<path d="M358.80,310.60 L358.80,310.59 L359.30,310.43 L359.80,310.12 L360.30,309.34 L360.80,308.08 L361.30,306.60 L361.80,305.04 L362.30,303.15 L362.80,300.95 L363.30,298.41 L363.80,295.33 L364.30,292.00 L364.80,288.45 L365.30,284.74 L365.80,281.10 L366.30,277.28 L366.80,276.15 L367.30,276.78 L367.80,277.40 L368.30,278.01 L368.80,278.61 L369.30,279.20 L369.80,279.77 L370.30,280.34 L370.80,280.88 L371.30,281.42 L371.80,281.94 L372.30,282.45 L372.80,282.95 L373.30,283.45 L373.80,283.94 L374.30,284.43 L374.80,284.92 L375.30,285.41 L375.80,285.90 L376.30,286.40 L376.80,286.90 L377.30,287.42 L377.80,287.94 L378.30,288.47 L378.80,289.00 L379.30,289.53 L379.80,290.05 L380.30,290.57 L380.80,291.07 L381.30,291.56 L381.80,292.04 L382.30,292.50 L382.80,292.93 L383.30,293.35 L383.80,293.75 L384.30,294.15 L384.80,294.54 L385.30,294.93 L385.80,295.30 L386.30,295.67 L386.80,296.03 L387.30,296.39 L387.80,296.73 L388.30,297.07 L388.80,297.40 L389.30,297.72 L389.80,298.04 L390.30,298.34 L390.80,298.64 L391.30,298.92 L391.80,299.20 L392.30,299.47 L392.80,299.74 L393.30,300.00 L393.80,300.26 L394.30,300.52 L394.80,300.77 L395.30,301.02 L395.80,301.26 L396.30,301.50 L396.80,301.73 L397.30,301.96 L397.80,302.18 L398.30,302.40 L398.80,302.61 L399.30,302.82 L399.80,303.02 L400.30,303.21 L400.80,303.39 L401.30,303.57 L401.80,303.74 L402.30,303.91 L402.80,304.06 L403.30,304.21 L403.80,304.36 L404.30,304.50 L404.80,304.64 L405.30,304.78 L405.80,304.91 L406.30,305.04 L406.80,305.17 L407.30,305.29 L407.80,305.41 L408.30,305.52 L408.80,305.64 L409.30,305.75 L409.80,305.86 L410.30,305.96 L410.80,306.07 L411.30,306.17 L411.80,306.27 L412.30,306.37 L412.80,306.47 L413.30,306.56 L413.80,306.66 L414.30,306.75 L414.80,306.84 L415.30,306.93 L415.80,307.02 L416.30,307.11 L416.80,307.19 L417.30,307.28 L417.80,307.36 L418.30,307.44 L418.80,307.52 L419.30,307.60 L419.80,307.67 L420.30,307.75 L420.80,307.82 L421.30,307.89 L421.80,307.96 L422.30,308.03 L422.80,308.10 L423.30,308.16 L423.80,308.23 L424.30,308.29 L424.80,308.35 L425.30,308.41 L425.80,308.47 L426.30,308.52 L426.80,308.58 L427.30,308.63 L427.80,308.69 L428.30,308.74 L428.80,308.79 L429.30,308.85 L429.80,308.90 L430.30,308.95 L430.80,309.00 L431.30,309.05 L431.80,309.09 L432.30,309.14 L432.80,309.19 L433.30,309.24 L433.80,309.28 L434.30,309.33 L434.80,309.37 L435.30,309.41 L435.80,309.46 L436.30,309.52 L436.80,309.58 L437.30,309.64 L437.80,309.70 L438.30,309.76 L438.80,309.82 L439.30,309.88 L439.80,309.94 L440.30,309.99 L440.80,310.05 L441.30,310.10 L441.80,310.16 L442.30,310.21 L442.80,310.27 L443.30,310.32 L443.80,310.37 L444.30,310.43 L444.80,310.48 L445.30,310.53 L445.80,310.58 L445.80,310.60 Z" fill="#37467f"/>
<path d="M358.80,310.60 L358.80,310.59 L359.30,310.43 L359.80,310.12 L360.30,309.34 L360.80,308.08 L361.30,306.60 L361.80,305.04 L362.30,303.15 L362.80,300.95 L363.30,298.41 L363.80,295.33 L364.30,292.00 L364.80,288.45 L365.30,284.74 L365.80,281.10 L366.30,277.28 L366.80,276.15 L367.30,276.78 L367.80,277.40 L368.30,278.01 L368.80,278.61 L369.30,279.20 L369.80,279.77 L370.30,280.34 L370.80,280.88 L371.30,281.42 L371.80,281.94 L372.30,282.45 L372.80,282.95 L373.30,283.45 L373.80,283.94 L374.30,284.43 L374.80,284.92 L375.30,285.41 L375.80,285.90 L376.30,286.40 L376.80,286.90 L377.30,287.42 L377.80,287.94 L378.30,288.47 L378.80,289.00 L379.30,289.53 L379.80,290.05 L380.30,290.57 L380.80,291.07 L381.30,291.56 L381.80,292.04 L382.30,292.50 L382.80,292.93 L383.30,293.35 L383.80,293.75 L384.30,294.15 L384.80,294.54 L385.30,294.93 L385.80,295.30 L386.30,295.67 L386.80,296.03 L387.30,296.39 L387.80,296.73 L388.30,297.07 L388.80,297.40 L389.30,297.72 L389.80,298.04 L390.30,298.34 L390.80,298.64 L391.30,298.92 L391.80,299.20 L392.30,299.47 L392.80,299.74 L393.30,300.00 L393.80,300.26 L394.30,300.52 L394.80,300.77 L395.30,301.02 L395.80,301.26 L396.30,301.50 L396.80,301.73 L397.30,301.96 L397.80,302.18 L398.30,302.40 L398.80,302.61 L399.30,302.82 L399.80,303.02 L400.30,303.21 L400.80,303.39 L401.30,303.57 L401.80,303.74 L402.30,303.91 L402.80,304.06 L403.30,304.21 L403.80,304.36 L404.30,304.50 L404.80,304.64 L405.30,304.78 L405.80,304.91 L406.30,305.04 L406.80,305.17 L407.30,305.29 L407.80,305.41 L408.30,305.52 L408.80,305.64 L409.30,305.75 L409.80,305.86 L410.30,305.96 L410.80,306.07 L411.30,306.17 L411.80,306.27 L412.30,306.37 L412.80,306.47 L413.30,306.56 L413.80,306.66 L414.30,306.75 L414.80,306.84 L415.30,306.93 L415.80,307.02 L416.30,307.11 L416.80,307.19 L417.30,307.28 L417.80,307.36 L418.30,307.44 L418.80,307.52 L419.30,307.60 L419.80,307.67 L420.30,307.75 L420.80,307.82 L421.30,307.89 L421.80,307.96 L422.30,308.03 L422.80,308.10 L423.30,308.16 L423.80,308.23 L424.30,308.29 L424.80,308.35 L425.30,308.41 L425.80,308.47 L426.30,308.52 L426.80,308.58 L427.30,308.63 L427.80,308.69 L428.30,308.74 L428.80,308.79 L429.30,308.85 L429.80,308.90 L430.30,308.95 L430.80,309.00 L431.30,309.05 L431.80,309.09 L432.30,309.14 L432.80,309.19 L433.30,309.24 L433.80,309.28 L434.30,309.33 L434.80,309.37 L435.30,309.41 L435.80,309.46 L436.30,309.52 L436.80,309.58 L437.30,309.64 L437.80,309.70 L438.30,309.76 L438.80,309.82 L439.30,309.88 L439.80,309.94 L440.30,309.99 L440.80,310.05 L441.30,310.10 L441.80,310.16 L442.30,310.21 L442.80,310.27 L443.30,310.32 L443.80,310.37 L444.30,310.43 L444.80,310.48 L445.30,310.53 L445.80,310.58 L445.80,310.60 Z" fill="url(#dB)"/>
<path d="M261.30,310.00 L261.80,310.00 L262.30,310.00 L262.80,310.00 L263.30,310.00 L263.80,310.00 L264.30,310.00 L264.80,309.99 L265.30,309.99 L265.80,309.99 L266.30,309.99 L266.80,309.98 L267.30,309.98 L267.80,309.98 L268.30,309.97 L268.80,309.97 L269.30,309.96 L269.80,309.96 L270.30,309.95 L270.80,309.95 L271.30,309.94 L271.80,309.94 L272.30,309.93 L272.80,309.92 L273.30,309.92 L273.80,309.91 L274.30,309.90 L274.80,309.89 L275.30,309.88 L275.80,309.87 L276.30,309.87 L276.80,309.86 L277.30,309.85 L277.80,309.83 L278.30,309.82 L278.80,309.81 L279.30,309.80 L279.80,309.79 L280.30,309.78 L280.80,309.76 L281.30,309.75 L281.80,309.74 L282.30,309.72 L282.80,309.71 L283.30,309.69 L283.80,309.65 L284.30,309.60 L284.80,309.53 L285.30,309.44 L285.80,309.34 L286.30,309.22 L286.80,309.10 L287.30,308.95 L287.80,308.80 L288.30,308.64 L288.80,308.47 L289.30,308.29 L289.80,308.10 L290.30,307.90 L290.80,307.70 L291.30,307.50 L291.80,307.27 L292.30,306.99 L292.80,306.67 L293.30,306.32 L293.80,305.92 L294.30,305.50 L294.80,305.05 L295.30,304.57 L295.80,304.07 L296.30,303.55 L296.80,303.02 L297.30,302.47 L297.80,301.92 L298.30,301.36 L298.80,300.74 L299.30,300.08 L299.80,299.37 L300.30,298.63 L300.80,297.86 L301.30,297.06 L301.80,296.23 L302.30,295.39 L302.80,294.54 L303.30,293.68 L303.80,292.79 L304.30,291.86 L304.80,290.90 L305.30,289.92 L305.80,288.91 L306.30,287.87 L306.80,286.82 L307.30,285.74 L307.80,284.64 L308.30,283.53 L308.80,282.37 L309.30,281.17 L309.80,279.94 L310.30,278.69 L310.80,277.41 L311.30,276.12 L311.80,274.82 L312.30,273.52 L312.80,272.22 L313.30,270.91 L313.80,269.57 L314.30,268.19 L314.80,266.79 L315.30,265.39 L315.80,263.99 L316.30,262.62 L316.80,261.28 L317.30,259.99 L317.80,258.77 L318.30,257.62 L318.80,256.54 L319.30,255.50 L319.80,254.50 L320.30,253.50 L320.80,252.50 L321.30,251.48 L321.80,250.43 L322.30,249.39 L322.80,248.35 L323.30,247.34 L323.80,246.35 L324.30,245.42 L324.80,244.53 L325.30,243.71 L325.80,242.90 L326.30,242.12 L326.80,241.36 L327.30,240.64 L327.80,239.95 L328.30,239.32 L328.80,238.73 L329.30,238.20 L329.80,237.74 L330.30,237.32 L330.80,236.95 L331.30,236.59 L331.80,236.24 L332.30,235.87 L332.80,235.46 L333.30,235.00 L333.80,234.50 L334.30,233.99 L334.80,233.44 L335.30,232.85 L335.80,232.19 L336.30,231.45 L336.80,230.62 L337.30,229.59 L337.80,228.35 L338.30,226.95 L338.80,225.44 L339.30,223.88 L339.80,222.31 L340.30,220.76 L340.80,219.10 L341.30,217.37 L341.80,215.63 L342.30,213.94 L342.80,212.32 L343.30,210.61 L343.80,208.93 L344.30,207.40 L344.80,206.18 L345.30,205.29 L345.80,204.46 L346.30,203.68 L346.80,203.01 L347.30,202.48 L347.80,202.13 L348.30,202.00 L348.80,202.07 L349.30,202.27 L349.80,202.57 L350.30,202.95 L350.80,203.38 L351.30,203.83 L351.80,204.30 L352.30,204.88 L352.80,205.62 L353.30,206.47 L353.80,207.38 L354.30,208.32 L354.80,209.23 L355.30,210.07 L355.80,210.80 L356.30,211.49 L356.80,212.23 L357.30,212.98 L357.80,213.70 L358.30,214.37 L358.80,214.94 L359.30,215.40 L359.80,215.69 L360.30,215.80 L360.80,215.70 L361.30,215.43 L361.80,215.00 L362.30,214.45 L362.80,213.80 L363.30,213.08 L363.80,212.32 L364.30,211.54 L364.80,210.48 L365.30,209.14 L365.80,207.64 L366.30,206.13 L366.80,204.73 L367.30,203.26 L367.80,201.72 L368.30,200.26 L368.80,199.03 L369.30,198.15 L369.80,197.43 L370.30,196.77 L370.80,196.24 L371.30,195.89 L371.80,195.81 L372.30,196.00 L372.80,196.43 L373.30,197.02 L373.80,197.72 L374.30,198.45 L374.80,199.45 L375.30,200.73 L375.80,202.20 L376.30,203.76 L376.80,205.31 L377.30,206.94 L377.80,208.69 L378.30,210.53 L378.80,212.39 L379.30,214.23 L379.80,216.02 L380.30,217.71 L380.80,219.40 L381.30,221.08 L381.80,222.73 L382.30,224.36 L382.80,225.94 L383.30,227.47 L383.80,228.94 L384.30,230.32 L384.80,231.61 L385.30,232.85 L385.80,234.05 L386.30,235.25 L386.80,236.49 L387.30,237.78 L387.80,239.11 L388.30,240.46 L388.80,241.81 L389.30,243.16 L389.80,244.48 L390.30,245.77 L390.80,247.05 L391.30,248.32 L391.80,249.58 L392.30,250.81 L392.80,252.02 L393.30,253.21 L393.80,254.37 L394.30,255.51 L394.80,256.64 L395.30,257.75 L395.80,258.85 L396.30,259.94 L396.80,261.03 L397.30,262.14 L397.80,263.24 L398.30,264.35 L398.80,265.44 L399.30,266.53 L399.80,267.59 L400.30,268.64 L400.80,269.65 L401.30,270.63 L401.80,271.58 L402.30,272.48 L402.80,273.34 L403.30,274.17 L403.80,274.97 L404.30,275.76 L404.80,276.52 L405.30,277.27 L405.80,277.99 L406.30,278.70 L406.80,279.39 L407.30,280.07 L407.80,280.73 L408.30,281.37 L408.80,282.00 L409.30,282.62 L409.80,283.23 L410.30,283.84 L410.80,284.43 L411.30,285.01 L411.80,285.59 L412.30,286.15 L412.80,286.69 L413.30,287.22 L413.80,287.73 L414.30,288.22 L414.80,288.70 L415.30,289.15 L415.80,289.58 L416.30,290.00 L416.80,290.41 L417.30,290.80 L417.80,291.19 L418.30,291.56 L418.80,291.93 L419.30,292.29 L419.80,292.64 L420.30,292.98 L420.80,293.31 L421.30,293.63 L421.80,293.95 L422.30,294.26 L422.80,294.56 L423.30,294.86 L423.80,295.16 L424.30,295.44 L424.80,295.73 L425.30,296.01 L425.80,296.28 L426.30,296.55 L426.80,296.82 L427.30,297.09 L427.80,297.35 L428.30,297.60 L428.80,297.85 L429.30,298.10 L429.80,298.34 L430.30,298.58 L430.80,298.82 L431.30,299.05 L431.80,299.27 L432.30,299.49 L432.80,299.71 L433.30,299.92 L433.80,300.12 L434.30,300.32 L434.80,300.51 L435.30,300.70 L435.80,300.88 L436.30,301.06 L436.80,301.24 L437.30,301.41 L437.80,301.58 L438.30,301.75 L438.80,301.91 L439.30,302.07 L439.80,302.23 L440.30,302.39 L440.80,302.54 L441.30,302.69 L441.80,302.83 L442.30,302.98 L442.80,303.12 L443.30,303.25 L443.80,303.39 L444.30,303.52 L444.80,303.65 L445.30,303.78 L445.80,303.90 L446.30,304.02 L446.80,304.14 L447.30,304.26 L447.80,304.38 L448.30,304.49 L448.80,304.61 L449.30,304.72 L449.80,304.83 L450.30,304.94 L450.80,305.04 L451.30,305.15 L451.80,305.25 L452.30,305.35 L452.80,305.45 L453.30,305.54 L453.80,305.64 L454.30,305.73 L454.80,305.82 L455.30,305.91 L455.80,306.00 L456.30,306.08 L456.80,306.17 L457.30,306.25 L457.80,306.33 L458.30,306.41 L458.80,306.49 L459.30,306.57 L459.80,306.64 L460.30,306.72 L460.80,306.80 L461.30,306.87 L461.80,306.94 L462.30,307.01 L462.80,307.08 L463.30,307.15 L463.80,307.22 L464.30,307.28 L464.80,307.34 L465.30,307.41 L465.80,307.47 L466.30,307.53 L466.80,307.58 L467.30,307.64 L467.80,307.69 L468.30,307.74 L468.80,307.79 L469.30,307.84 L469.80,307.89 L470.30,307.94 L470.80,307.98 L471.30,308.03 L471.80,308.07 L472.30,308.12 L472.80,308.16 L473.30,308.20 L473.80,308.24 L474.30,308.28 L474.80,308.32 L475.30,308.36 L475.80,308.39 L476.30,308.43 L476.80,308.47 L477.30,308.50 L477.80,308.53 L478.30,308.57 L478.80,308.60 L479.30,308.63 L479.80,308.66 L480.30,308.69 L480.80,308.72 L481.30,308.75 L481.80,308.78 L482.30,308.81 L482.80,308.83 L483.30,308.86 L483.80,308.88 L484.30,308.91 L484.80,308.93 L485.30,308.95 L485.80,308.98 L486.30,309.00" fill="none" stroke="#000" stroke-width="1.65" stroke-linejoin="round"/>
<path d="M261.30,310.00 L261.80,310.00 L262.30,310.00 L262.80,310.00 L263.30,310.00 L263.80,310.00 L264.30,310.00 L264.80,309.99 L265.30,309.99 L265.80,309.99 L266.30,309.99 L266.80,309.98 L267.30,309.98 L267.80,309.98 L268.30,309.97 L268.80,309.97 L269.30,309.96 L269.80,309.96 L270.30,309.95 L270.80,309.95 L271.30,309.94 L271.80,309.94 L272.30,309.93 L272.80,309.92 L273.30,309.92 L273.80,309.91 L274.30,309.90 L274.80,309.89 L275.30,309.88 L275.80,309.87 L276.30,309.87 L276.80,309.86 L277.30,309.85 L277.80,309.83 L278.30,309.82 L278.80,309.81 L279.30,309.80 L279.80,309.79 L280.30,309.78 L280.80,309.76 L281.30,309.75 L281.80,309.74 L282.30,309.72 L282.80,309.71 L283.30,309.69 L283.80,309.65 L284.30,309.60 L284.80,309.53 L285.30,309.44 L285.80,309.34 L286.30,309.22 L286.80,309.10 L287.30,308.95 L287.80,308.80 L288.30,308.64 L288.80,308.47 L289.30,308.29 L289.80,308.10 L290.30,307.90 L290.80,307.70 L291.30,307.50 L291.80,307.27 L292.30,306.99 L292.80,306.67 L293.30,306.32 L293.80,305.92 L294.30,305.50 L294.80,305.05 L295.30,304.57 L295.80,304.07 L296.30,303.55 L296.80,303.02 L297.30,302.47 L297.80,301.92 L298.30,301.36 L298.80,300.74 L299.30,300.08 L299.80,299.37 L300.30,298.63 L300.80,297.86 L301.30,297.06 L301.80,296.23 L302.30,295.39 L302.80,294.54 L303.30,293.68 L303.80,292.79 L304.30,291.86 L304.80,290.90 L305.30,289.92 L305.80,288.91 L306.30,287.87 L306.80,286.82 L307.30,285.74 L307.80,284.64 L308.30,283.53 L308.80,282.37 L309.30,281.17 L309.80,279.94 L310.30,278.69 L310.80,277.41 L311.30,276.12 L311.80,274.82 L312.30,273.52 L312.80,272.22 L313.30,270.91 L313.80,269.57 L314.30,268.19 L314.80,266.79 L315.30,265.39 L315.80,263.99 L316.30,262.62 L316.80,261.28 L317.30,259.99 L317.80,258.77 L318.30,257.62 L318.80,256.54 L319.30,255.50 L319.80,254.50 L320.30,253.50 L320.80,252.50 L321.30,251.48 L321.80,250.43 L322.30,249.39 L322.80,248.35 L323.30,247.34 L323.80,246.35 L324.30,245.42 L324.80,244.53 L325.30,243.71 L325.80,242.90 L326.30,242.12 L326.80,241.36 L327.30,240.64 L327.80,239.95 L328.30,239.32 L328.80,238.73 L329.30,238.20 L329.80,237.74 L330.30,237.32 L330.80,236.95 L331.30,236.59 L331.80,236.24 L332.30,235.87 L332.80,235.46 L333.30,235.00 L333.80,234.50 L334.30,233.99 L334.80,233.44 L335.30,232.85 L335.80,232.19 L336.30,231.45 L336.80,230.62 L337.30,229.59 L337.80,228.35 L338.30,226.95 L338.80,225.44 L339.30,223.88 L339.80,222.31 L340.30,220.76 L340.80,219.10 L341.30,217.37 L341.80,215.63 L342.30,213.94 L342.80,212.32 L343.30,210.61 L343.80,208.93 L344.30,207.40 L344.80,206.18 L345.30,205.29 L345.80,204.46 L346.30,203.68 L346.80,203.01 L347.30,202.48 L347.80,202.13 L348.30,202.00 L348.80,202.07 L349.30,202.27 L349.80,202.57 L350.30,202.95 L350.80,203.38 L351.30,203.83 L351.80,204.30 L352.30,204.88 L352.80,205.62 L353.30,206.47 L353.80,207.38 L354.30,208.32 L354.80,209.23 L355.30,210.07 L355.80,210.80 L356.30,211.49 L356.80,212.23 L357.30,212.98 L357.80,213.70 L358.30,214.37 L358.80,214.94 L359.30,215.40 L359.80,215.69 L360.30,215.80 L360.80,215.70 L361.30,215.43 L361.80,215.00 L362.30,214.45 L362.80,213.80 L363.30,213.08 L363.80,212.32 L364.30,211.54 L364.80,210.48 L365.30,209.14 L365.80,207.64 L366.30,206.13 L366.80,204.73 L367.30,203.26 L367.80,201.72 L368.30,200.26 L368.80,199.03 L369.30,198.15 L369.80,197.43 L370.30,196.77 L370.80,196.24 L371.30,195.89 L371.80,195.81 L372.30,196.00 L372.80,196.43 L373.30,197.02 L373.80,197.72 L374.30,198.45 L374.80,199.45 L375.30,200.73 L375.80,202.20 L376.30,203.76 L376.80,205.31 L377.30,206.94 L377.80,208.69 L378.30,210.53 L378.80,212.39 L379.30,214.23 L379.80,216.02 L380.30,217.71 L380.80,219.40 L381.30,221.08 L381.80,222.73 L382.30,224.36 L382.80,225.94 L383.30,227.47 L383.80,228.94 L384.30,230.32 L384.80,231.61 L385.30,232.85 L385.80,234.05 L386.30,235.25 L386.80,236.49 L387.30,237.78 L387.80,239.11 L388.30,240.46 L388.80,241.81 L389.30,243.16 L389.80,244.48 L390.30,245.77 L390.80,247.05 L391.30,248.32 L391.80,249.58 L392.30,250.81 L392.80,252.02 L393.30,253.21 L393.80,254.37 L394.30,255.51 L394.80,256.64 L395.30,257.75 L395.80,258.85 L396.30,259.94 L396.80,261.03 L397.30,262.14 L397.80,263.24 L398.30,264.35 L398.80,265.44 L399.30,266.53 L399.80,267.59 L400.30,268.64 L400.80,269.65 L401.30,270.63 L401.80,271.58 L402.30,272.48 L402.80,273.34 L403.30,274.17 L403.80,274.97 L404.30,275.76 L404.80,276.52 L405.30,277.27 L405.80,277.99 L406.30,278.70 L406.80,279.39 L407.30,280.07 L407.80,280.73 L408.30,281.37 L408.80,282.00 L409.30,282.62 L409.80,283.23 L410.30,283.84 L410.80,284.43 L411.30,285.01 L411.80,285.59 L412.30,286.15 L412.80,286.69 L413.30,287.22 L413.80,287.73 L414.30,288.22 L414.80,288.70 L415.30,289.15 L415.80,289.58 L416.30,290.00 L416.80,290.41 L417.30,290.80 L417.80,291.19 L418.30,291.56 L418.80,291.93 L419.30,292.29 L419.80,292.64 L420.30,292.98 L420.80,293.31 L421.30,293.63 L421.80,293.95 L422.30,294.26 L422.80,294.56 L423.30,294.86 L423.80,295.16 L424.30,295.44 L424.80,295.73 L425.30,296.01 L425.80,296.28 L426.30,296.55 L426.80,296.82 L427.30,297.09 L427.80,297.35 L428.30,297.60 L428.80,297.85 L429.30,298.10 L429.80,298.34 L430.30,298.58 L430.80,298.82 L431.30,299.05 L431.80,299.27 L432.30,299.49 L432.80,299.71 L433.30,299.92 L433.80,300.12 L434.30,300.32 L434.80,300.51 L435.30,300.70 L435.80,300.88 L436.30,301.06 L436.80,301.24 L437.30,301.41 L437.80,301.58 L438.30,301.75 L438.80,301.91 L439.30,302.07 L439.80,302.23 L440.30,302.39 L440.80,302.54 L441.30,302.69 L441.80,302.83 L442.30,302.98 L442.80,303.12 L443.30,303.25 L443.80,303.39 L444.30,303.52 L444.80,303.65 L445.30,303.78 L445.80,303.90 L446.30,304.02 L446.80,304.14 L447.30,304.26 L447.80,304.38 L448.30,304.49 L448.80,304.61 L449.30,304.72 L449.80,304.83 L450.30,304.94 L450.80,305.04 L451.30,305.15 L451.80,305.25 L452.30,305.35 L452.80,305.45 L453.30,305.54 L453.80,305.64 L454.30,305.73 L454.80,305.82 L455.30,305.91 L455.80,306.00 L456.30,306.08 L456.80,306.17 L457.30,306.25 L457.80,306.33 L458.30,306.41 L458.80,306.49 L459.30,306.57 L459.80,306.64 L460.30,306.72 L460.80,306.80 L461.30,306.87 L461.80,306.94 L462.30,307.01 L462.80,307.08 L463.30,307.15 L463.80,307.22 L464.30,307.28 L464.80,307.34 L465.30,307.41 L465.80,307.47 L466.30,307.53 L466.80,307.58 L467.30,307.64 L467.80,307.69 L468.30,307.74 L468.80,307.79 L469.30,307.84 L469.80,307.89 L470.30,307.94 L470.80,307.98 L471.30,308.03 L471.80,308.07 L472.30,308.12 L472.80,308.16 L473.30,308.20 L473.80,308.24 L474.30,308.28 L474.80,308.32 L475.30,308.36 L475.80,308.39 L476.30,308.43 L476.80,308.47 L477.30,308.50 L477.80,308.53 L478.30,308.57 L478.80,308.60 L479.30,308.63 L479.80,308.66 L480.30,308.69 L480.80,308.72 L481.30,308.75 L481.80,308.78 L482.30,308.81 L482.80,308.83 L483.30,308.86 L483.80,308.88 L484.30,308.91 L484.80,308.93 L485.30,308.95 L485.80,308.98 L486.30,309.00" fill="none" stroke="#ff1428" stroke-width="1.65" stroke-dasharray="2.3 3.5" stroke-linejoin="round"/>
<line x1="574.7" y1="73.7" x2="574.7" y2="212.5" stroke="#46646e" stroke-width="1.2" stroke-dasharray="4.8 2.5"/>
<line x1="589.6" y1="73.7" x2="589.6" y2="212.5" stroke="#46646e" stroke-width="1.2" stroke-dasharray="4.8 2.5"/>
<line x1="608.3" y1="99.2" x2="608.3" y2="250.5" stroke="#46646e" stroke-width="1.2" stroke-dasharray="4.8 2.5"/>
<line x1="637.4" y1="126.7" x2="637.4" y2="270" stroke="#46646e" stroke-width="1.2" stroke-dasharray="4.8 2.5"/>
<line x1="625" y1="105.8" x2="625" y2="139" stroke="#ff5a8c" stroke-width="1.2" stroke-dasharray="4.8 2.5"/>
<line x1="672.5" y1="95" x2="672.5" y2="203.7" stroke="#ff5a8c" stroke-width="1.2" stroke-dasharray="4.8 2.5"/>
<path d="M520.70,66.42 L521.20,65.27 L521.70,64.31 L522.20,63.75 L522.70,63.54 L523.20,63.42 L523.70,63.73 L524.20,64.72 L524.70,66.07 L525.20,68.09 L525.70,69.83 L526.20,71.31 L526.70,72.69 L527.20,73.95 L527.70,74.96 L528.20,76.22 L528.70,77.10 L529.20,78.11 L529.70,78.94 L530.20,79.73 L530.70,80.03 L531.20,80.62 L531.70,81.05 L532.20,81.49 L532.70,81.76 L533.20,82.39 L533.70,82.74 L534.20,83.06 L534.70,83.55 L535.20,84.01 L535.70,84.43 L536.20,84.99 L536.70,85.36 L537.20,85.56 L537.70,85.97 L538.20,86.29 L538.70,86.34 L539.20,86.69 L539.70,87.14 L540.20,87.26 L540.70,87.65 L541.20,88.09 L541.70,88.31 L542.20,88.66 L542.70,89.18 L543.20,89.19 L543.70,89.40 L544.20,89.70 L544.70,89.59 L545.20,89.67 L545.70,89.82 L546.20,89.88 L546.70,89.96 L547.20,89.88 L547.70,89.80 L548.20,89.72 L548.70,89.62 L549.20,89.29 L549.70,89.25 L550.20,89.17 L550.70,89.27 L551.20,89.34 L551.70,89.29 L552.20,89.23 L552.70,89.30 L553.20,88.96 L553.70,88.77 L554.20,88.90 L554.70,89.14 L555.20,89.15 L555.70,89.36 L556.20,89.39 L556.70,89.41 L557.20,89.47 L557.70,89.39 L558.20,89.44 L558.70,89.57 L559.20,89.63 L559.70,89.50 L560.20,89.49 L560.70,89.58 L561.20,89.57 L561.70,89.83 L562.20,90.07 L562.70,90.37 L563.20,90.64 L563.70,90.87 L564.20,91.09 L564.70,91.27 L565.20,91.59 L565.70,91.64 L566.20,91.99 L566.70,91.96 L567.20,92.00 L567.70,92.21 L568.20,92.65 L568.70,93.04 L569.20,93.84 L569.70,94.20 L570.20,94.20 L570.70,94.26 L571.20,94.19 L571.70,93.78 L572.20,93.67 L572.70,93.64 L573.20,93.50 L573.70,93.18 L574.20,93.07 L574.70,93.03 L575.20,92.83 L575.70,92.87 L576.20,93.02 L576.70,93.33 L577.20,93.57 L577.70,93.95 L578.20,94.12 L578.70,94.46 L579.20,94.39 L579.70,94.47 L580.20,94.69 L580.70,94.73 L581.20,95.06 L581.70,95.31 L582.20,95.74 L582.70,95.82 L583.20,96.33 L583.70,96.41 L584.20,96.54 L584.70,96.66 L585.20,96.87 L585.70,96.21 L586.20,95.15 L586.70,94.02 L587.20,92.44 L587.70,91.13 L588.20,89.37 L588.70,87.48 L589.20,85.69 L589.70,84.61 L590.20,84.21 L590.70,85.09 L591.20,86.28 L591.70,87.91 L592.20,89.38 L592.70,90.57 L593.20,91.41 L593.70,92.36 L594.20,93.24 L594.70,94.19 L595.20,95.23 L595.70,96.11 L596.20,97.09 L596.70,98.27 L597.20,99.23 L597.70,100.15 L598.20,101.34 L598.70,102.58 L599.20,103.24 L599.70,104.29 L600.20,105.34 L600.70,106.13 L601.20,107.10 L601.70,108.30 L602.20,109.38 L602.70,110.41 L603.20,111.67 L603.70,112.52 L604.20,113.46 L604.70,114.25 L605.20,115.06 L605.70,115.99 L606.20,116.80 L606.70,117.63 L607.20,118.49 L607.70,119.28 L608.20,119.74 L608.70,120.49 L609.20,121.03 L609.70,121.58 L610.20,122.18 L610.70,122.89 L611.20,123.39 L611.70,123.93 L612.20,124.38 L612.70,124.75 L613.20,125.24 L613.70,125.73 L614.20,126.03 L614.70,126.36 L615.20,126.62 L615.70,126.38 L616.20,126.01 L616.70,125.60 L617.20,125.45 L617.70,125.22 L618.20,125.66 L618.70,126.39 L619.20,127.47 L619.70,128.43 L620.20,129.45 L620.70,129.58 L621.20,129.18 L621.70,128.57 L622.20,127.37 L622.70,126.22 L623.20,125.52 L623.70,124.85 L624.20,124.27 L624.70,124.43 L625.20,124.51 L625.70,124.51 L626.20,124.84 L626.70,125.14 L627.20,125.12 L627.70,125.28 L628.20,125.38 L628.70,125.38 L629.20,125.74 L629.70,126.13 L630.20,126.44 L630.70,126.70 L631.20,127.08 L631.70,127.19 L632.20,127.38 L632.70,127.62 L633.20,127.91 L633.70,128.27 L634.20,128.66 L634.70,129.23 L635.20,129.31 L635.70,129.74 L636.20,129.94 L636.70,130.16 L637.20,130.02 L637.70,130.38 L638.20,130.61 L638.70,130.86 L639.20,131.12 L639.70,131.50 L640.20,131.93 L640.70,132.10 L641.20,132.12 L641.70,132.28 L642.20,132.35 L642.70,132.11 L643.20,132.30 L643.70,132.95 L644.20,133.33 L644.70,133.73 L645.20,134.30 L645.70,134.77 L646.20,134.89 L646.70,135.08 L647.20,135.32 L647.70,135.44 L648.20,135.36 L648.70,135.32 L649.20,135.22 L649.70,134.96 L650.20,134.84 L650.70,134.47 L651.20,134.32 L651.70,133.93 L652.20,133.79 L652.70,133.48 L653.20,133.01 L653.70,132.56 L654.20,132.27 L654.70,131.63 L655.20,131.15 L655.70,130.87 L656.20,130.07 L656.70,129.82 L657.20,129.91 L657.70,129.96 L658.20,129.97 L658.70,130.41 L659.20,130.52 L659.70,130.75 L660.20,130.78 L660.70,130.64 L661.20,130.34 L661.70,129.63 L662.20,128.67 L662.70,127.58 L663.20,126.90 L663.70,125.96 L664.20,125.08 L664.70,124.02 L665.20,122.95 L665.70,121.45 L666.20,119.91 L666.70,118.36 L667.20,116.78 L667.70,115.29 L668.20,113.62 L668.70,111.90 L669.20,110.16 L669.70,108.16 L670.20,105.98 L670.70,103.92 L671.20,102.40 L671.70,101.83 L672.20,102.09 L672.70,102.72 L673.20,103.92 L673.70,105.21 L674.20,106.60 L674.70,108.25 L675.20,110.19 L675.70,112.05 L676.20,114.29 L676.70,116.39 L677.20,118.74 L677.70,120.94 L678.20,123.26 L678.70,125.28 L679.20,127.07 L679.70,128.54 L680.20,130.21 L680.70,131.62 L681.20,132.74 L681.70,134.16 L682.20,135.72 L682.70,136.90 L683.20,138.07 L683.70,139.21 L684.20,140.29 L684.70,141.00 L685.20,141.93 L685.70,143.09 L686.20,144.06 L686.70,145.07 L687.20,146.30 L687.70,147.37 L688.20,148.19 L688.70,149.36 L689.20,150.03 L689.70,150.53 L690.20,150.99 L690.70,151.48 L691.20,151.91 L691.70,152.48 L692.20,152.86 L692.70,153.29 L693.20,153.58 L693.70,153.75 L694.20,153.89 L694.70,154.24 L695.20,154.57 L695.70,154.78 L696.20,154.93 L696.70,155.15 L697.20,155.29 L697.70,155.47 L698.20,155.86 L698.70,156.06 L699.20,156.16 L699.70,156.08 L700.20,156.15 L700.70,155.78 L701.20,155.59 L701.70,155.68 L702.20,155.95 L702.70,155.89 L703.20,155.91 L703.70,156.03 L704.20,155.86 L704.70,155.85 L705.20,156.11 L705.70,156.33 L706.20,156.28 L706.70,156.23 L707.20,156.15 L707.70,155.88 L708.20,155.73 L708.70,155.83 L709.20,155.83 L709.70,155.96 L710.20,156.11 L710.70,156.38 L711.20,156.37 L711.70,156.63 L712.20,156.57 L712.70,156.51 L713.20,156.46 L713.70,156.48 L714.20,156.37 L714.70,156.58 L715.20,156.70 L715.70,156.86 L716.20,157.19 L716.70,157.23 L717.20,157.10 L717.70,157.17 L718.20,157.20 L718.70,157.04 L719.20,157.33 L719.70,157.41 L720.20,157.24 L720.70,157.06 L721.20,157.16 L721.70,157.06 L722.20,156.79 L722.70,157.04 L723.20,157.17 L723.70,157.20 L724.20,157.07 L724.70,157.23 L725.20,156.93 L725.70,157.13 L726.20,156.96 L726.70,157.19 L727.20,157.18 L727.70,157.37 L728.20,156.98 L728.70,157.04 L729.20,157.07 L729.70,157.10 L730.20,157.31 L730.70,157.64 L731.20,157.67 L731.70,157.61 L732.20,157.79 L732.70,157.75 L733.20,157.72 L733.70,157.80 L734.20,157.85 L734.70,157.80 L735.20,157.66 L735.70,157.72 L736.20,157.90 L736.70,157.77 L737.20,157.88 L737.70,157.95 L738.20,157.85 L738.70,157.85 L739.20,157.96 L739.70,158.12 L740.20,158.11 L740.70,158.26 L741.20,158.14 L741.70,158.11 L742.20,158.01" fill="none" stroke="#ff1428" stroke-width="1.3" stroke-linejoin="round" stroke-linecap="round"/>
<path d="M529.70,119.20 L530.20,119.54 L530.70,120.24 L531.20,120.75 L531.70,121.48 L532.20,122.37 L532.70,123.65 L533.20,124.42 L533.70,125.55 L534.20,127.02 L534.70,128.41 L535.20,129.93 L535.70,131.62 L536.20,133.23 L536.70,134.81 L537.20,136.24 L537.70,137.67 L538.20,139.06 L538.70,140.34 L539.20,141.28 L539.70,142.60 L540.20,143.33 L540.70,144.19 L541.20,144.98 L541.70,145.80 L542.20,146.13 L542.70,146.82 L543.20,147.05 L543.70,147.20 L544.20,147.37 L544.70,147.50 L545.20,147.60 L545.70,147.97 L546.20,148.11 L546.70,147.95 L547.20,147.64 L547.70,147.09 L548.20,145.97 L548.70,145.43 L549.20,144.88 L549.70,144.66 L550.20,144.36 L550.70,144.95 L551.20,145.26 L551.70,145.89 L552.20,146.49 L552.70,147.07 L553.20,147.11 L553.70,147.02 L554.20,146.62 L554.70,146.06 L555.20,145.59 L555.70,145.28 L556.20,145.12 L556.70,145.11 L557.20,145.20 L557.70,145.32 L558.20,145.62 L558.70,145.96 L559.20,146.12 L559.70,145.69 L560.20,144.83 L560.70,143.56 L561.20,142.31 L561.70,141.75 L562.20,141.48 L562.70,141.35 L563.20,141.24 L563.70,141.21 L564.20,141.07 L564.70,141.00 L565.20,140.72 L565.70,140.59 L566.20,140.37 L566.70,140.25 L567.20,140.17 L567.70,139.96 L568.20,139.82 L568.70,139.55 L569.20,139.24 L569.70,138.97 L570.20,138.60 L570.70,138.15 L571.20,137.74 L571.70,137.15 L572.20,136.52 L572.70,136.17 L573.20,135.66 L573.70,135.38 L574.20,135.18 L574.70,135.10 L575.20,134.90 L575.70,134.90 L576.20,134.78 L576.70,134.60 L577.20,134.07 L577.70,133.49 L578.20,132.46 L578.70,131.83 L579.20,131.61 L579.70,131.91 L580.20,132.45 L580.70,133.25 L581.20,133.81 L581.70,134.24 L582.20,134.43 L582.70,134.53 L583.20,134.52 L583.70,134.69 L584.20,134.85 L584.70,135.05 L585.20,135.27 L585.70,135.78 L586.20,136.50 L586.70,137.02 L587.20,137.08 L587.70,137.13 L588.20,136.66 L588.70,135.69 L589.20,134.98 L589.70,135.10 L590.20,135.42 L590.70,136.61 L591.20,138.25 L591.70,140.57 L592.20,143.35 L592.70,147.41 L593.20,151.53 L593.70,154.21 L594.20,156.55 L594.70,158.72 L595.20,160.61 L595.70,162.61 L596.20,164.09 L596.70,165.07 L597.20,165.78 L597.70,166.38 L598.20,166.85 L598.70,167.38 L599.20,167.71 L599.70,168.02 L600.20,168.21 L600.70,168.31 L601.20,168.73 L601.70,169.14 L602.20,169.46 L602.70,169.62 L603.20,169.86 L603.70,169.56 L604.20,168.83 L604.70,167.63 L605.20,166.75 L605.70,165.93 L606.20,165.34 L606.70,165.09 L607.20,165.62 L607.70,166.50 L608.20,167.18 L608.70,168.39 L609.20,169.79 L609.70,171.03 L610.20,172.05 L610.70,173.32 L611.20,174.21 L611.70,175.01 L612.20,175.82 L612.70,176.35 L613.20,176.97 L613.70,177.74 L614.20,178.58 L614.70,179.09 L615.20,179.71 L615.70,180.31 L616.20,180.95 L616.70,181.32 L617.20,182.07 L617.70,182.51 L618.20,182.97 L618.70,183.25 L619.20,183.72 L619.70,183.97 L620.20,184.11 L620.70,184.11 L621.20,184.15 L621.70,183.91 L622.20,183.50 L622.70,183.62 L623.20,183.60 L623.70,183.44 L624.20,183.29 L624.70,183.43 L625.20,183.19 L625.70,183.21 L626.20,183.05 L626.70,183.01 L627.20,182.92 L627.70,182.87 L628.20,182.83 L628.70,182.95 L629.20,182.95 L629.70,182.76 L630.20,182.34 L630.70,181.68 L631.20,180.76 L631.70,179.91 L632.20,179.15 L632.70,178.62 L633.20,178.09 L633.70,177.64 L634.20,177.15 L634.70,176.64 L635.20,175.89 L635.70,175.15 L636.20,174.88 L636.70,174.81 L637.20,174.59 L637.70,174.52 L638.20,174.62 L638.70,174.89 L639.20,175.00 L639.70,175.36 L640.20,175.87 L640.70,176.41 L641.20,176.63 L641.70,177.09 L642.20,177.38 L642.70,177.77 L643.20,178.10 L643.70,178.83 L644.20,179.37 L644.70,180.01 L645.20,180.64 L645.70,181.34 L646.20,181.88 L646.70,182.26 L647.20,182.76 L647.70,183.30 L648.20,184.16 L648.70,184.73 L649.20,185.44 L649.70,186.15 L650.20,186.92 L650.70,187.08 L651.20,187.35 L651.70,187.87 L652.20,188.19 L652.70,188.37 L653.20,188.66 L653.70,189.21 L654.20,189.54 L654.70,189.79 L655.20,189.99 L655.70,189.99 L656.20,189.98 L656.70,189.89 L657.20,190.00 L657.70,190.10 L658.20,190.36 L658.70,190.16 L659.20,190.24 L659.70,189.97 L660.20,189.48 L660.70,188.91 L661.20,188.42 L661.70,187.46 L662.20,187.07 L662.70,186.65 L663.20,186.55 L663.70,186.77 L664.20,187.26 L664.70,187.36 L665.20,187.79 L665.70,188.15 L666.20,188.49 L666.70,189.04 L667.20,189.41 L667.70,189.73 L668.20,189.65 L668.70,189.54 L669.20,189.21 L669.70,189.01 L670.20,188.52 L670.70,188.17 L671.20,187.63 L671.70,187.08 L672.20,186.80 L672.70,186.82 L673.20,186.96 L673.70,187.05 L674.20,187.22 L674.70,187.05 L675.20,186.92 L675.70,186.59 L676.20,186.31 L676.70,186.04 L677.20,185.87 L677.70,185.30 L678.20,184.86 L678.70,184.29 L679.20,183.87 L679.70,183.77 L680.20,183.61 L680.70,183.58 L681.20,183.97 L681.70,184.50 L682.20,184.68 L682.70,185.32 L683.20,186.16 L683.70,186.84 L684.20,187.44 L684.70,188.32 L685.20,188.88 L685.70,189.42 L686.20,189.99 L686.70,190.79 L687.20,191.03 L687.70,191.63 L688.20,192.10 L688.70,192.69 L689.20,193.00 L689.70,193.73 L690.20,193.97 L690.70,194.42 L691.20,194.62 L691.70,194.77 L692.20,194.97 L692.70,195.35 L693.20,195.36 L693.70,195.70 L694.20,195.98 L694.70,196.25 L695.20,196.80 L695.70,197.47 L696.20,198.08 L696.70,198.59 L697.20,198.83 L697.70,199.00 L698.20,199.09 L698.70,198.95 L699.20,199.16 L699.70,199.38 L700.20,199.36 L700.70,199.64 L701.20,199.85 L701.70,199.93 L702.20,200.10 L702.70,200.46 L703.20,200.47 L703.70,200.71 L704.20,200.80 L704.70,200.92 L705.20,200.97 L705.70,200.88 L706.20,200.80 L706.70,200.81 L707.20,200.87 L707.70,200.78 L708.20,201.23 L708.70,201.43 L709.20,201.54 L709.70,201.58 L710.20,201.97 L710.70,202.05 L711.20,202.22 L711.70,202.59 L712.20,202.88 L712.70,203.08 L713.20,203.04 L713.70,203.11 L714.20,203.19 L714.70,203.53 L715.20,203.33 L715.70,203.33 L716.20,203.21 L716.70,203.15 L717.20,202.71 L717.70,202.73 L718.20,202.74 L718.70,202.70 L719.20,202.47 L719.70,202.52 L720.20,202.32 L720.70,202.15 L721.20,202.21 L721.70,202.33 L722.20,202.37 L722.70,202.43 L723.20,202.56 L723.70,202.73 L724.20,202.81 L724.70,202.87 L725.20,203.01 L725.70,203.18 L726.20,203.07 L726.70,202.92 L727.20,202.88 L727.70,203.18 L728.20,203.16 L728.70,203.37 L729.20,203.46 L729.70,203.66 L730.20,203.42 L730.70,203.34 L731.20,203.43 L731.70,203.50 L732.20,203.26 L732.70,203.24 L733.20,203.23 L733.70,203.03 L734.20,202.86 L734.70,202.71 L735.20,202.70 L735.70,202.67 L736.20,202.57 L736.70,202.79 L737.20,203.05 L737.70,203.21 L738.20,203.14 L738.70,203.27 L739.20,203.42 L739.70,203.54 L740.20,203.56 L740.70,203.79 L741.20,203.99 L741.70,203.76 L742.20,203.78" fill="none" stroke="#10a010" stroke-width="1.5" stroke-linejoin="round" stroke-linecap="round"/>
<path d="M529.70,188.54 L530.20,189.18 L530.70,189.91 L531.20,191.04 L531.70,192.59 L532.20,193.97 L532.70,195.56 L533.20,197.93 L533.70,200.98 L534.20,204.22 L534.70,207.38 L535.20,209.62 L535.70,211.94 L536.20,213.87 L536.70,215.55 L537.20,217.25 L537.70,218.66 L538.20,219.95 L538.70,220.97 L539.20,222.10 L539.70,222.85 L540.20,223.73 L540.70,224.31 L541.20,224.90 L541.70,225.06 L542.20,225.27 L542.70,225.41 L543.20,225.25 L543.70,225.35 L544.20,225.52 L544.70,225.60 L545.20,225.85 L545.70,226.50 L546.20,226.75 L546.70,227.06 L547.20,227.50 L547.70,228.07 L548.20,228.18 L548.70,228.62 L549.20,228.72 L549.70,228.57 L550.20,228.44 L550.70,228.37 L551.20,227.84 L551.70,227.56 L552.20,227.46 L552.70,227.12 L553.20,226.77 L553.70,226.64 L554.20,226.41 L554.70,225.86 L555.20,225.38 L555.70,225.00 L556.20,224.46 L556.70,223.87 L557.20,223.49 L557.70,222.97 L558.20,222.43 L558.70,221.94 L559.20,221.57 L559.70,221.01 L560.20,220.49 L560.70,220.07 L561.20,219.56 L561.70,219.07 L562.20,218.36 L562.70,217.78 L563.20,217.08 L563.70,216.74 L564.20,216.27 L564.70,215.78 L565.20,215.23 L565.70,214.97 L566.20,214.45 L566.70,213.87 L567.20,213.52 L567.70,212.96 L568.20,211.83 L568.70,210.25 L569.20,208.59 L569.70,206.60 L570.20,204.96 L570.70,203.35 L571.20,202.26 L571.70,200.88 L572.20,199.81 L572.70,198.65 L573.20,197.72 L573.70,196.80 L574.20,196.27 L574.70,196.18 L575.20,196.05 L575.70,196.14 L576.20,196.12 L576.70,196.32 L577.20,196.24 L577.70,196.10 L578.20,195.97 L578.70,196.01 L579.20,195.76 L579.70,195.64 L580.20,195.54 L580.70,195.41 L581.20,195.15 L581.70,195.28 L582.20,195.39 L582.70,195.79 L583.20,196.17 L583.70,196.88 L584.20,197.42 L584.70,197.99 L585.20,198.67 L585.70,199.42 L586.20,200.24 L586.70,200.88 L587.20,201.22 L587.70,201.00 L588.20,200.73 L588.70,200.09 L589.20,199.53 L589.70,199.25 L590.20,199.18 L590.70,200.59 L591.20,202.98 L591.70,206.24 L592.20,211.36 L592.70,218.31 L593.20,225.18 L593.70,232.64 L594.20,238.02 L594.70,242.22 L595.20,245.94 L595.70,248.92 L596.20,251.36 L596.70,253.77 L597.20,255.70 L597.70,257.55 L598.20,259.08 L598.70,260.51 L599.20,261.42 L599.70,262.50 L600.20,263.43 L600.70,264.69 L601.20,265.52 L601.70,266.27 L602.20,266.69 L602.70,266.96 L603.20,266.67 L603.70,266.20 L604.20,265.30 L604.70,264.51 L605.20,262.92 L605.70,260.41 L606.20,257.15 L606.70,253.91 L607.20,251.30 L607.70,250.84 L608.20,251.73 L608.70,253.74 L609.20,256.76 L609.70,259.87 L610.20,262.39 L610.70,264.41 L611.20,266.19 L611.70,267.83 L612.20,269.31 L612.70,270.87 L613.20,272.34 L613.70,273.44 L614.20,274.03 L614.70,274.67 L615.20,275.18 L615.70,275.56 L616.20,275.71 L616.70,276.26 L617.20,276.69 L617.70,277.23 L618.20,277.78 L618.70,278.40 L619.20,278.43 L619.70,278.81 L620.20,279.05 L620.70,278.89 L621.20,278.71 L621.70,278.76 L622.20,278.26 L622.70,277.94 L623.20,277.33 L623.70,276.85 L624.20,276.40 L624.70,276.18 L625.20,275.77 L625.70,275.97 L626.20,276.13 L626.70,276.42 L627.20,276.40 L627.70,276.59 L628.20,276.65 L628.70,276.80 L629.20,276.70 L629.70,276.60 L630.20,276.07 L630.70,275.59 L631.20,274.84 L631.70,273.87 L632.20,273.27 L632.70,272.68 L633.20,271.55 L633.70,270.60 L634.20,269.74 L634.70,268.25 L635.20,266.66 L635.70,265.56 L636.20,264.49 L636.70,263.61 L637.20,263.36 L637.70,263.50 L638.20,263.62 L638.70,263.84 L639.20,263.99 L639.70,264.34 L640.20,264.49 L640.70,264.85 L641.20,265.40 L641.70,266.09 L642.20,266.79 L642.70,267.67 L643.20,268.53 L643.70,269.29 L644.20,270.15 L644.70,271.14 L645.20,271.93 L645.70,273.11 L646.20,274.38 L646.70,275.68 L647.20,276.89 L647.70,278.15 L648.20,278.99 L648.70,279.55 L649.20,280.28 L649.70,280.71 L650.20,280.95 L650.70,281.23 L651.20,281.43 L651.70,281.61 L652.20,282.11 L652.70,282.71 L653.20,282.92 L653.70,283.34 L654.20,283.83 L654.70,284.05 L655.20,284.30 L655.70,284.88 L656.20,285.55 L656.70,285.79 L657.20,286.03 L657.70,286.30 L658.20,286.43 L658.70,286.23 L659.20,286.03 L659.70,285.93 L660.20,285.25 L660.70,284.32 L661.20,283.39 L661.70,282.69 L662.20,280.87 L662.70,278.98 L663.20,277.33 L663.70,276.68 L664.20,277.32 L664.70,279.23 L665.20,281.39 L665.70,283.14 L666.20,283.99 L666.70,284.65 L667.20,285.30 L667.70,285.66 L668.20,285.91 L668.70,285.98 L669.20,285.90 L669.70,285.71 L670.20,285.66 L670.70,285.34 L671.20,285.04 L671.70,284.99 L672.20,284.65 L672.70,284.48 L673.20,284.58 L673.70,284.56 L674.20,284.23 L674.70,284.45 L675.20,284.59 L675.70,284.77 L676.20,284.92 L676.70,285.37 L677.20,285.70 L677.70,286.08 L678.20,286.55 L678.70,287.22 L679.20,287.67 L679.70,288.09 L680.20,288.65 L680.70,289.18 L681.20,289.66 L681.70,290.13 L682.20,290.55 L682.70,290.77 L683.20,291.01 L683.70,290.94 L684.20,290.92 L684.70,290.89 L685.20,290.88 L685.70,290.60 L686.20,290.66 L686.70,290.64 L687.20,290.80 L687.70,290.96 L688.20,291.14 L688.70,291.22 L689.20,291.14 L689.70,291.08 L690.20,290.95 L690.70,291.03 L691.20,291.24 L691.70,291.33 L692.20,291.13 L692.70,291.06 L693.20,290.84 L693.70,290.52 L694.20,290.68 L694.70,290.87 L695.20,290.81 L695.70,291.06 L696.20,291.38 L696.70,291.28 L697.20,291.29 L697.70,291.55 L698.20,291.66 L698.70,291.76 L699.20,292.12 L699.70,292.52 L700.20,292.90 L700.70,293.23 L701.20,293.45 L701.70,293.37 L702.20,293.44 L702.70,293.55 L703.20,293.57 L703.70,293.79 L704.20,294.10 L704.70,294.18 L705.20,294.45 L705.70,294.69 L706.20,294.71 L706.70,294.94 L707.20,295.25 L707.70,295.22 L708.20,294.96 L708.70,294.95 L709.20,294.88 L709.70,294.74 L710.20,294.80 L710.70,295.28 L711.20,295.37 L711.70,295.37 L712.20,295.76 L712.70,295.75 L713.20,295.54 L713.70,295.67 L714.20,295.89 L714.70,295.63 L715.20,295.79 L715.70,295.90 L716.20,295.79 L716.70,295.77 L717.20,295.94 L717.70,295.77 L718.20,295.85 L718.70,295.93 L719.20,296.20 L719.70,296.01 L720.20,296.20 L720.70,296.13 L721.20,296.09 L721.70,295.82 L722.20,295.95 L722.70,295.90 L723.20,295.89 L723.70,295.79 L724.20,295.61 L724.70,295.52 L725.20,295.39 L725.70,295.46 L726.20,295.51 L726.70,295.61 L727.20,295.63 L727.70,295.48 L728.20,295.05 L728.70,294.76 L729.20,294.37 L729.70,294.27 L730.20,294.06 L730.70,294.27 L731.20,294.39 L731.70,294.69 L732.20,294.61 L732.70,294.70 L733.20,294.58 L733.70,294.60 L734.20,294.52 L734.70,294.46 L735.20,294.59 L735.70,294.92 L736.20,294.86 L736.70,295.01 L737.20,295.09 L737.70,295.24 L738.20,295.26 L738.70,295.52 L739.20,295.65 L739.70,295.63 L740.20,295.80 L740.70,295.69 L741.20,295.82 L741.70,295.80 L742.20,295.74" fill="none" stroke="#000" stroke-width="1.4" stroke-linejoin="round" stroke-linecap="round"/>
<line x1="0.7000000000000028" y1="346.7" x2="228.7" y2="346.7" stroke="#000" stroke-width="1.6"/>
<line x1="19.70" y1="346.7" x2="19.70" y2="350.5" stroke="#000" stroke-width="1.3"/>
<line x1="67.20" y1="346.7" x2="67.20" y2="350.5" stroke="#000" stroke-width="1.3"/>
<line x1="114.70" y1="346.7" x2="114.70" y2="350.5" stroke="#000" stroke-width="1.3"/>
<line x1="162.20" y1="346.7" x2="162.20" y2="350.5" stroke="#000" stroke-width="1.3"/>
<line x1="209.70" y1="346.7" x2="209.70" y2="350.5" stroke="#000" stroke-width="1.3"/>
<line x1="43.45" y1="346.7" x2="43.45" y2="349.3" stroke="#000" stroke-width="1.2"/>
<line x1="90.95" y1="346.7" x2="90.95" y2="349.3" stroke="#000" stroke-width="1.2"/>
<line x1="138.45" y1="346.7" x2="138.45" y2="349.3" stroke="#000" stroke-width="1.2"/>
<line x1="185.95" y1="346.7" x2="185.95" y2="349.3" stroke="#000" stroke-width="1.2"/>
<text transform="translate(20.10,361.2) scale(1,1)" font-size="10.3" text-anchor="middle" stroke="#000" stroke-width="0.25">100</text>
<text transform="translate(67.60,361.2) scale(1,1)" font-size="10.3" text-anchor="middle" stroke="#000" stroke-width="0.25">50</text>
<text transform="translate(115.10,361.2) scale(1,1)" font-size="10.3" text-anchor="middle" stroke="#000" stroke-width="0.25">0</text>
<text transform="translate(162.60,361.2) scale(1,1)" font-size="10.3" text-anchor="middle" stroke="#000" stroke-width="0.25">-50</text>
<text transform="translate(210.10,361.2) scale(1,1)" font-size="10.3" text-anchor="middle" stroke="#000" stroke-width="0.25">-100</text>
<line x1="260.2" y1="346.7" x2="488.2" y2="346.7" stroke="#000" stroke-width="1.6"/>
<line x1="279.20" y1="346.7" x2="279.20" y2="350.5" stroke="#000" stroke-width="1.3"/>
<line x1="326.70" y1="346.7" x2="326.70" y2="350.5" stroke="#000" stroke-width="1.3"/>
<line x1="374.20" y1="346.7" x2="374.20" y2="350.5" stroke="#000" stroke-width="1.3"/>
<line x1="421.70" y1="346.7" x2="421.70" y2="350.5" stroke="#000" stroke-width="1.3"/>
<line x1="469.20" y1="346.7" x2="469.20" y2="350.5" stroke="#000" stroke-width="1.3"/>
<line x1="302.95" y1="346.7" x2="302.95" y2="349.3" stroke="#000" stroke-width="1.2"/>
<line x1="350.45" y1="346.7" x2="350.45" y2="349.3" stroke="#000" stroke-width="1.2"/>
<line x1="397.95" y1="346.7" x2="397.95" y2="349.3" stroke="#000" stroke-width="1.2"/>
<line x1="445.45" y1="346.7" x2="445.45" y2="349.3" stroke="#000" stroke-width="1.2"/>
<text transform="translate(279.60,361.2) scale(1,1)" font-size="10.3" text-anchor="middle" stroke="#000" stroke-width="0.25">100</text>
<text transform="translate(327.10,361.2) scale(1,1)" font-size="10.3" text-anchor="middle" stroke="#000" stroke-width="0.25">50</text>
<text transform="translate(374.60,361.2) scale(1,1)" font-size="10.3" text-anchor="middle" stroke="#000" stroke-width="0.25">0</text>
<text transform="translate(422.10,361.2) scale(1,1)" font-size="10.3" text-anchor="middle" stroke="#000" stroke-width="0.25">-50</text>
<text transform="translate(469.60,361.2) scale(1,1)" font-size="10.3" text-anchor="middle" stroke="#000" stroke-width="0.25">-100</text>
<line x1="515.7" y1="346.7" x2="743.65" y2="346.7" stroke="#000" stroke-width="1.6"/>
<line x1="516.50" y1="346.7" x2="516.50" y2="350.5" stroke="#000" stroke-width="1.3"/>
<line x1="591.95" y1="346.7" x2="591.95" y2="350.5" stroke="#000" stroke-width="1.3"/>
<line x1="667.40" y1="346.7" x2="667.40" y2="350.5" stroke="#000" stroke-width="1.3"/>
<line x1="742.85" y1="346.7" x2="742.85" y2="350.5" stroke="#000" stroke-width="1.3"/>
<line x1="531.59" y1="346.7" x2="531.59" y2="349.3" stroke="#000" stroke-width="1.2"/>
<line x1="546.68" y1="346.7" x2="546.68" y2="349.3" stroke="#000" stroke-width="1.2"/>
<line x1="561.77" y1="346.7" x2="561.77" y2="349.3" stroke="#000" stroke-width="1.2"/>
<line x1="576.86" y1="346.7" x2="576.86" y2="349.3" stroke="#000" stroke-width="1.2"/>
<line x1="607.04" y1="346.7" x2="607.04" y2="349.3" stroke="#000" stroke-width="1.2"/>
<line x1="622.13" y1="346.7" x2="622.13" y2="349.3" stroke="#000" stroke-width="1.2"/>
<line x1="637.22" y1="346.7" x2="637.22" y2="349.3" stroke="#000" stroke-width="1.2"/>
<line x1="652.31" y1="346.7" x2="652.31" y2="349.3" stroke="#000" stroke-width="1.2"/>
<line x1="682.49" y1="346.7" x2="682.49" y2="349.3" stroke="#000" stroke-width="1.2"/>
<line x1="697.58" y1="346.7" x2="697.58" y2="349.3" stroke="#000" stroke-width="1.2"/>
<line x1="712.67" y1="346.7" x2="712.67" y2="349.3" stroke="#000" stroke-width="1.2"/>
<line x1="727.76" y1="346.7" x2="727.76" y2="349.3" stroke="#000" stroke-width="1.2"/>
<text transform="translate(516.90,361.2) scale(1,1)" font-size="10.3" text-anchor="middle" stroke="#000" stroke-width="0.25">0</text>
<text transform="translate(592.35,361.2) scale(1,1)" font-size="10.3" text-anchor="middle" stroke="#000" stroke-width="0.25">500</text>
<text transform="translate(667.80,361.2) scale(1,1)" font-size="10.3" text-anchor="middle" stroke="#000" stroke-width="0.25">1000</text>
<text transform="translate(743.25,361.2) scale(1,1)" font-size="10.3" text-anchor="middle" stroke="#000" stroke-width="0.25">1500</text>
<text transform="translate(6.2,23.8) scale(1,0.94)" font-size="21.3" fill="#000" stroke="#000" stroke-width="0.3" >(a)</text>
<text transform="translate(258.3,23.8) scale(1,0.94)" font-size="21.3" fill="#000" stroke="#000" stroke-width="0.3" >(b)</text>
<text transform="translate(483.6,23.8) scale(1,0.94)" font-size="21.3" fill="#000" stroke="#000" stroke-width="0.3" >(c)</text>
<text transform="translate(29.5,55.6) scale(1,0.985)" font-size="16" fill="#ff1432" stroke="#ff1432" stroke-width="0.3" >Al<tspan font-size="10.8" dy="-5.3">IV</tspan><tspan dy="5.3" font-size="1">&#8203;</tspan></text>
<text transform="translate(72.8,49.4) scale(1,0.985)" font-size="16" fill="#28ff28" stroke="#28ff28" stroke-width="0.3" >Al<tspan font-size="10.8" dy="-5.3">V</tspan><tspan dy="5.3" font-size="1">&#8203;</tspan></text>
<text transform="translate(129,33.3) scale(1,0.985)" font-size="16" fill="#1a36b4" stroke="#1a36b4" stroke-width="0.3" >Al<tspan font-size="10.8" dy="-5.3">VI</tspan><tspan dy="5.3" font-size="1">&#8203;</tspan></text>
<text transform="translate(295.3,84.6) scale(1,0.985)" font-size="16" fill="#ff1432" stroke="#ff1432" stroke-width="0.3" >Al<tspan font-size="10.8" dy="-5.3">IV</tspan><tspan dy="5.3" font-size="1">&#8203;</tspan></text>
<text transform="translate(330.8,81.6) scale(1,0.985)" font-size="16" fill="#28ff28" stroke="#28ff28" stroke-width="0.3" >Al<tspan font-size="10.8" dy="-5.3">V</tspan><tspan dy="5.3" font-size="1">&#8203;</tspan></text>
<text transform="translate(358,13.6) scale(1,0.985)" font-size="16" fill="#1a36b4" stroke="#1a36b4" stroke-width="0.3" >Al<tspan font-size="10.8" dy="-5.3">VI</tspan><tspan dy="5.3" font-size="1">&#8203;</tspan></text>
<text transform="translate(1.6,100.0) scale(1,0.95)" font-size="16" fill="#000" stroke="#000" stroke-width="0.3" >Siral 70</text>
<text transform="translate(2.4,211.7) scale(1,0.94)" font-size="16" fill="#000" stroke="#000" stroke-width="0.3" >γ-Al<tspan font-size="10.8" dy="2.7">2</tspan><tspan dy="-2.7" font-size="1">&#8203;</tspan>O<tspan font-size="10.8" dy="2.7">3</tspan><tspan dy="-2.7" font-size="1">&#8203;</tspan></text>
<text transform="translate(2,324) scale(1,0.94)" font-size="16" fill="#000" stroke="#000" stroke-width="0.3" >α-Al<tspan font-size="10.8" dy="2.7">2</tspan><tspan dy="-2.7" font-size="1">&#8203;</tspan>O<tspan font-size="10.8" dy="2.7">3</tspan><tspan dy="-2.7" font-size="1">&#8203;</tspan></text>
<text transform="translate(338.3,155.0) scale(1,0.94)" font-size="15.9" fill="#000" stroke="#000" stroke-width="0.3" >Al (4.0 nm)-Ni/SiO<tspan font-size="10.8" dy="2.7">2</tspan><tspan dy="-2.7" font-size="1">&#8203;</tspan></text>
<text transform="translate(341.7,325.9) scale(1,0.94)" font-size="15.9" fill="#000" stroke="#000" stroke-width="0.3" >Al (0.4 nm)-Ni/SiO<tspan font-size="10.8" dy="2.7">2</tspan><tspan dy="-2.7" font-size="1">&#8203;</tspan></text>
<g transform="translate(0,380.9) scale(1,0.94)"><text y="0" font-size="17.8" stroke="#000" stroke-width="0.3"><tspan x="55.3" font-family="Liberation Serif, serif" font-weight="normal" font-size="18.5">δ</tspan><tspan x="67.8" font-family="Liberation Serif, serif" font-weight="normal" font-size="19">(</tspan><tspan x="73.8" y="-7.6" font-family="Liberation Serif, serif" font-weight="normal" font-size="12.5">27</tspan><tspan x="86.2" y="0">Al</tspan><tspan x="103.6" font-family="Liberation Serif, serif" font-weight="normal" font-size="19">)</tspan><tspan x="115.2" font-size="17.9">[ppm]</tspan></text></g>
<g transform="translate(259.5,380.9) scale(1,0.94)"><text y="0" font-size="17.8" stroke="#000" stroke-width="0.3"><tspan x="55.3" font-family="Liberation Serif, serif" font-weight="normal" font-size="18.5">δ</tspan><tspan x="67.8" font-family="Liberation Serif, serif" font-weight="normal" font-size="19">(</tspan><tspan x="73.8" y="-7.6" font-family="Liberation Serif, serif" font-weight="normal" font-size="12.5">27</tspan><tspan x="86.2" y="0">Al</tspan><tspan x="103.6" font-family="Liberation Serif, serif" font-weight="normal" font-size="19">)</tspan><tspan x="115.2" font-size="17.9">[ppm]</tspan></text></g>
<text transform="translate(547.2,379.7) scale(1,0.94)" font-size="17.8" stroke="#000" stroke-width="0.3">Raman shift [cm<tspan font-size="10.8" dy="-7">-1</tspan><tspan dy="7">]</tspan></text>
<line x1="516.3" y1="296.6" x2="543.9" y2="296.6" stroke="#ff1428" stroke-width="1.5"/>
<line x1="516.3" y1="315.3" x2="543.9" y2="315.3" stroke="#10a010" stroke-width="1.5"/>
<line x1="516.3" y1="333.3" x2="543.9" y2="333.3" stroke="#000" stroke-width="1.5"/>
<text transform="translate(548.3,301.5) scale(1,0.94)" font-size="12.6" fill="#000" stroke="#000" stroke-width="0.3" >Al (4.0 nm)-Ni/SiO<tspan font-size="8" dy="2.5">2</tspan><tspan dy="-2.5" font-size="1">&#8203;</tspan></text>
<text transform="translate(548.3,319.9) scale(1,0.94)" font-size="12.6" fill="#000" stroke="#000" stroke-width="0.3" >Al (0.4 nm)-Ni/SiO<tspan font-size="8" dy="2.5">2</tspan><tspan dy="-2.5" font-size="1">&#8203;</tspan></text>
<text transform="translate(548.3,337.9) scale(1,0.94)" font-size="12.6" fill="#000" stroke="#000" stroke-width="0.3" >Ni/SiO<tspan font-size="8" dy="2.5">2</tspan><tspan dy="-2.5" font-size="1">&#8203;</tspan></text>
<text transform="translate(571.5,65) scale(1,0.94) rotate(-39.5)" font-size="14.1" fill="#000" stroke="#000" stroke-width="0.3">Si-O-Si</text>
<text transform="translate(629,104) scale(1,0.94) rotate(-39.5)" font-size="14.1" fill="#ff1432" stroke="#ff1432" stroke-width="0.3">AlO<tspan font-size="9" dy="2.5">4</tspan><tspan dy="-2.5" font-size="1">&#8203;</tspan></text>
<text transform="translate(638.5,124.3) scale(1,0.94) rotate(-39.5)" font-size="14.1" fill="#000" stroke="#000" stroke-width="0.3">SiO<tspan font-size="9" dy="2.5">4</tspan><tspan dy="-2.5" font-size="1">&#8203;</tspan></text>
<text transform="translate(675.7,94.8) scale(1,0.94) rotate(-39.5)" font-size="14.1" fill="#ff1432" stroke="#ff1432" stroke-width="0.3">Si-O-Al</text>
<text transform="translate(589.1,71.3) scale(1,0.94)" font-size="14" fill="#000" stroke="#000" stroke-width="0.3" >D<tspan font-size="9.5" dy="2.5">1</tspan><tspan dy="-2.5" font-size="1">&#8203;</tspan></text>
<text transform="translate(603.6,95) scale(1,0.94)" font-size="14" fill="#000" stroke="#000" stroke-width="0.3" >D<tspan font-size="9.5" dy="2.5">2</tspan><tspan dy="-2.5" font-size="1">&#8203;</tspan></text>
</svg>
</body></html>
